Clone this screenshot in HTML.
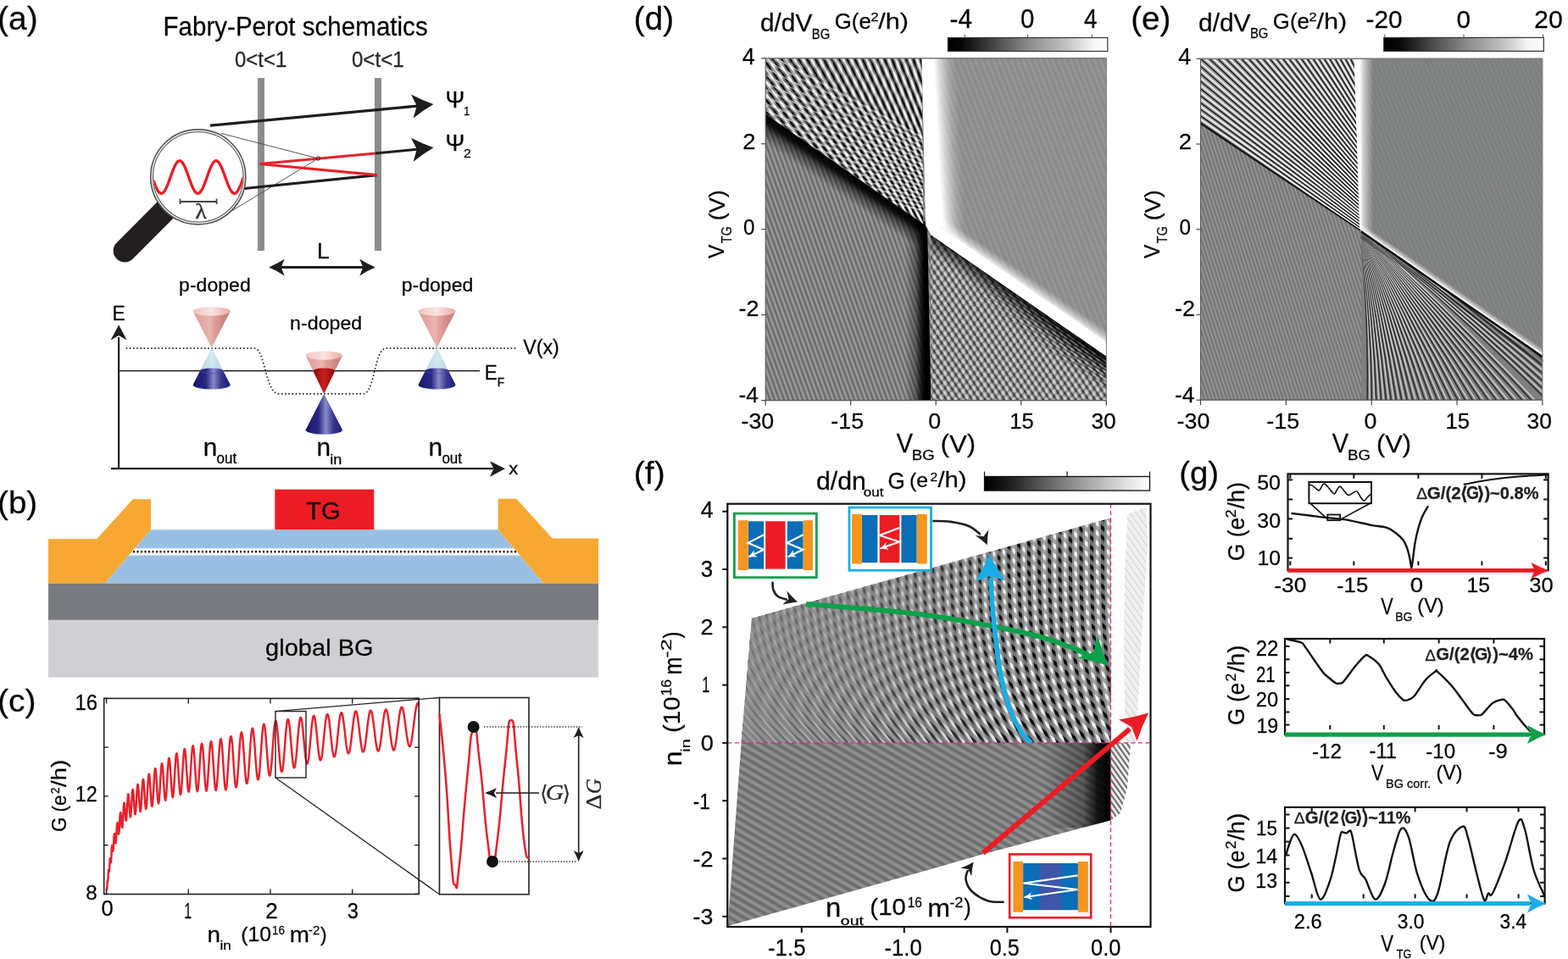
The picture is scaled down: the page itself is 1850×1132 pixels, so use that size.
<!DOCTYPE html>
<html><head><meta charset="utf-8"><title>Fabry-Perot interference in graphene</title>
<style>
html,body{margin:0;padding:0;background:#fff;}
body{width:1850px;height:1132px;overflow:hidden;}
svg{display:block;font-family:'Liberation Sans', 'DejaVu Sans', sans-serif;}
text{stroke:#1d1d1b;stroke-width:0.28px;stroke-linejoin:round;}
</style></head><body>
<svg width="1850" height="1132" viewBox="0 0 1850 1132">
<defs>
<clipPath id="clipLens"><circle cx="233.75" cy="208.85" r="52.6"/></clipPath>
<linearGradient id="gPink" x1="0" x2="1" y1="0" y2="0">
<stop offset="0" stop-color="#dc9a96"/><stop offset="0.45" stop-color="#eab5b0"/>
<stop offset="0.55" stop-color="#e2a29d"/><stop offset="1" stop-color="#c07470"/></linearGradient>
<linearGradient id="gPinkTop" x1="0" x2="1"><stop offset="0" stop-color="#f2c3bf"/><stop offset="0.5" stop-color="#fbe4e1"/><stop offset="1" stop-color="#e6a9a5"/></linearGradient>
<linearGradient id="gLBlue" x1="0" x2="1"><stop offset="0" stop-color="#a6cddb"/><stop offset="0.5" stop-color="#d2e8ef"/><stop offset="1" stop-color="#a3c8d6"/></linearGradient>
<linearGradient id="gDBlue" x1="0" x2="1"><stop offset="0" stop-color="#16166a"/><stop offset="0.35" stop-color="#2a2a86"/>
<stop offset="0.55" stop-color="#8a8ac8"/><stop offset="0.75" stop-color="#3a3a92"/><stop offset="1" stop-color="#1c1c70"/></linearGradient>
<linearGradient id="gRed" x1="0" x2="1"><stop offset="0" stop-color="#8c0c0c"/><stop offset="0.5" stop-color="#c82020"/><stop offset="1" stop-color="#8a0a0a"/></linearGradient>
<clipPath id="clipC"><rect x="122.7" y="822.4" width="371.5" height="233.1"/></clipPath>
<linearGradient id="cbD" x1="0" x2="1"><stop offset="0" stop-color="#000"/><stop offset="0.08" stop-color="#050505"/>
<stop offset="0.3" stop-color="#4a4a4a"/><stop offset="0.5" stop-color="#8a8a8a"/><stop offset="0.75" stop-color="#c4c4c4"/>
<stop offset="0.92" stop-color="#f8f8f8"/><stop offset="1" stop-color="#fff"/></linearGradient>
<pattern id="pdUL" width="9.4" height="40" patternUnits="userSpaceOnUse" patternTransform="rotate(-24)"><rect width="9.4" height="40" fill="#8f8f8f"/><rect x="0" width="2.7" height="40" fill="#0a0a0a"/><rect x="2.7" width="0.9" height="40" fill="#4a4a4a"/><rect x="4.7" width="3" height="40" fill="#fbfbfb"/><rect x="7.7" width="0.9" height="40" fill="#c8c8c8"/></pattern>
<pattern id="pdUL2" width="11" height="40" patternUnits="userSpaceOnUse" patternTransform="rotate(14)"><rect x="0" width="4" height="40" fill="#ffffff" fill-opacity="0.16"/><rect x="5.5" width="4" height="40" fill="#000" fill-opacity="0.14"/></pattern>
<pattern id="pdLL" width="5.2" height="40" patternUnits="userSpaceOnUse" patternTransform="rotate(-20)"><rect width="5.2" height="40" fill="#7f7f7f"/><rect x="0" width="1.2" height="40" fill="#626262"/><rect x="2.5" width="1.4" height="40" fill="#a4a4a4"/></pattern>
<pattern id="pdUR" width="6.5" height="40" patternUnits="userSpaceOnUse" patternTransform="rotate(-22)"><rect width="6.5" height="40" fill="#8f8f8f"/><rect x="0" width="1.2" height="40" fill="#9a9a9a"/><rect x="3" width="1" height="40" fill="#868686"/></pattern>
<pattern id="pdLR" width="6.4" height="40" patternUnits="userSpaceOnUse" patternTransform="rotate(-33)"><rect width="6.4" height="40" fill="#949494"/><rect x="0" width="1.6" height="40" fill="#3e3e3e"/><rect x="3" width="1.8" height="40" fill="#d4d4d4"/></pattern>
<pattern id="pdLR2" width="7.5" height="40" patternUnits="userSpaceOnUse" patternTransform="rotate(40)"><rect x="0" width="2" height="40" fill="#000" fill-opacity="0.25"/><rect x="3.7" width="2" height="40" fill="#fff" fill-opacity="0.25"/></pattern>
<linearGradient id="gdShadow" gradientUnits="userSpaceOnUse" x1="996" y1="199.4" x2="980" y2="222.4">
<stop offset="0" stop-color="#000" stop-opacity="1"/><stop offset="0.28" stop-color="#000" stop-opacity="0.9"/>
<stop offset="0.55" stop-color="#000" stop-opacity="0.45"/><stop offset="1" stop-color="#000" stop-opacity="0"/></linearGradient>
<linearGradient id="gdVband" gradientUnits="userSpaceOnUse" x1="1068" y1="0" x2="1099" y2="0"><stop offset="0" stop-color="#000" stop-opacity="0"/>
<stop offset="0.4" stop-color="#000" stop-opacity="0.35"/><stop offset="0.62" stop-color="#000" stop-opacity="0.85"/><stop offset="0.75" stop-color="#000" stop-opacity="1"/></linearGradient>
<clipPath id="clipDUL"><path d="M903.2 68.8 L1087.6 68.8 L1089.4 264.3 L903.2 134.5 Z"/></clipPath>
<clipPath id="clipDUL2"><path d="M903.2 68.8 L1087.6 68.8 L1089.4 264.3 L903.2 134.5 Z"/></clipPath>
<linearGradient id="gdURl" gradientUnits="userSpaceOnUse" x1="1101" y1="69" x2="1128" y2="67.5"><stop offset="0" stop-color="#fff" stop-opacity="1"/>
<stop offset="0.3" stop-color="#fff" stop-opacity="0.6"/><stop offset="0.65" stop-color="#fff" stop-opacity="0.2"/><stop offset="1" stop-color="#fff" stop-opacity="0"/></linearGradient>
<linearGradient id="gdURd" gradientUnits="userSpaceOnUse" x1="1200" y1="332.5" x2="1207.5" y2="321.7"><stop offset="0" stop-color="#fff" stop-opacity="1"/>
<stop offset="0.4" stop-color="#fff" stop-opacity="0.5"/><stop offset="1" stop-color="#fff" stop-opacity="0"/></linearGradient>
<linearGradient id="gdLRt" gradientUnits="userSpaceOnUse" x1="1200" y1="347.6" x2="1188.5" y2="364"><stop offset="0" stop-color="#000" stop-opacity="0.95"/>
<stop offset="0.15" stop-color="#000" stop-opacity="0.6"/><stop offset="0.5" stop-color="#000" stop-opacity="0.3"/><stop offset="1" stop-color="#000" stop-opacity="0"/></linearGradient>
<linearGradient id="gdLRs" gradientUnits="userSpaceOnUse" x1="1130" y1="0" x2="1265" y2="0"><stop offset="0" stop-color="#000" stop-opacity="0"/><stop offset="1" stop-color="#000" stop-opacity="1"/></linearGradient>
<clipPath id="clipDLR"><path d="M1098.4 277.4 L1305.3 420.7 L1305.3 472.6 L1098.4 472.6 Z"/></clipPath>
<linearGradient id="cbE" x1="0" x2="1"><stop offset="0" stop-color="#000"/><stop offset="0.1" stop-color="#080808"/>
<stop offset="0.3" stop-color="#4a4a4a"/><stop offset="0.5" stop-color="#868686"/><stop offset="0.75" stop-color="#c2c2c2"/>
<stop offset="0.9" stop-color="#f4f4f4"/><stop offset="1" stop-color="#fff"/></linearGradient>
<pattern id="peUL" width="6.4" height="40" patternUnits="userSpaceOnUse" patternTransform="rotate(-50)"><rect width="6.4" height="40" fill="#b0b0b0"/><rect x="0" width="1.5" height="40" fill="#111"/><rect x="1.5" width="0.8" height="40" fill="#5a5a5a"/><rect x="3.4" width="2" height="40" fill="#f8f8f8"/></pattern>
<pattern id="peULb" width="6" height="40" patternUnits="userSpaceOnUse" patternTransform="rotate(-34)"><rect width="6" height="40" fill="#a8a8a8"/><rect x="0" width="1.5" height="40" fill="#111"/><rect x="1.5" width="0.8" height="40" fill="#5a5a5a"/><rect x="3.2" width="1.9" height="40" fill="#f8f8f8"/></pattern>
<pattern id="peUL2" width="9" height="40" patternUnits="userSpaceOnUse" patternTransform="rotate(5)"><rect x="0" width="3" height="40" fill="#fff" fill-opacity="0.12"/><rect x="4.5" width="3" height="40" fill="#000" fill-opacity="0.12"/></pattern>
<pattern id="peLL" width="4.2" height="40" patternUnits="userSpaceOnUse" patternTransform="rotate(-18)"><rect width="4.2" height="40" fill="#838383"/><rect x="0" width="1" height="40" fill="#6c6c6c"/><rect x="2.1" width="1" height="40" fill="#9b9b9b"/></pattern>
<pattern id="peUR" width="5" height="40" patternUnits="userSpaceOnUse" patternTransform="rotate(-22)"><rect width="5" height="40" fill="#808181"/><rect x="0" width="1" height="40" fill="#878888"/><rect x="2.5" width="1" height="40" fill="#7a7b7b"/></pattern>
<pattern id="peLR" width="6.2" height="40" patternUnits="userSpaceOnUse" patternTransform="rotate(-42)"><rect width="6.2" height="40" fill="#7e7e7e"/><rect x="0" width="1.5" height="40" fill="#3a3a3a"/><rect x="3.1" width="1.6" height="40" fill="#c6c6c6"/></pattern>
<pattern id="peLRb" width="5.6" height="40" patternUnits="userSpaceOnUse" patternTransform="rotate(-22)"><rect width="5.6" height="40" fill="#7e7e7e"/><rect x="0" width="1.4" height="40" fill="#333"/><rect x="2.8" width="1.5" height="40" fill="#cfcfcf"/></pattern>
<pattern id="peLRc" width="4.6" height="40" patternUnits="userSpaceOnUse" patternTransform="rotate(-8)"><rect width="4.6" height="40" fill="#7c7c7c"/><rect x="0" width="1.1" height="40" fill="#444"/><rect x="2.3" width="1.2" height="40" fill="#bdbdbd"/></pattern>
<clipPath id="clipEUL"><path d="M1416.5 69.3 L1597.6 69.3 L1605 270.9 L1416.5 144.8 Z"/></clipPath>
<linearGradient id="geURl" gradientUnits="userSpaceOnUse" x1="1604" y1="0" x2="1620" y2="0"><stop offset="0" stop-color="#fff" stop-opacity="1"/>
<stop offset="0.35" stop-color="#fff" stop-opacity="0.55"/><stop offset="1" stop-color="#fff" stop-opacity="0"/></linearGradient>
<linearGradient id="geURd" gradientUnits="userSpaceOnUse" x1="1710" y1="344.5" x2="1714.5" y2="338"><stop offset="0" stop-color="#fff" stop-opacity="1"/>
<stop offset="1" stop-color="#fff" stop-opacity="0"/></linearGradient>
<clipPath id="clipELR"><path d="M1606 272 L1819.9 419.8 L1819.9 472.2 L1606 472.2 Z"/></clipPath>
<clipPath id="clipF"><path d="M887 729.9 L1310.5 611.4 L1310.5 968.3 L1159.8 1008.2 L1100 1025.6 L859 1093 L860 1073 L874.6 876.9 Z"/></clipPath>
<pattern id="pfU" width="13" height="11.5" patternUnits="userSpaceOnUse" patternTransform="translate(3 0)">
<rect width="13" height="11.5" fill="#8e8e8e"/>
<path d="M1 0 L5.5 0 L8.5 5.2 L4 5.2 Z" fill="#0a0a0a"/>
<path d="M6 5.2 L10.5 5.2 L13 10 L8.5 10 Z" fill="#f2f2f2"/>
<path d="M8.5 0 L10.5 0 L12 3 L10 3 Z" fill="#d0d0d0"/>
<path d="M0 6 L2.5 6 L4 9.5 L1.5 9.5 Z" fill="#3a3a3a"/>
</pattern>
<pattern id="pfL" width="8.2" height="40" patternUnits="userSpaceOnUse" patternTransform="rotate(-60)"><rect width="8.2" height="40" fill="#7e7e7e"/><rect x="0" width="2.2" height="40" fill="#686868"/><rect x="4.1" width="2" height="40" fill="#969696"/></pattern>
<pattern id="pfUL" width="7" height="40" patternUnits="userSpaceOnUse" patternTransform="rotate(14)"><rect width="7" height="40" fill="#8c8c8c"/><rect x="0" width="1.6" height="40" fill="#5a5a5a"/><rect x="3.4" width="1.6" height="40" fill="#b8b8b8"/></pattern>
<pattern id="pfBlob" width="8.8" height="40" patternUnits="userSpaceOnUse" patternTransform="rotate(-50)"><rect x="0" width="4.6" height="40" fill="#8d8d8d" fill-opacity="0.78"/></pattern>
<linearGradient id="gfFade" gradientUnits="userSpaceOnUse" x1="860" y1="0" x2="1200" y2="0">
<stop offset="0" stop-color="#8c8c8c" stop-opacity="0.85"/><stop offset="0.45" stop-color="#8c8c8c" stop-opacity="0.6"/>
<stop offset="1" stop-color="#8c8c8c" stop-opacity="0"/></linearGradient>
<linearGradient id="gfDark" gradientUnits="userSpaceOnUse" x1="1230" y1="0" x2="1311" y2="0">
<stop offset="0" stop-color="#000" stop-opacity="0"/><stop offset="0.6" stop-color="#000" stop-opacity="0.35"/>
<stop offset="0.8" stop-color="#000" stop-opacity="0.85"/><stop offset="1" stop-color="#000" stop-opacity="1"/></linearGradient>
<pattern id="pfR" width="6" height="40" patternUnits="userSpaceOnUse" patternTransform="rotate(-35)"><rect width="6" height="40" fill="#f6f6f6"/><rect x="0" width="1.6" height="40" fill="#d6d6d6"/><rect x="3" width="1.2" height="40" fill="#e8e8e8"/></pattern>
<pattern id="pfR2" width="5" height="40" patternUnits="userSpaceOnUse" patternTransform="rotate(-35)"><rect width="5" height="40" fill="#dcdcdc"/><rect x="0" width="1.6" height="40" fill="#555"/><rect x="2.5" width="1.3" height="40" fill="#f8f8f8"/></pattern>
<linearGradient id="cbF" x1="0" x2="1"><stop offset="0" stop-color="#000"/><stop offset="0.12" stop-color="#151515"/>
<stop offset="0.35" stop-color="#5a5a5a"/><stop offset="0.6" stop-color="#a0a0a0"/><stop offset="0.85" stop-color="#dedede"/><stop offset="1" stop-color="#fff"/></linearGradient>
<linearGradient id="gfBar" x1="0" x2="1"><stop offset="0" stop-color="#0a6db6"/><stop offset="0.28" stop-color="#0a6db6"/>
<stop offset="0.34" stop-color="#3f55a8"/><stop offset="0.66" stop-color="#3f55a8"/><stop offset="0.72" stop-color="#0a6db6"/><stop offset="1" stop-color="#0a6db6"/></linearGradient>
</defs>
<rect width="1850" height="1132" fill="#fff"/>
<rect x="304" y="92" width="8" height="204" fill="#8c8c8c" />
<rect x="442" y="92" width="8" height="204" fill="#8c8c8c" />
<line x1="261" y1="157.5" x2="375.4" y2="187" stroke="#555" stroke-width="1" />
<line x1="272.5" y1="249.5" x2="375.4" y2="187" stroke="#555" stroke-width="1" />
<line x1="248" y1="148.2" x2="495" y2="124.8" stroke="#1d1d1b" stroke-width="3.2" />
<path d="M511.7 123.1 Q499.55 130.02 487.64 139.45 L491.79 125 L484.99 111.58 Q498.46 118.59 511.7 123.1 Z" fill="#1d1d1b" />
<line x1="288.5" y1="222.5" x2="445" y2="206.6" stroke="#1d1d1b" stroke-width="3.2" />
<line x1="445" y1="206.6" x2="306.5" y2="193.5" stroke="#e8202a" stroke-width="3.2" />
<line x1="306.5" y1="193.5" x2="443" y2="181" stroke="#e8202a" stroke-width="3.2" />
<line x1="443" y1="181" x2="495" y2="176" stroke="#1d1d1b" stroke-width="3.2" />
<path d="M511.7 174.3 Q499.57 181.25 487.68 190.71 L491.79 176.24 L484.96 162.84 Q498.45 169.82 511.7 174.3 Z" fill="#1d1d1b" />
<circle cx="375.4" cy="187" r="2.2" fill="none" stroke="#333" stroke-width="1"/>
<line x1="147.2" y1="296" x2="205" y2="238" stroke="#231f20" stroke-width="27" stroke-linecap="round"/>
<circle cx="233.75" cy="208.85" r="56" fill="#fff" stroke="#555" stroke-width="1.7"/>
<circle cx="233.75" cy="208.85" r="53.3" fill="#fff" stroke="#666" stroke-width="1.3"/>
<path d="M181 213.03 L182.06 215.9 L183.13 218.6 L184.19 221.07 L185.25 223.26 L186.31 225.11 L187.38 226.57 L188.44 227.61 L189.5 228.2 L190.57 228.34 L191.63 228.01 L192.69 227.24 L193.76 226.02 L194.82 224.4 L195.88 222.41 L196.94 220.1 L198.01 217.52 L199.07 214.74 L200.13 211.83 L201.2 208.85 L202.26 205.87 L203.32 202.97 L204.39 200.22 L205.45 197.67 L206.51 195.4 L207.57 193.46 L208.64 191.89 L209.7 190.73 L210.76 190.01 L211.83 189.75 L212.89 189.95 L213.95 190.61 L215.02 191.71 L216.08 193.22 L217.14 195.12 L218.21 197.34 L219.27 199.85 L220.33 202.58 L221.39 205.47 L222.46 208.44 L223.52 211.42 L224.58 214.35 L225.65 217.15 L226.71 219.76 L227.77 222.11 L228.84 224.14 L229.9 225.82 L230.96 227.09 L232.02 227.93 L233.09 228.32 L234.15 228.25 L235.21 227.72 L236.28 226.74 L237.34 225.33 L238.4 223.54 L239.47 221.39 L240.53 218.96 L241.59 216.28 L242.65 213.43 L243.72 210.48 L244.78 207.49 L245.84 204.54 L246.91 201.7 L247.97 199.03 L249.03 196.61 L250.1 194.48 L251.16 192.7 L252.22 191.31 L253.28 190.35 L254.35 189.84 L255.41 189.78 L256.47 190.19 L257.54 191.05 L258.6 192.35 L259.66 194.04 L260.73 196.09 L261.79 198.45 L262.85 201.07 L263.91 203.88 L264.98 206.81 L266.04 209.8 L267.1 212.76 L268.17 215.64 L269.23 218.36 L270.29 220.86 L271.36 223.07 L272.42 224.95 L273.48 226.45 L274.54 227.53 L275.61 228.17 L276.67 228.35 L277.73 228.06 L278.8 227.32 L279.86 226.15 L280.92 224.56 L281.99 222.6 L283.05 220.32 L284.11 217.77 L285.17 215 L286.24 212.1 L287.3 209.12" fill="none" stroke="#ec1c24" stroke-width="3.3" stroke-linejoin="round" clip-path="url(#clipLens)"/>
<line x1="212.5" y1="238" x2="255.6" y2="238" stroke="#444" stroke-width="1.8" />
<line x1="212.5" y1="234.6" x2="212.5" y2="241" stroke="#444" stroke-width="1.8" />
<line x1="255.6" y1="234.6" x2="255.6" y2="241" stroke="#444" stroke-width="1.8" />
<line x1="330" y1="315.6" x2="432" y2="315.6" stroke="#1d1d1b" stroke-width="3" />
<path d="M317.2 315.6 Q326.45 311.58 335.7 305.8 L331.7 315.6 L335.7 325.4 Q326.45 319.62 317.2 315.6 Z" fill="#1d1d1b" />
<path d="M442.8 315.6 Q433.55 319.62 424.3 325.4 L428.3 315.6 L424.3 305.8 Q433.55 311.58 442.8 315.6 Z" fill="#1d1d1b" />
<line x1="140.1" y1="398" x2="140.1" y2="553.5" stroke="#1d1d1b" stroke-width="2.2" />
<path d="M140.1 383.6 L130.6 401.5 L140.1 396 L149.7 401.5 Z" fill="#1d1d1b" />
<line x1="131" y1="553.2" x2="582" y2="553.2" stroke="#1d1d1b" stroke-width="2.2" />
<path d="M596 553.2 L578 544.3 L582.5 553.2 L578 562.7 Z" fill="#1d1d1b" />
<line x1="140.1" y1="437.7" x2="566" y2="437.7" stroke="#222" stroke-width="1.6" />
<path d="M148.6 411.2 L300 411.2 C313 411.2 313 464.8 328.8 464.8 L428 464.8 C443 464.8 441 411.2 455.8 411.2 L609.7 411.2" fill="none" stroke="#222" stroke-width="1.7" stroke-dasharray="1.6 2.6"/>
<path d="M227.7 367.5 L249.7 410.5 L271.7 367.5 Z" fill="url(#gPink)" />
<ellipse cx="249.7" cy="367.5" rx="22" ry="5.2" fill="url(#gPinkTop)"/>
<path d="M249.7 410.5 L227.7 454.3 L271.7 454.3 Z" fill="url(#gLBlue)" />
<path d="M236.04 437.7 L227.7 454.3 A22 5.2 0 0 0 271.7 454.3 L263.36 437.7 A13.66 3.12 0 0 0 236.04 437.7 Z" fill="url(#gDBlue)" />
<path d="M236.04 437.7 A13.66 3.12 0 0 0 263.36 437.7" fill="none" stroke="#4a4aa0" stroke-width="1" opacity="0.6"/>
<path d="M493.5 367.5 L515.5 410.5 L537.5 367.5 Z" fill="url(#gPink)" />
<ellipse cx="515.5" cy="367.5" rx="22" ry="5.2" fill="url(#gPinkTop)"/>
<path d="M515.5 410.5 L493.5 454.3 L537.5 454.3 Z" fill="url(#gLBlue)" />
<path d="M501.84 437.7 L493.5 454.3 A22 5.2 0 0 0 537.5 454.3 L529.16 437.7 A13.66 3.12 0 0 0 501.84 437.7 Z" fill="url(#gDBlue)" />
<path d="M501.84 437.7 A13.66 3.12 0 0 0 529.16 437.7" fill="none" stroke="#4a4aa0" stroke-width="1" opacity="0.6"/>
<path d="M360.6 419.6 L382.3 464.8 L404 419.6 Z" fill="url(#gPink)" />
<ellipse cx="382.3" cy="419.6" rx="21.7" ry="5.2" fill="url(#gPinkTop)"/>
<path d="M369.29 437.7 L382.3 464.8 L395.31 437.7 A13.01 3.12 0 0 0 369.29 437.7 Z" fill="url(#gRed)" />
<path d="M382.3 464.8 L360.6 507.6 A21.7 5.2 0 0 0 404 507.6 Z" fill="url(#gDBlue)" />
<rect x="57" y="731.6" width="649" height="68" fill="#d0d0d4" />
<rect x="57" y="688.4" width="649" height="43.4" fill="#787b7f" />
<path d="M178 625.2 L587.6 625.2 L641.6 688.4 L123.7 688.4 Z" fill="#99c0e3" />
<path d="M154.6 647.2 L611 647.2 L618 655.4 L147.6 655.4 Z" fill="#fff" />
<line x1="157" y1="651.3" x2="610" y2="651.3" stroke="#111" stroke-width="2.6" stroke-dasharray="2 2.5"/>
<path d="M57 636.2 L114.2 636.2 L156.8 589.2 L178 589.2 L178 625.2 L123.7 688.4 L57 688.4 Z" fill="#f7a833" />
<path d="M587.6 588.8 L609.2 588.8 L651.9 635.4 L706 635.4 L706 688.4 L641.6 688.4 L587.6 625.2 Z" fill="#f7a833" />
<rect x="324.3" y="577.7" width="117" height="47.5" fill="#ec1c24" />
<path d="M125.6 1051.07 L125.79 1050.09 L125.99 1048.04 L126.18 1049.11 L126.37 1046.4 L126.57 1041.91 L126.76 1039.68 L126.95 1040.18 L127.15 1041 L127.34 1039.8 L127.53 1036.2 L127.73 1031.62 L127.92 1027.98 L128.11 1026.46 L128.31 1026.92 L128.5 1028.18 L128.69 1029.26 L128.89 1028.56 L129.08 1025.95 L129.27 1022.08 L129.47 1018.02 L129.66 1014.87 L129.85 1013.3 L130.05 1013.41 L130.24 1014.78 L130.44 1016.6 L130.63 1017.98 L130.82 1018.19 L131.02 1016.89 L131.21 1014.12 L131.4 1010.32 L131.6 1006.16 L131.79 1002.36 L131.98 999.53 L132.18 998.06 L132.37 997.99 L132.56 999.09 L132.76 1000.88 L132.95 1002.76 L133.14 1004.14 L133.34 1004.52 L133.53 1004.1 L133.72 1002.36 L133.92 999.53 L134.11 995.98 L134.3 992.23 L134.5 988.77 L134.69 986.07 L134.88 984.44 L135.08 984.02 L135.27 984.77 L135.46 986.45 L135.66 988.73 L135.85 991.17 L136.04 993.34 L136.24 994.84 L136.43 995.39 L136.62 994.83 L136.82 993.15 L137.01 990.5 L137.2 987.14 L137.4 983.39 L137.59 979.66 L137.78 976.3 L137.98 973.64 L138.17 971.9 L138.36 971.21 L138.56 971.57 L138.75 972.85 L138.94 974.84 L139.14 977.25 L139.33 979.75 L139.52 982 L139.72 983.7 L139.91 984.61 L140.11 984.57 L140.3 983.75 L140.49 981.97 L140.69 979.36 L140.88 976.13 L141.07 972.56 L141.27 968.95 L141.46 965.57 L141.65 962.71 L141.85 960.58 L142.04 959.33 L142.23 959.03 L142.43 959.66 L142.62 961.13 L142.81 963.28 L143.01 965.87 L143.2 968.67 L143.39 971.4 L143.59 973.81 L143.78 975.66 L143.97 976.78 L144.17 977.04 L144.36 976.4 L144.55 974.86 L144.75 972.53 L144.94 969.54 L145.13 966.08 L145.33 962.39 L145.52 958.71 L145.71 955.26 L145.91 952.27 L146.1 949.93 L146.29 948.36 L146.49 947.64 L146.68 947.79 L146.87 948.77 L147.07 950.49 L147.26 952.79 L147.45 955.49 L147.65 958.38 L147.84 961.24 L148.03 963.86 L148.23 966.04 L148.42 967.61 L148.61 968.45 L148.81 968.47 L149 967.65 L149.19 966.01 L149.39 963.64 L149.58 960.64 L149.78 957.17 L149.97 953.7 L150.16 950.16 L150.36 946.75 L150.55 943.66 L150.74 941.06 L150.94 939.09 L151.13 937.84 L151.32 937.39 L151.52 937.73 L151.71 938.85 L151.9 940.66 L152.1 943.05 L152.29 945.89 L152.48 949 L152.68 952.21 L152.87 955.34 L153.06 958.22 L153.26 960.68 L153.45 962.59 L153.64 963.84 L153.84 964.37 L154.03 964.14 L154.22 963.16 L154.42 961.48 L154.61 959.16 L154.8 956.33 L155 953.12 L155.19 949.68 L155.38 946.18 L155.58 942.77 L155.77 939.61 L155.96 936.85 L156.16 934.62 L156.35 933 L156.54 932.07 L156.74 931.86 L156.93 932.36 L157.12 933.56 L157.32 935.37 L157.51 937.72 L157.7 940.48 L157.9 943.52 L158.09 946.7 L158.28 949.87 L158.48 952.88 L158.67 955.59 L158.86 957.87 L159.06 959.63 L159.25 960.77 L159.45 961.25 L159.64 961.04 L159.83 960.14 L160.03 958.59 L160.22 956.45 L160.41 953.8 L160.61 950.75 L160.8 947.42 L160.99 943.94 L161.19 940.45 L161.38 937.09 L161.57 933.98 L161.77 931.24 L161.96 928.98 L162.15 927.28 L162.35 926.2 L162.54 925.78 L162.73 926.02 L162.93 926.9 L163.12 928.39 L163.31 930.42 L163.51 932.91 L163.7 935.75 L163.89 938.82 L164.09 942.01 L164.28 945.19 L164.47 948.26 L164.67 951.06 L164.86 953.5 L165.05 955.48 L165.25 956.92 L165.44 957.77 L165.63 957.99 L165.83 957.58 L166.02 956.53 L166.21 954.89 L166.41 952.72 L166.6 950.08 L166.79 947.07 L166.99 943.78 L167.18 940.34 L167.37 936.85 L167.57 933.44 L167.76 930.21 L167.95 927.28 L168.15 924.74 L168.34 922.66 L168.53 921.13 L168.73 920.17 L168.92 919.83 L169.12 920.1 L169.31 920.96 L169.5 922.4 L169.7 924.35 L169.89 926.74 L170.08 929.5 L170.28 932.51 L170.47 935.7 L170.66 938.93 L170.86 942.11 L171.05 945.13 L171.24 947.89 L171.44 950.3 L171.63 952.28 L171.82 953.75 L172.02 954.68 L172.21 955.03 L172.4 954.79 L172.6 953.95 L172.79 952.55 L172.98 950.63 L173.18 948.23 L173.37 945.43 L173.56 942.31 L173.76 938.97 L173.95 935.49 L174.14 931.99 L174.34 928.55 L174.53 925.29 L174.72 922.29 L174.92 919.64 L175.11 917.41 L175.3 915.66 L175.5 914.44 L175.69 913.78 L175.88 913.7 L176.08 914.19 L176.27 915.23 L176.46 916.8 L176.66 918.83 L176.85 921.27 L177.04 924.05 L177.24 927.08 L177.43 930.27 L177.62 933.53 L177.82 936.76 L178.01 939.88 L178.2 942.79 L178.4 945.4 L178.59 947.65 L178.79 949.46 L178.98 950.79 L179.17 951.59 L179.37 951.84 L179.56 951.54 L179.75 950.68 L179.95 949.29 L180.14 947.39 L180.33 945.05 L180.53 942.32 L180.72 939.26 L180.91 935.96 L181.11 932.49 L181.3 928.96 L181.49 925.43 L181.69 922.02 L181.88 918.79 L182.07 915.83 L182.27 913.21 L182.46 910.99 L182.65 909.24 L182.85 907.98 L183.04 907.25 L183.23 907.06 L183.43 907.41 L183.62 908.3 L183.81 909.71 L184.01 911.59 L184.2 913.88 L184.39 916.52 L184.59 919.44 L184.78 922.57 L184.97 925.83 L185.17 929.13 L185.36 932.4 L185.55 935.54 L185.75 938.48 L185.94 941.15 L186.13 943.47 L186.33 945.4 L186.52 946.88 L186.71 947.88 L186.91 948.37 L187.1 948.34 L187.29 947.79 L187.49 946.72 L187.68 945.17 L187.87 943.16 L188.07 940.74 L188.26 937.97 L188.46 934.91 L188.65 931.62 L188.84 928.19 L189.04 924.68 L189.23 921.18 L189.42 917.76 L189.62 914.5 L189.81 911.47 L190 908.73 L190.2 906.34 L190.39 904.36 L190.58 902.82 L190.78 901.76 L190.97 901.2 L191.16 901.14 L191.36 901.58 L191.55 902.51 L191.74 903.9 L191.94 905.73 L192.13 907.95 L192.32 910.5 L192.52 913.33 L192.71 916.37 L192.9 919.56 L193.1 922.82 L193.29 926.08 L193.48 929.27 L193.68 932.31 L193.87 935.14 L194.06 937.7 L194.26 939.93 L194.45 941.78 L194.64 943.22 L194.84 944.2 L195.03 944.71 L195.22 944.73 L195.42 944.26 L195.61 943.32 L195.8 941.91 L196 940.07 L196.19 937.83 L196.38 935.23 L196.58 932.34 L196.77 929.2 L196.96 925.88 L197.16 922.44 L197.35 918.95 L197.54 915.49 L197.74 912.11 L197.93 908.88 L198.13 905.87 L198.32 903.13 L198.51 900.72 L198.71 898.67 L198.9 897.04 L199.09 895.84 L199.29 895.1 L199.48 894.83 L199.67 895.04 L199.87 895.7 L200.06 896.82 L200.25 898.37 L200.45 900.3 L200.64 902.59 L200.83 905.18 L201.03 908.02 L201.22 911.05 L201.41 914.22 L201.61 917.46 L201.8 920.7 L201.99 923.89 L202.19 926.95 L202.38 929.84 L202.57 932.48 L202.77 934.84 L202.96 936.86 L203.15 938.52 L203.35 939.77 L203.54 940.6 L203.73 940.97 L203.93 940.88 L204.12 940.34 L204.31 939.36 L204.51 937.94 L204.7 936.12 L204.89 933.93 L205.09 931.4 L205.28 928.59 L205.47 925.55 L205.67 922.32 L205.86 918.97 L206.05 915.55 L206.25 912.13 L206.44 908.76 L206.63 905.51 L206.83 902.42 L207.02 899.57 L207.21 896.98 L207.41 894.72 L207.6 892.8 L207.8 891.28 L207.99 890.17 L208.18 889.48 L208.38 889.24 L208.57 889.43 L208.76 890.07 L208.96 891.12 L209.15 892.57 L209.34 894.4 L209.54 896.57 L209.73 899.03 L209.92 901.75 L210.12 904.68 L210.31 907.76 L210.5 910.94 L210.7 914.17 L210.89 917.38 L211.08 920.52 L211.28 923.54 L211.47 926.38 L211.66 928.99 L211.86 931.33 L212.05 933.36 L212.24 935.05 L212.44 936.35 L212.63 937.26 L212.82 937.75 L213.02 937.82 L213.21 937.47 L213.4 936.69 L213.6 935.51 L213.79 933.94 L213.98 932 L214.18 929.73 L214.37 927.16 L214.56 924.34 L214.76 921.31 L214.95 918.11 L215.14 914.8 L215.34 911.44 L215.53 908.07 L215.72 904.75 L215.92 901.53 L216.11 898.45 L216.3 895.58 L216.5 892.95 L216.69 890.6 L216.88 888.57 L217.08 886.89 L217.27 885.58 L217.47 884.66 L217.66 884.15 L217.85 884.05 L218.05 884.36 L218.24 885.08 L218.43 886.18 L218.63 887.66 L218.82 889.48 L219.01 891.62 L219.21 894.04 L219.4 896.7 L219.59 899.55 L219.79 902.56 L219.98 905.68 L220.17 908.85 L220.37 912.02 L220.56 915.15 L220.75 918.19 L220.95 921.08 L221.14 923.78 L221.33 926.26 L221.53 928.47 L221.72 930.37 L221.91 931.94 L222.11 933.16 L222.3 934 L222.49 934.51 L222.69 934.62 L222.88 934.33 L223.07 933.65 L223.27 932.58 L223.46 931.15 L223.65 929.37 L223.85 927.27 L224.04 924.89 L224.23 922.25 L224.43 919.39 L224.62 916.37 L224.81 913.21 L225.01 909.98 L225.2 906.71 L225.39 903.45 L225.59 900.25 L225.78 897.16 L225.97 894.22 L226.17 891.47 L226.36 888.95 L226.55 886.7 L226.75 884.74 L226.94 883.11 L227.14 881.83 L227.33 880.92 L227.52 880.38 L227.72 880.23 L227.91 880.46 L228.1 881.07 L228.3 882.06 L228.49 883.4 L228.68 885.08 L228.88 887.07 L229.07 889.34 L229.26 891.86 L229.46 894.6 L229.65 897.52 L229.84 900.56 L230.04 903.7 L230.23 906.88 L230.42 910.07 L230.62 913.21 L230.81 916.27 L231 919.2 L231.2 921.96 L231.39 924.51 L231.58 926.81 L231.78 928.84 L231.97 930.57 L232.16 931.97 L232.36 933.03 L232.55 933.73 L232.74 934.05 L232.94 934.01 L233.13 933.59 L233.32 932.8 L233.52 931.66 L233.71 930.18 L233.9 928.37 L234.1 926.27 L234.29 923.9 L234.48 921.3 L234.68 918.49 L234.87 915.52 L235.06 912.42 L235.26 909.24 L235.45 906.02 L235.64 902.8 L235.84 899.61 L236.03 896.52 L236.22 893.54 L236.42 890.73 L236.61 888.12 L236.81 885.74 L237 883.63 L237.19 881.8 L237.39 880.29 L237.58 879.11 L237.77 878.27 L237.97 877.8 L238.16 877.68 L238.35 877.93 L238.55 878.53 L238.74 879.49 L238.93 880.78 L239.13 882.39 L239.32 884.3 L239.51 886.48 L239.71 888.91 L239.9 891.55 L240.09 894.36 L240.29 897.32 L240.48 900.39 L240.67 903.52 L240.87 906.67 L241.06 909.81 L241.25 912.89 L241.45 915.88 L241.64 918.73 L241.83 921.42 L242.03 923.91 L242.22 926.16 L242.41 928.15 L242.61 929.85 L242.8 931.25 L242.99 932.32 L243.19 933.06 L243.38 933.44 L243.57 933.48 L243.77 933.16 L243.96 932.5 L244.15 931.49 L244.35 930.16 L244.54 928.51 L244.73 926.58 L244.93 924.37 L245.12 921.93 L245.31 919.27 L245.51 916.44 L245.7 913.46 L245.89 910.37 L246.09 907.22 L246.28 904.02 L246.48 900.83 L246.67 897.69 L246.86 894.62 L247.06 891.67 L247.25 888.87 L247.44 886.26 L247.64 883.86 L247.83 881.7 L248.02 879.81 L248.22 878.21 L248.41 876.92 L248.6 875.95 L248.8 875.32 L248.99 875.02 L249.18 875.07 L249.38 875.46 L249.57 876.18 L249.76 877.23 L249.96 878.6 L250.15 880.27 L250.34 882.21 L250.54 884.4 L250.73 886.83 L250.92 889.45 L251.12 892.24 L251.31 895.17 L251.5 898.2 L251.7 901.29 L251.89 904.41 L252.08 907.53 L252.28 910.6 L252.47 913.59 L252.66 916.48 L252.86 919.21 L253.05 921.77 L253.24 924.12 L253.44 926.23 L253.63 928.09 L253.82 929.66 L254.02 930.94 L254.21 931.91 L254.4 932.56 L254.6 932.87 L254.79 932.85 L254.98 932.5 L255.18 931.82 L255.37 930.82 L255.56 929.5 L255.76 927.89 L255.95 926 L256.15 923.86 L256.34 921.48 L256.53 918.89 L256.73 916.13 L256.92 913.22 L257.11 910.19 L257.31 907.08 L257.5 903.93 L257.69 900.76 L257.89 897.61 L258.08 894.51 L258.27 891.51 L258.47 888.63 L258.66 885.9 L258.85 883.35 L259.05 881.01 L259.24 878.9 L259.43 877.06 L259.63 875.48 L259.82 874.21 L260.01 873.23 L260.21 872.58 L260.4 872.24 L260.59 872.23 L260.79 872.55 L260.98 873.19 L261.17 874.14 L261.37 875.39 L261.56 876.94 L261.75 878.75 L261.95 880.82 L262.14 883.11 L262.33 885.61 L262.53 888.29 L262.72 891.11 L262.91 894.05 L263.11 897.08 L263.3 900.16 L263.49 903.26 L263.69 906.36 L263.88 909.4 L264.07 912.37 L264.27 915.23 L264.46 917.95 L264.65 920.5 L264.85 922.85 L265.04 924.99 L265.23 926.89 L265.43 928.52 L265.62 929.88 L265.82 930.94 L266.01 931.7 L266.2 932.15 L266.4 932.28 L266.59 932.09 L266.78 931.58 L266.98 930.77 L267.17 929.65 L267.36 928.24 L267.56 926.56 L267.75 924.62 L267.94 922.43 L268.14 920.03 L268.33 917.44 L268.52 914.68 L268.72 911.78 L268.91 908.77 L269.1 905.68 L269.3 902.54 L269.49 899.39 L269.68 896.25 L269.88 893.16 L270.07 890.15 L270.26 887.24 L270.46 884.48 L270.65 881.87 L270.84 879.42 L271.04 877.19 L271.23 875.2 L271.42 873.46 L271.62 872 L271.81 870.81 L272 869.93 L272.2 869.35 L272.39 869.07 L272.58 869.1 L272.78 869.45 L272.97 870.09 L273.16 871.03 L273.36 872.25 L273.55 873.75 L273.74 875.5 L273.94 877.49 L274.13 879.7 L274.32 882.1 L274.52 884.67 L274.71 887.38 L274.9 890.21 L275.1 893.13 L275.29 896.1 L275.49 899.11 L275.68 902.11 L275.87 905.08 L276.07 908 L276.26 910.82 L276.45 913.53 L276.65 916.09 L276.84 918.48 L277.03 920.68 L277.23 922.67 L277.42 924.43 L277.61 925.94 L277.81 927.18 L278 928.14 L278.19 928.82 L278.39 929.21 L278.58 929.3 L278.77 929.1 L278.97 928.59 L279.16 927.8 L279.35 926.72 L279.55 925.37 L279.74 923.76 L279.93 921.91 L280.13 919.82 L280.32 917.53 L280.51 915.04 L280.71 912.39 L280.9 909.61 L281.09 906.7 L281.29 903.71 L281.48 900.66 L281.67 897.57 L281.87 894.48 L282.06 891.42 L282.25 888.4 L282.45 885.47 L282.64 882.63 L282.83 879.93 L283.03 877.39 L283.22 875.02 L283.41 872.85 L283.61 870.9 L283.8 869.18 L283.99 867.71 L284.19 866.5 L284.38 865.56 L284.57 864.9 L284.77 864.53 L284.96 864.44 L285.16 864.64 L285.35 865.12 L285.54 865.88 L285.74 866.91 L285.93 868.19 L286.12 869.73 L286.32 871.49 L286.51 873.47 L286.7 875.64 L286.9 877.99 L287.09 880.49 L287.28 883.13 L287.48 885.86 L287.67 888.68 L287.86 891.55 L288.06 894.45 L288.25 897.34 L288.44 900.21 L288.64 903.03 L288.83 905.77 L289.02 908.41 L289.22 910.92 L289.41 913.28 L289.6 915.47 L289.8 917.47 L289.99 919.27 L290.18 920.83 L290.38 922.16 L290.57 923.24 L290.76 924.05 L290.96 924.6 L291.15 924.87 L291.34 924.87 L291.54 924.6 L291.73 924.05 L291.92 923.23 L292.12 922.15 L292.31 920.82 L292.5 919.24 L292.7 917.44 L292.89 915.43 L293.08 913.22 L293.28 910.83 L293.47 908.29 L293.66 905.62 L293.86 902.83 L294.05 899.96 L294.24 897.02 L294.44 894.05 L294.63 891.06 L294.83 888.08 L295.02 885.14 L295.21 882.26 L295.41 879.47 L295.6 876.79 L295.79 874.23 L295.99 871.83 L296.18 869.6 L296.37 867.56 L296.57 865.73 L296.76 864.11 L296.95 862.73 L297.15 861.6 L297.34 860.72 L297.53 860.09 L297.73 859.73 L297.92 859.64 L298.11 859.82 L298.31 860.25 L298.5 860.95 L298.69 861.89 L298.89 863.08 L299.08 864.51 L299.27 866.15 L299.47 867.99 L299.66 870.02 L299.85 872.23 L300.05 874.58 L300.24 877.07 L300.43 879.66 L300.63 882.34 L300.82 885.09 L301.01 887.87 L301.21 890.67 L301.4 893.47 L301.59 896.23 L301.79 898.94 L301.98 901.57 L302.17 904.1 L302.37 906.51 L302.56 908.78 L302.75 910.9 L302.95 912.83 L303.14 914.57 L303.33 916.1 L303.53 917.41 L303.72 918.49 L303.91 919.32 L304.11 919.91 L304.3 920.25 L304.5 920.33 L304.69 920.15 L304.88 919.72 L305.08 919.04 L305.27 918.1 L305.46 916.93 L305.66 915.53 L305.85 913.91 L306.04 912.08 L306.24 910.07 L306.43 907.87 L306.62 905.52 L306.82 903.02 L307.01 900.41 L307.2 897.7 L307.4 894.91 L307.59 892.06 L307.78 889.17 L307.98 886.28 L308.17 883.4 L308.36 880.55 L308.56 877.75 L308.75 875.04 L308.94 872.42 L309.14 869.92 L309.33 867.55 L309.52 865.34 L309.72 863.3 L309.91 861.45 L310.1 859.8 L310.3 858.37 L310.49 857.16 L310.68 856.18 L310.88 855.43 L311.07 854.94 L311.26 854.69 L311.46 854.68 L311.65 854.93 L311.84 855.42 L312.04 856.15 L312.23 857.11 L312.42 858.3 L312.62 859.7 L312.81 861.3 L313 863.1 L313.2 865.07 L313.39 867.19 L313.58 869.46 L313.78 871.86 L313.97 874.35 L314.17 876.93 L314.36 879.58 L314.55 882.26 L314.75 884.97 L314.94 887.68 L315.13 890.37 L315.33 893.01 L315.52 895.59 L315.71 898.09 L315.91 900.48 L316.1 902.76 L316.29 904.89 L316.49 906.87 L316.68 908.67 L316.87 910.29 L317.07 911.71 L317.26 912.92 L317.45 913.92 L317.65 914.68 L317.84 915.22 L318.03 915.52 L318.23 915.58 L318.42 915.4 L318.61 914.98 L318.81 914.32 L319 913.44 L319.19 912.33 L319.39 911.01 L319.58 909.49 L319.77 907.78 L319.97 905.88 L320.16 903.82 L320.35 901.61 L320.55 899.26 L320.74 896.8 L320.93 894.24 L321.13 891.61 L321.32 888.91 L321.51 886.17 L321.71 883.42 L321.9 880.66 L322.09 877.93 L322.29 875.24 L322.48 872.6 L322.67 870.05 L322.87 867.59 L323.06 865.25 L323.25 863.04 L323.45 860.98 L323.64 859.08 L323.83 857.36 L324.03 855.82 L324.22 854.48 L324.42 853.34 L324.61 852.42 L324.8 851.72 L325 851.24 L325.19 850.99 L325.38 850.97 L325.58 851.17 L325.77 851.6 L325.96 852.25 L326.16 853.11 L326.35 854.18 L326.54 855.45 L326.74 856.91 L326.93 858.55 L327.12 860.35 L327.32 862.3 L327.51 864.39 L327.7 866.6 L327.9 868.92 L328.09 871.32 L328.28 873.79 L328.48 876.31 L328.67 878.86 L328.86 881.43 L329.06 883.99 L329.25 886.53 L329.44 889.03 L329.64 891.47 L329.83 893.83 L330.02 896.09 L330.22 898.25 L330.41 900.28 L330.6 902.16 L330.8 903.9 L330.99 905.47 L331.18 906.86 L331.38 908.07 L331.57 909.08 L331.76 909.88 L331.96 910.48 L332.15 910.87 L332.34 911.05 L332.54 911.01 L332.73 910.75 L332.92 910.29 L333.12 909.61 L333.31 908.73 L333.5 907.66 L333.7 906.39 L333.89 904.94 L334.09 903.32 L334.28 901.54 L334.47 899.62 L334.67 897.56 L334.86 895.38 L335.05 893.1 L335.25 890.73 L335.44 888.29 L335.63 885.8 L335.83 883.27 L336.02 880.71 L336.21 878.16 L336.41 875.62 L336.6 873.11 L336.79 870.65 L336.99 868.25 L337.18 865.93 L337.37 863.72 L337.57 861.61 L337.76 859.63 L337.95 857.78 L338.15 856.09 L338.34 854.55 L338.53 853.19 L338.73 852.01 L338.92 851.01 L339.11 850.21 L339.31 849.6 L339.5 849.19 L339.69 848.99 L339.89 848.99 L340.08 849.19 L340.27 849.59 L340.47 850.19 L340.66 850.99 L340.85 851.96 L341.05 853.12 L341.24 854.44 L341.43 855.93 L341.63 857.56 L341.82 859.34 L342.01 861.23 L342.21 863.24 L342.4 865.35 L342.59 867.54 L342.79 869.8 L342.98 872.11 L343.17 874.46 L343.37 876.83 L343.56 879.2 L343.76 881.56 L343.95 883.89 L344.14 886.18 L344.34 888.41 L344.53 890.56 L344.72 892.63 L344.92 894.59 L345.11 896.44 L345.3 898.16 L345.5 899.75 L345.69 901.18 L345.88 902.45 L346.08 903.56 L346.27 904.49 L346.46 905.24 L346.66 905.81 L346.85 906.19 L347.04 906.38 L347.24 906.37 L347.43 906.18 L347.62 905.79 L347.82 905.22 L348.01 904.46 L348.2 903.52 L348.4 902.41 L348.59 901.14 L348.78 899.71 L348.98 898.13 L349.17 896.42 L349.36 894.58 L349.56 892.63 L349.75 890.57 L349.94 888.43 L350.14 886.22 L350.33 883.95 L350.52 881.63 L350.72 879.28 L350.91 876.91 L351.1 874.55 L351.3 872.2 L351.49 869.88 L351.68 867.61 L351.88 865.39 L352.07 863.25 L352.26 861.19 L352.46 859.23 L352.65 857.38 L352.84 855.65 L353.04 854.06 L353.23 852.61 L353.43 851.3 L353.62 850.16 L353.81 849.18 L354.01 848.37 L354.2 847.73 L354.39 847.28 L354.59 847 L354.78 846.91 L354.97 846.99 L355.17 847.26 L355.36 847.7 L355.55 848.32 L355.75 849.11 L355.94 850.06 L356.13 851.17 L356.33 852.42 L356.52 853.82 L356.71 855.35 L356.91 857 L357.1 858.76 L357.29 860.62 L357.49 862.57 L357.68 864.59 L357.87 866.67 L358.07 868.8 L358.26 870.96 L358.45 873.14 L358.65 875.32 L358.84 877.5 L359.03 879.66 L359.23 881.77 L359.42 883.84 L359.61 885.85 L359.81 887.79 L360 889.63 L360.19 891.38 L360.39 893.02 L360.58 894.54 L360.77 895.93 L360.97 897.18 L361.16 898.28 L361.35 899.24 L361.55 900.04 L361.74 900.67 L361.93 901.14 L362.13 901.44 L362.32 901.57 L362.51 901.53 L362.71 901.32 L362.9 900.93 L363.1 900.39 L363.29 899.67 L363.48 898.8 L363.68 897.78 L363.87 896.6 L364.06 895.29 L364.26 893.85 L364.45 892.28 L364.64 890.6 L364.84 888.82 L365.03 886.94 L365.22 884.99 L365.42 882.96 L365.61 880.88 L365.8 878.75 L366 876.59 L366.19 874.41 L366.38 872.23 L366.58 870.05 L366.77 867.9 L366.96 865.77 L367.16 863.7 L367.35 861.67 L367.54 859.73 L367.74 857.86 L367.93 856.09 L368.12 854.41 L368.32 852.85 L368.51 851.41 L368.7 850.09 L368.9 848.91 L369.09 847.87 L369.28 846.97 L369.48 846.23 L369.67 845.65 L369.86 845.22 L370.06 844.95 L370.25 844.85 L370.44 844.91 L370.64 845.13 L370.83 845.51 L371.02 846.04 L371.22 846.73 L371.41 847.57 L371.6 848.54 L371.8 849.66 L371.99 850.9 L372.18 852.27 L372.38 853.75 L372.57 855.33 L372.77 857.01 L372.96 858.77 L373.15 860.6 L373.35 862.5 L373.54 864.44 L373.73 866.43 L373.93 868.44 L374.12 870.46 L374.31 872.49 L374.51 874.51 L374.7 876.51 L374.89 878.47 L375.09 880.39 L375.28 882.26 L375.47 884.05 L375.67 885.77 L375.86 887.4 L376.05 888.94 L376.25 890.37 L376.44 891.68 L376.63 892.87 L376.83 893.93 L377.02 894.86 L377.21 895.65 L377.41 896.29 L377.6 896.79 L377.79 897.13 L377.99 897.32 L378.18 897.36 L378.37 897.25 L378.57 896.98 L378.76 896.56 L378.95 895.99 L379.15 895.27 L379.34 894.41 L379.53 893.42 L379.73 892.3 L379.92 891.05 L380.11 889.69 L380.31 888.21 L380.5 886.64 L380.69 884.97 L380.89 883.23 L381.08 881.41 L381.27 879.53 L381.47 877.59 L381.66 875.62 L381.85 873.62 L382.05 871.6 L382.24 869.57 L382.44 867.55 L382.63 865.54 L382.82 863.57 L383.02 861.63 L383.21 859.73 L383.4 857.9 L383.6 856.14 L383.79 854.45 L383.98 852.85 L384.18 851.35 L384.37 849.96 L384.56 848.67 L384.76 847.51 L384.95 846.47 L385.14 845.56 L385.34 844.78 L385.53 844.14 L385.72 843.65 L385.92 843.3 L386.11 843.09 L386.3 843.03 L386.5 843.12 L386.69 843.35 L386.88 843.73 L387.08 844.24 L387.27 844.9 L387.46 845.68 L387.66 846.6 L387.85 847.64 L388.04 848.79 L388.24 850.06 L388.43 851.42 L388.62 852.88 L388.82 854.43 L389.01 856.06 L389.2 857.75 L389.4 859.5 L389.59 861.3 L389.78 863.13 L389.98 865 L390.17 866.88 L390.36 868.76 L390.56 870.64 L390.75 872.51 L390.94 874.36 L391.14 876.16 L391.33 877.92 L391.52 879.63 L391.72 881.27 L391.91 882.84 L392.11 884.33 L392.3 885.73 L392.49 887.02 L392.69 888.22 L392.88 889.3 L393.07 890.27 L393.27 891.11 L393.46 891.82 L393.65 892.41 L393.85 892.86 L394.04 893.17 L394.23 893.35 L394.43 893.39 L394.62 893.28 L394.81 893.05 L395.01 892.67 L395.2 892.16 L395.39 891.52 L395.59 890.74 L395.78 889.85 L395.97 888.84 L396.17 887.71 L396.36 886.47 L396.55 885.14 L396.75 883.71 L396.94 882.19 L397.13 880.6 L397.33 878.93 L397.52 877.21 L397.71 875.43 L397.91 873.62 L398.1 871.77 L398.29 869.9 L398.49 868.01 L398.68 866.13 L398.87 864.25 L399.07 862.38 L399.26 860.55 L399.45 858.75 L399.65 856.99 L399.84 855.29 L400.03 853.65 L400.23 852.09 L400.42 850.6 L400.61 849.2 L400.81 847.9 L401 846.69 L401.19 845.6 L401.39 844.61 L401.58 843.74 L401.78 842.99 L401.97 842.37 L402.16 841.87 L402.36 841.51 L402.55 841.27 L402.74 841.17 L402.94 841.19 L403.13 841.35 L403.32 841.64 L403.52 842.06 L403.71 842.6 L403.9 843.26 L404.1 844.05 L404.29 844.94 L404.48 845.95 L404.68 847.05 L404.87 848.26 L405.06 849.55 L405.26 850.93 L405.45 852.38 L405.64 853.9 L405.84 855.48 L406.03 857.11 L406.22 858.79 L406.42 860.49 L406.61 862.22 L406.8 863.97 L407 865.72 L407.19 867.46 L407.38 869.2 L407.58 870.91 L407.77 872.59 L407.96 874.23 L408.16 875.83 L408.35 877.36 L408.54 878.84 L408.74 880.24 L408.93 881.56 L409.12 882.79 L409.32 883.94 L409.51 884.98 L409.7 885.92 L409.9 886.75 L410.09 887.47 L410.28 888.08 L410.48 888.56 L410.67 888.92 L410.86 889.16 L411.06 889.28 L411.25 889.27 L411.45 889.13 L411.64 888.87 L411.83 888.49 L412.03 887.98 L412.22 887.36 L412.41 886.63 L412.61 885.78 L412.8 884.82 L412.99 883.77 L413.19 882.62 L413.38 881.37 L413.57 880.04 L413.77 878.64 L413.96 877.16 L414.15 875.62 L414.35 874.03 L414.54 872.39 L414.73 870.7 L414.93 868.99 L415.12 867.26 L415.31 865.51 L415.51 863.75 L415.7 862 L415.89 860.29 L416.09 858.59 L416.28 856.92 L416.47 855.29 L416.67 853.7 L416.86 852.16 L417.05 850.68 L417.25 849.26 L417.44 847.92 L417.63 846.66 L417.83 845.49 L418.02 844.4 L418.21 843.42 L418.41 842.53 L418.6 841.75 L418.79 841.09 L418.99 840.53 L419.18 840.09 L419.37 839.77 L419.57 839.56 L419.76 839.48 L419.95 839.51 L420.15 839.67 L420.34 839.94 L420.53 840.33 L420.73 840.84 L420.92 841.46 L421.12 842.19 L421.31 843.02 L421.5 843.95 L421.7 844.98 L421.89 846.11 L422.08 847.31 L422.28 848.6 L422.47 849.96 L422.66 851.39 L422.86 852.87 L423.05 854.41 L423.24 855.99 L423.44 857.61 L423.63 859.26 L423.82 860.92 L424.02 862.6 L424.21 864.29 L424.4 865.96 L424.6 867.63 L424.79 869.27 L424.98 870.89 L425.18 872.47 L425.37 874 L425.56 875.49 L425.76 876.91 L425.95 878.27 L426.14 879.55 L426.34 880.76 L426.53 881.88 L426.72 882.91 L426.92 883.85 L427.11 884.69 L427.3 885.42 L427.5 886.05 L427.69 886.56 L427.88 886.97 L428.08 887.26 L428.27 887.44 L428.46 887.49 L428.66 887.44 L428.85 887.26 L429.04 886.97 L429.24 886.57 L429.43 886.06 L429.62 885.43 L429.82 884.7 L430.01 883.87 L430.2 882.94 L430.4 881.91 L430.59 880.8 L430.79 879.6 L430.98 878.32 L431.17 876.97 L431.37 875.56 L431.56 874.08 L431.75 872.56 L431.95 870.99 L432.14 869.38 L432.33 867.74 L432.53 866.08 L432.72 864.41 L432.91 862.73 L433.11 861.06 L433.3 859.39 L433.49 857.74 L433.69 856.11 L433.88 854.52 L434.07 852.97 L434.27 851.47 L434.46 850.02 L434.65 848.63 L434.85 847.31 L435.04 846.07 L435.23 844.9 L435.43 843.82 L435.62 842.83 L435.81 841.93 L436.01 841.13 L436.2 840.43 L436.39 839.84 L436.59 839.36 L436.78 838.98 L436.97 838.72 L437.17 838.57 L437.36 838.54 L437.55 838.61 L437.75 838.8 L437.94 839.1 L438.13 839.51 L438.33 840.03 L438.52 840.66 L438.71 841.38 L438.91 842.21 L439.1 843.13 L439.29 844.14 L439.49 845.24 L439.68 846.42 L439.87 847.67 L440.07 848.99 L440.26 850.37 L440.46 851.81 L440.65 853.3 L440.84 854.83 L441.04 856.4 L441.23 858 L441.42 859.61 L441.62 861.24 L441.81 862.88 L442 864.51 L442.2 866.13 L442.39 867.74 L442.58 869.32 L442.78 870.87 L442.97 872.38 L443.16 873.84 L443.36 875.25 L443.55 876.61 L443.74 877.89 L443.94 879.11 L444.13 880.25 L444.32 881.31 L444.52 882.28 L444.71 883.16 L444.9 883.94 L445.1 884.63 L445.29 885.21 L445.48 885.7 L445.68 886.07 L445.87 886.34 L446.06 886.49 L446.26 886.54 L446.45 886.48 L446.64 886.3 L446.84 886.02 L447.03 885.63 L447.22 885.14 L447.42 884.54 L447.61 883.84 L447.8 883.04 L448 882.15 L448.19 881.17 L448.38 880.11 L448.58 878.96 L448.77 877.74 L448.96 876.45 L449.16 875.09 L449.35 873.68 L449.54 872.21 L449.74 870.7 L449.93 869.16 L450.13 867.58 L450.32 865.97 L450.51 864.35 L450.71 862.72 L450.9 861.09 L451.09 859.46 L451.29 857.85 L451.48 856.25 L451.67 854.68 L451.87 853.15 L452.06 851.65 L452.25 850.2 L452.45 848.8 L452.64 847.46 L452.83 846.19 L453.03 844.98 L453.22 843.86 L453.41 842.81 L453.61 841.85 L453.8 840.97 L453.99 840.2 L454.19 839.51 L454.38 838.93 L454.57 838.45 L454.77 838.07 L454.96 837.79 L455.15 837.63 L455.35 837.57 L455.54 837.61 L455.73 837.77 L455.93 838.03 L456.12 838.39 L456.31 838.86 L456.51 839.42 L456.7 840.09 L456.89 840.85 L457.09 841.7 L457.28 842.64 L457.47 843.66 L457.67 844.77 L457.86 845.94 L458.05 847.18 L458.25 848.49 L458.44 849.86 L458.63 851.27 L458.83 852.73 L459.02 854.23 L459.21 855.76 L459.41 857.32 L459.6 858.89 L459.8 860.47 L459.99 862.06 L460.18 863.65 L460.38 865.23 L460.57 866.79 L460.76 868.33 L460.96 869.83 L461.15 871.3 L461.34 872.73 L461.54 874.11 L461.73 875.43 L461.92 876.7 L462.12 877.89 L462.31 879.02 L462.5 880.06 L462.7 881.03 L462.89 881.91 L463.08 882.71 L463.28 883.41 L463.47 884.02 L463.66 884.52 L463.86 884.93 L464.05 885.24 L464.24 885.41 L464.44 885.48 L464.63 885.44 L464.82 885.3 L465.02 885.05 L465.21 884.7 L465.4 884.26 L465.6 883.71 L465.79 883.06 L465.98 882.32 L466.18 881.49 L466.37 880.57 L466.56 879.56 L466.76 878.48 L466.95 877.32 L467.14 876.09 L467.34 874.79 L467.53 873.43 L467.72 872.02 L467.92 870.56 L468.11 869.05 L468.3 867.51 L468.5 865.94 L468.69 864.34 L468.88 862.73 L469.08 861.11 L469.27 859.48 L469.47 857.86 L469.66 856.24 L469.85 854.64 L470.05 853.07 L470.24 851.52 L470.43 850.01 L470.63 848.54 L470.82 847.12 L471.01 845.75 L471.21 844.44 L471.4 843.19 L471.59 842.02 L471.79 840.92 L471.98 839.89 L472.17 838.95 L472.37 838.09 L472.56 837.33 L472.75 836.65 L472.95 836.07 L473.14 835.59 L473.33 835.21 L473.53 834.92 L473.72 834.74 L473.91 834.66 L474.11 834.68 L474.3 834.8 L474.49 835.03 L474.69 835.35 L474.88 835.77 L475.07 836.29 L475.27 836.89 L475.46 837.59 L475.65 838.38 L475.85 839.25 L476.04 840.2 L476.23 841.23 L476.43 842.33 L476.62 843.49 L476.81 844.72 L477.01 846 L477.2 847.33 L477.39 848.71 L477.59 850.12 L477.78 851.57 L477.97 853.05 L478.17 854.54 L478.36 856.05 L478.55 857.57 L478.75 859.09 L478.94 860.6 L479.14 862.1 L479.33 863.59 L479.52 865.04 L479.72 866.47 L479.91 867.86 L480.1 869.21 L480.3 870.51 L480.49 871.76 L480.68 872.95 L480.88 874.07 L481.07 875.12 L481.26 876.11 L481.46 877.01 L481.65 877.83 L481.84 878.57 L482.04 879.22 L482.23 879.78 L482.42 880.25 L482.62 880.62 L482.81 880.89 L483 881.07 L483.2 881.15 L483.39 881.13 L483.58 881.01 L483.78 880.79 L483.97 880.47 L484.16 880.05 L484.36 879.54 L484.55 878.94 L484.74 878.25 L484.94 877.46 L485.13 876.59 L485.32 875.64 L485.52 874.62 L485.71 873.51 L485.9 872.34 L486.1 871.1 L486.29 869.8 L486.48 868.45 L486.68 867.04 L486.87 865.59 L487.06 864.1 L487.26 862.58 L487.45 861.04 L487.64 859.47 L487.84 857.88 L488.03 856.29 L488.22 854.69 L488.42 853.1 L488.61 851.52 L488.81 849.95 L489 848.41 L489.19 846.9 L489.39 845.41 L489.58 843.97 L489.77 842.58 L489.97 841.23 L490.16 839.94 L490.35 838.71 L490.55 837.55 L490.74 836.45 L490.93 835.43 L491.13 834.49 L491.32 833.63 L491.51 832.85 L491.71 832.16 L491.9 831.56 L492.09 831.06 L492.29 830.64 L492.48 830.32 L492.67 830.1 L492.87 829.98 L493.06 829.95 L493.25 830.02 L493.45 830.18 L493.64 830.44 L493.83 830.8 L494.03 831.24 L494.22 831.78 L494.41 832.41 L494.61 833.12 L494.8 833.91 L494.99 834.79" fill="none" stroke="#e8202a" stroke-width="2.45" stroke-linejoin="round" clip-path="url(#clipC)"/>
<rect x="122.7" y="824.4" width="371.5" height="231.1" fill="none" stroke="#222" stroke-width="1.6" />
<line x1="122.7" y1="1055.28" x2="127.7" y2="1055.28" stroke="#222" stroke-width="1.4" />
<line x1="494.2" y1="1055.28" x2="489.2" y2="1055.28" stroke="#222" stroke-width="1.4" />
<line x1="122.7" y1="997.56" x2="127.7" y2="997.56" stroke="#222" stroke-width="1.4" />
<line x1="494.2" y1="997.56" x2="489.2" y2="997.56" stroke="#222" stroke-width="1.4" />
<line x1="122.7" y1="939.84" x2="127.7" y2="939.84" stroke="#222" stroke-width="1.4" />
<line x1="494.2" y1="939.84" x2="489.2" y2="939.84" stroke="#222" stroke-width="1.4" />
<line x1="122.7" y1="882.12" x2="127.7" y2="882.12" stroke="#222" stroke-width="1.4" />
<line x1="494.2" y1="882.12" x2="489.2" y2="882.12" stroke="#222" stroke-width="1.4" />
<line x1="122.7" y1="824.4" x2="127.7" y2="824.4" stroke="#222" stroke-width="1.4" />
<line x1="494.2" y1="824.4" x2="489.2" y2="824.4" stroke="#222" stroke-width="1.4" />
<line x1="125.6" y1="1055.5" x2="125.6" y2="1049.5" stroke="#222" stroke-width="1.4" />
<line x1="125.6" y1="824.4" x2="125.6" y2="830.4" stroke="#222" stroke-width="1.4" />
<line x1="222.3" y1="1055.5" x2="222.3" y2="1049.5" stroke="#222" stroke-width="1.4" />
<line x1="222.3" y1="824.4" x2="222.3" y2="830.4" stroke="#222" stroke-width="1.4" />
<line x1="319" y1="1055.5" x2="319" y2="1049.5" stroke="#222" stroke-width="1.4" />
<line x1="319" y1="824.4" x2="319" y2="830.4" stroke="#222" stroke-width="1.4" />
<line x1="415.7" y1="1055.5" x2="415.7" y2="1049.5" stroke="#222" stroke-width="1.4" />
<line x1="415.7" y1="824.4" x2="415.7" y2="830.4" stroke="#222" stroke-width="1.4" />
<rect x="325" y="839.6" width="36" height="78.4" fill="none" stroke="#222" stroke-width="1.4" />
<line x1="325" y1="839.6" x2="518.5" y2="823.5" stroke="#222" stroke-width="1.3" />
<line x1="325" y1="918" x2="518.5" y2="1055.7" stroke="#222" stroke-width="1.3" />
<rect x="518.5" y="823.5" width="105.5" height="232.2" fill="none" stroke="#222" stroke-width="1.6" />
<path d="M518.5 842.5 C520.75 865.75 521.95 869.75 526 920 C530.05 970.25 528.7 972.53 532 1010 C535.3 1047.47 534 1041.9 537 1044.9 C540 1047.9 537.8 1057.47 542 1020 C546.2 982.53 545.99 967.52 551 920 C556.01 872.48 554.2 867.6 558.7 861.6 C563.2 855.6 561.11 861.48 566 900 C570.89 938.52 570.5 954.9 575 990 C579.5 1025.1 577.4 1017 581 1017 C584.6 1017 582.5 1025.1 587 990 C591.5 954.9 591.2 942 596 900 C600.8 858 598.8 850 603 850 C607.2 850 605.5 858 610 900 C614.5 942 613.8 955.8 618 990 C622.2 1024.2 622.2 1006.8 624 1014" fill="none" stroke="#e8202a" stroke-width="2.5" />
<circle cx="558.7" cy="858" r="7" fill="#111"/>
<circle cx="581" cy="1017" r="7" fill="#111"/>
<line x1="571" y1="858" x2="687" y2="858" stroke="#222" stroke-width="1.3" stroke-dasharray="1.3 2"/>
<line x1="589" y1="1017" x2="681" y2="1017" stroke="#222" stroke-width="1.3" stroke-dasharray="1.3 2"/>
<line x1="682.7" y1="866" x2="682.7" y2="1009" stroke="#1d1d1b" stroke-width="1.6" />
<path d="M682.7 858 Q685.16 864.5 688.7 871 L682.7 868 L676.7 871 Q680.24 864.5 682.7 858 Z" fill="#1d1d1b" />
<path d="M682.7 1017 Q680.24 1010.5 676.7 1004 L682.7 1007 L688.7 1004 Q685.16 1010.5 682.7 1017 Z" fill="#1d1d1b" />
<line x1="585" y1="936" x2="636" y2="936" stroke="#1d1d1b" stroke-width="1.4" />
<path d="M572 936 Q579 933.54 586 930 L583 936 L586 942 Q579 938.46 572 936 Z" fill="#1d1d1b" />
<rect x="903.2" y="68.8" width="402.1" height="403.8" fill="url(#pdLL)" />
<path d="M903.2 134.5 L1089.4 264.3 L1089.4 300 L903.2 170 Z" fill="url(#gdShadow)" />
<path d="M1066 255 L1094 262 L1098.4 472.6 L1066 472.6 Z" fill="url(#gdVband)" />
<g clip-path="url(#clipDUL)"><path d="M903.2 68.8 L1087.6 68.8 L1089.4 264.3 L903.2 134.5 Z" fill="#8e8e8e"/><path d="M1287 638L857.61 85.17" stroke="#0c0c0c" stroke-width="2.3"/><path d="M1287 638L861.16 82.43" stroke="#f8f8f8" stroke-width="2.2"/><path d="M1287 638L864.72 79.72" stroke="#0c0c0c" stroke-width="2.3"/><path d="M1287 638L868.3 77.02" stroke="#f8f8f8" stroke-width="2.2"/><path d="M1287 638L871.9 74.36" stroke="#0c0c0c" stroke-width="2.3"/><path d="M1287 638L875.52 71.71" stroke="#f8f8f8" stroke-width="2.2"/><path d="M1287 638L879.15 69.09" stroke="#0c0c0c" stroke-width="2.3"/><path d="M1287 638L882.8 66.49" stroke="#f8f8f8" stroke-width="2.2"/><path d="M1287 638L886.47 63.92" stroke="#0c0c0c" stroke-width="2.3"/><path d="M1287 638L890.15 61.36" stroke="#f8f8f8" stroke-width="2.2"/><path d="M1287 638L893.85 58.84" stroke="#0c0c0c" stroke-width="2.3"/><path d="M1287 638L897.56 56.33" stroke="#f8f8f8" stroke-width="2.2"/><path d="M1287 638L901.29 53.85" stroke="#0c0c0c" stroke-width="2.3"/><path d="M1287 638L905.04 51.39" stroke="#f8f8f8" stroke-width="2.2"/><path d="M1287 638L908.8 48.96" stroke="#0c0c0c" stroke-width="2.3"/><path d="M1287 638L912.58 46.55" stroke="#f8f8f8" stroke-width="2.2"/><path d="M1287 638L916.37 44.17" stroke="#0c0c0c" stroke-width="2.3"/><path d="M1287 638L920.18 41.81" stroke="#f8f8f8" stroke-width="2.2"/><path d="M1287 638L924 39.47" stroke="#0c0c0c" stroke-width="2.3"/><path d="M1287 638L927.84 37.16" stroke="#f8f8f8" stroke-width="2.2"/><path d="M1287 638L931.69 34.88" stroke="#0c0c0c" stroke-width="2.3"/><path d="M1287 638L935.56 32.62" stroke="#f8f8f8" stroke-width="2.2"/><path d="M1287 638L939.44 30.38" stroke="#0c0c0c" stroke-width="2.3"/><path d="M1287 638L943.34 28.17" stroke="#f8f8f8" stroke-width="2.2"/><path d="M1287 638L947.25 25.98" stroke="#0c0c0c" stroke-width="2.3"/><path d="M1287 638L951.17 23.82" stroke="#f8f8f8" stroke-width="2.2"/><path d="M1287 638L955.11 21.68" stroke="#0c0c0c" stroke-width="2.3"/><path d="M1287 638L959.06 19.57" stroke="#f8f8f8" stroke-width="2.2"/><path d="M1287 638L963.02 17.48" stroke="#0c0c0c" stroke-width="2.3"/><path d="M1287 638L967 15.42" stroke="#f8f8f8" stroke-width="2.2"/><path d="M1287 638L970.99 13.39" stroke="#0c0c0c" stroke-width="2.3"/><path d="M1287 638L975 11.38" stroke="#f8f8f8" stroke-width="2.2"/><path d="M1287 638L979.01 9.39" stroke="#0c0c0c" stroke-width="2.3"/><path d="M1287 638L983.04 7.44" stroke="#f8f8f8" stroke-width="2.2"/><path d="M1287 638L987.09 5.5" stroke="#0c0c0c" stroke-width="2.3"/><path d="M1287 638L991.14 3.6" stroke="#f8f8f8" stroke-width="2.2"/><path d="M1287 638L995.21 1.72" stroke="#0c0c0c" stroke-width="2.3"/><path d="M1287 638L999.28 -0.14" stroke="#f8f8f8" stroke-width="2.2"/><path d="M1287 638L1003.37 -1.97" stroke="#0c0c0c" stroke-width="2.3"/><path d="M1287 638L1007.48 -3.77" stroke="#f8f8f8" stroke-width="2.2"/><path d="M1287 638L1011.59 -5.54" stroke="#0c0c0c" stroke-width="2.3"/><path d="M1287 638L1015.71 -7.29" stroke="#f8f8f8" stroke-width="2.2"/><path d="M1287 638L1019.85 -9.02" stroke="#0c0c0c" stroke-width="2.3"/><path d="M1287 638L1023.99 -10.71" stroke="#f8f8f8" stroke-width="2.2"/><path d="M1287 638L1028.15 -12.38" stroke="#0c0c0c" stroke-width="2.3"/><path d="M1287 638L1032.32 -14.03" stroke="#f8f8f8" stroke-width="2.2"/><path d="M1287 638L1036.5 -15.64" stroke="#0c0c0c" stroke-width="2.3"/><path d="M1287 638L1040.69 -17.23" stroke="#f8f8f8" stroke-width="2.2"/><path d="M1287 638L1044.88 -18.8" stroke="#0c0c0c" stroke-width="2.3"/><path d="M1287 638L1049.09 -20.33" stroke="#f8f8f8" stroke-width="2.2"/><path d="M1287 638L1053.31 -21.84" stroke="#0c0c0c" stroke-width="2.3"/><path d="M1287 638L1057.54 -23.32" stroke="#f8f8f8" stroke-width="2.2"/></g>
<g clip-path="url(#clipDUL2)"><path d="M903.2 68.8 L1087.6 68.8 L1089.4 264.3 L903.2 134.5 Z" fill="none"/><path d="M1400 330L722.8 152.79" stroke="rgba(255,255,255,0.55)" stroke-width="1.6"/><path d="M1400 330L724.06 148.06" stroke="rgba(0,0,0,0.25)" stroke-width="1.4"/><path d="M1400 330L725.35 143.33" stroke="rgba(255,255,255,0.55)" stroke-width="1.6"/><path d="M1400 330L726.67 138.61" stroke="rgba(0,0,0,0.25)" stroke-width="1.4"/><path d="M1400 330L728.03 133.9" stroke="rgba(255,255,255,0.55)" stroke-width="1.6"/><path d="M1400 330L729.42 129.21" stroke="rgba(0,0,0,0.25)" stroke-width="1.4"/><path d="M1400 330L730.84 124.52" stroke="rgba(255,255,255,0.55)" stroke-width="1.6"/><path d="M1400 330L732.29 119.84" stroke="rgba(0,0,0,0.25)" stroke-width="1.4"/><path d="M1400 330L733.78 115.17" stroke="rgba(255,255,255,0.55)" stroke-width="1.6"/><path d="M1400 330L735.3 110.51" stroke="rgba(0,0,0,0.25)" stroke-width="1.4"/><path d="M1400 330L736.85 105.86" stroke="rgba(255,255,255,0.55)" stroke-width="1.6"/><path d="M1400 330L738.44 101.23" stroke="rgba(0,0,0,0.25)" stroke-width="1.4"/><path d="M1400 330L740.06 96.6" stroke="rgba(255,255,255,0.55)" stroke-width="1.6"/><path d="M1400 330L741.71 91.99" stroke="rgba(0,0,0,0.25)" stroke-width="1.4"/><path d="M1400 330L743.39 87.39" stroke="rgba(255,255,255,0.55)" stroke-width="1.6"/><path d="M1400 330L745.1 82.79" stroke="rgba(0,0,0,0.25)" stroke-width="1.4"/><path d="M1400 330L746.85 78.22" stroke="rgba(255,255,255,0.55)" stroke-width="1.6"/><path d="M1400 330L748.63 73.65" stroke="rgba(0,0,0,0.25)" stroke-width="1.4"/><path d="M1400 330L750.44 69.1" stroke="rgba(255,255,255,0.55)" stroke-width="1.6"/><path d="M1400 330L752.28 64.56" stroke="rgba(0,0,0,0.25)" stroke-width="1.4"/><path d="M1400 330L754.15 60.03" stroke="rgba(255,255,255,0.55)" stroke-width="1.6"/><path d="M1400 330L756.06 55.52" stroke="rgba(0,0,0,0.25)" stroke-width="1.4"/><path d="M1400 330L758 51.01" stroke="rgba(255,255,255,0.55)" stroke-width="1.6"/><path d="M1400 330L759.97 46.53" stroke="rgba(0,0,0,0.25)" stroke-width="1.4"/><path d="M1400 330L761.97 42.05" stroke="rgba(255,255,255,0.55)" stroke-width="1.6"/><path d="M1400 330L764 37.59" stroke="rgba(0,0,0,0.25)" stroke-width="1.4"/><path d="M1400 330L766.06 33.15" stroke="rgba(255,255,255,0.55)" stroke-width="1.6"/><path d="M1400 330L768.15 28.72" stroke="rgba(0,0,0,0.25)" stroke-width="1.4"/><path d="M1400 330L770.28 24.3" stroke="rgba(255,255,255,0.55)" stroke-width="1.6"/><path d="M1400 330L772.43 19.9" stroke="rgba(0,0,0,0.25)" stroke-width="1.4"/><path d="M1400 330L774.62 15.52" stroke="rgba(255,255,255,0.55)" stroke-width="1.6"/><path d="M1400 330L776.84 11.15" stroke="rgba(0,0,0,0.25)" stroke-width="1.4"/><path d="M1400 330L779.08 6.79" stroke="rgba(255,255,255,0.55)" stroke-width="1.6"/><path d="M1400 330L781.36 2.46" stroke="rgba(0,0,0,0.25)" stroke-width="1.4"/><path d="M1400 330L783.67 -1.87" stroke="rgba(255,255,255,0.55)" stroke-width="1.6"/><path d="M1400 330L786.01 -6.17" stroke="rgba(0,0,0,0.25)" stroke-width="1.4"/></g>
<path d="M903.2 68.8 L1087.6 68.8 L1089.4 264.3 L903.2 134.5 Z" fill="url(#pdUL2)" />
<path d="M1087.6 68.8 L1305.3 68.8 L1305.3 421 L1098.4 277.4 L1092 266 Z" fill="#fff" />
<path d="M1100 68.8 L1305.3 68.8 L1305.3 403 L1108.5 267 Z" fill="url(#pdUR)" />
<path d="M1089 68.8 L1305.3 68.8 L1305.3 403 L1108.5 267 L1094 267 Z" fill="url(#gdURl)" />
<path d="M1100 68.8 L1305.3 68.8 L1305.3 403 L1108.5 267 Z" fill="url(#gdURd)" />
<path d="M1098.4 277.4 L1305.3 420.7 L1305.3 472.6 L1098.4 472.6 Z" fill="url(#pdLR)" />
<path d="M1098.4 277.4 L1305.3 420.7 L1305.3 472.6 L1098.4 472.6 Z" fill="url(#pdLR2)" />
<path d="M1098.4 277.4 L1305.3 420.7 L1305.3 472.6 L1098.4 472.6 Z" fill="url(#gdLRt)" />
<g clip-path="url(#clipDLR)" stroke="url(#gdLRs)"><path d="M1120 296.36L1310 427.96" stroke-width="1.9" stroke-opacity="0.9" fill="none"/><path d="M1120 300.66L1310 432.26" stroke-width="1.9" stroke-opacity="0.81" fill="none"/><path d="M1120 304.96L1310 436.56" stroke-width="1.9" stroke-opacity="0.72" fill="none"/><path d="M1120 309.26L1310 440.86" stroke-width="1.9" stroke-opacity="0.63" fill="none"/><path d="M1120 313.56L1310 445.16" stroke-width="1.9" stroke-opacity="0.54" fill="none"/><path d="M1120 317.86L1310 449.46" stroke-width="1.9" stroke-opacity="0.45" fill="none"/><path d="M1120 322.16L1310 453.76" stroke-width="1.9" stroke-opacity="0.36" fill="none"/><path d="M1120 326.46L1310 458.06" stroke-width="1.9" stroke-opacity="0.27" fill="none"/><path d="M1120 330.76L1310 462.36" stroke-width="1.9" stroke-opacity="0.18" fill="none"/></g>
<line x1="903.2" y1="68.8" x2="1305.3" y2="68.8" stroke="#777" stroke-width="1.6" />
<line x1="903.2" y1="472.6" x2="1305.3" y2="472.6" stroke="#555" stroke-width="1.3" />
<line x1="903.2" y1="68.8" x2="903.2" y2="472.6" stroke="#555" stroke-width="1" />
<line x1="1305.3" y1="68.8" x2="1305.3" y2="472.6" stroke="#777" stroke-width="1" />
<line x1="898.2" y1="68.8" x2="903.2" y2="68.8" stroke="#444" stroke-width="1.2" />
<line x1="898.2" y1="169.75" x2="903.2" y2="169.75" stroke="#444" stroke-width="1.2" />
<line x1="898.2" y1="270.7" x2="903.2" y2="270.7" stroke="#444" stroke-width="1.2" />
<line x1="898.2" y1="371.65" x2="903.2" y2="371.65" stroke="#444" stroke-width="1.2" />
<line x1="898.2" y1="472.6" x2="903.2" y2="472.6" stroke="#444" stroke-width="1.2" />
<line x1="903.2" y1="472.6" x2="903.2" y2="478.6" stroke="#444" stroke-width="1.2" />
<line x1="1003.73" y1="472.6" x2="1003.73" y2="478.6" stroke="#444" stroke-width="1.2" />
<line x1="1104.25" y1="472.6" x2="1104.25" y2="478.6" stroke="#444" stroke-width="1.2" />
<line x1="1204.78" y1="472.6" x2="1204.78" y2="478.6" stroke="#444" stroke-width="1.2" />
<line x1="1305.3" y1="472.6" x2="1305.3" y2="478.6" stroke="#444" stroke-width="1.2" />
<rect x="1118.4" y="44.5" width="188.4" height="16" fill="url(#cbD)" stroke="#333" stroke-width="1.2" />
<line x1="1138.3" y1="44.5" x2="1138.3" y2="40.5" stroke="#555" stroke-width="1" />
<line x1="1212.7" y1="44.5" x2="1212.7" y2="40.5" stroke="#555" stroke-width="1" />
<line x1="1288.4" y1="44.5" x2="1288.4" y2="40.5" stroke="#555" stroke-width="1" />
<rect x="1416.5" y="69.3" width="403.4" height="402.9" fill="url(#peLL)" />
<path d="M1416.5 145.6 L1605 271.7" fill="none" stroke="#000" stroke-width="2.2" opacity="0.85"/>
<g clip-path="url(#clipEUL)"><path d="M1416.5 69.3 L1597.6 69.3 L1605 270.9 L1416.5 144.8 Z" fill="#a0a0a0"/><path d="M1750 370 L1314.76 85.45" stroke="#151515" stroke-width="1.4"/><path d="M1750 370 L1316.91 82.19" stroke="#f6f6f6" stroke-width="1.6"/><path d="M1750 370 L1319.23 78.74" stroke="#151515" stroke-width="1.4"/><path d="M1750 370 L1321.42 75.51" stroke="#f6f6f6" stroke-width="1.6"/><path d="M1750 370 L1323.79 72.09" stroke="#151515" stroke-width="1.4"/><path d="M1750 370 L1326.04 68.91" stroke="#f6f6f6" stroke-width="1.6"/><path d="M1750 370 L1328.46 65.52" stroke="#151515" stroke-width="1.4"/><path d="M1750 370 L1330.76 62.37" stroke="#f6f6f6" stroke-width="1.6"/><path d="M1750 370 L1333.23 59.03" stroke="#151515" stroke-width="1.4"/><path d="M1750 370 L1335.58 55.91" stroke="#f6f6f6" stroke-width="1.6"/><path d="M1750 370 L1338.1 52.6" stroke="#151515" stroke-width="1.4"/><path d="M1750 370 L1340.49 49.52" stroke="#f6f6f6" stroke-width="1.6"/><path d="M1750 370 L1343.07 46.26" stroke="#151515" stroke-width="1.4"/><path d="M1750 370 L1345.51 43.22" stroke="#f6f6f6" stroke-width="1.6"/><path d="M1750 370 L1348.14 39.99" stroke="#151515" stroke-width="1.4"/><path d="M1750 370 L1350.62 36.99" stroke="#f6f6f6" stroke-width="1.6"/><path d="M1750 370 L1353.3 33.8" stroke="#151515" stroke-width="1.4"/><path d="M1750 370 L1355.83 30.84" stroke="#f6f6f6" stroke-width="1.6"/><path d="M1750 370 L1358.56 27.69" stroke="#151515" stroke-width="1.4"/><path d="M1750 370 L1361.14 24.77" stroke="#f6f6f6" stroke-width="1.6"/><path d="M1750 370 L1363.91 21.67" stroke="#151515" stroke-width="1.4"/><path d="M1750 370 L1366.53 18.78" stroke="#f6f6f6" stroke-width="1.6"/><path d="M1750 370 L1369.36 15.73" stroke="#151515" stroke-width="1.4"/><path d="M1750 370 L1372.02 12.88" stroke="#f6f6f6" stroke-width="1.6"/><path d="M1750 370 L1374.89 9.87" stroke="#151515" stroke-width="1.4"/><path d="M1750 370 L1377.61 7.06" stroke="#f6f6f6" stroke-width="1.6"/><path d="M1750 370 L1380.52 4.1" stroke="#151515" stroke-width="1.4"/><path d="M1750 370 L1383.28 1.34" stroke="#f6f6f6" stroke-width="1.6"/><path d="M1750 370 L1386.24 -1.59" stroke="#151515" stroke-width="1.4"/><path d="M1750 370 L1389.03 -4.3" stroke="#f6f6f6" stroke-width="1.6"/><path d="M1750 370 L1392.04 -7.18" stroke="#151515" stroke-width="1.4"/><path d="M1750 370 L1394.88 -9.85" stroke="#f6f6f6" stroke-width="1.6"/><path d="M1750 370 L1397.93 -12.68" stroke="#151515" stroke-width="1.4"/><path d="M1750 370 L1400.81 -15.31" stroke="#f6f6f6" stroke-width="1.6"/><path d="M1750 370 L1403.9 -18.09" stroke="#151515" stroke-width="1.4"/><path d="M1750 370 L1406.82 -20.68" stroke="#f6f6f6" stroke-width="1.6"/><path d="M1750 370 L1409.96 -23.41" stroke="#151515" stroke-width="1.4"/><path d="M1750 370 L1412.92 -25.95" stroke="#f6f6f6" stroke-width="1.6"/><path d="M1750 370 L1416.1 -28.63" stroke="#151515" stroke-width="1.4"/><path d="M1750 370 L1419.1 -31.13" stroke="#f6f6f6" stroke-width="1.6"/><path d="M1750 370 L1422.32 -33.76" stroke="#151515" stroke-width="1.4"/><path d="M1750 370 L1425.35 -36.21" stroke="#f6f6f6" stroke-width="1.6"/><path d="M1750 370 L1428.61 -38.79" stroke="#151515" stroke-width="1.4"/><path d="M1750 370 L1431.69 -41.19" stroke="#f6f6f6" stroke-width="1.6"/><path d="M1750 370 L1434.99 -43.72" stroke="#151515" stroke-width="1.4"/><path d="M1750 370 L1438.1 -46.07" stroke="#f6f6f6" stroke-width="1.6"/><path d="M1750 370 L1441.44 -48.56" stroke="#151515" stroke-width="1.4"/><path d="M1750 370 L1444.59 -50.86" stroke="#f6f6f6" stroke-width="1.6"/><path d="M1750 370 L1447.96 -53.29" stroke="#151515" stroke-width="1.4"/><path d="M1750 370 L1451.15 -55.54" stroke="#f6f6f6" stroke-width="1.6"/><path d="M1750 370 L1454.56 -57.92" stroke="#151515" stroke-width="1.4"/><path d="M1750 370 L1457.78 -60.12" stroke="#f6f6f6" stroke-width="1.6"/><path d="M1750 370 L1461.23 -62.45" stroke="#151515" stroke-width="1.4"/><path d="M1750 370 L1464.48 -64.6" stroke="#f6f6f6" stroke-width="1.6"/><path d="M1750 370 L1467.96 -66.87" stroke="#151515" stroke-width="1.4"/><path d="M1750 370 L1471.25 -68.97" stroke="#f6f6f6" stroke-width="1.6"/><path d="M1750 370 L1474.77 -71.19" stroke="#151515" stroke-width="1.4"/><path d="M1750 370 L1478.09 -73.24" stroke="#f6f6f6" stroke-width="1.6"/><path d="M1750 370 L1481.64 -75.4" stroke="#151515" stroke-width="1.4"/><path d="M1750 370 L1484.99 -77.4" stroke="#f6f6f6" stroke-width="1.6"/><path d="M1750 370 L1488.58 -79.51" stroke="#151515" stroke-width="1.4"/><path d="M1750 370 L1491.96 -81.46" stroke="#f6f6f6" stroke-width="1.6"/><path d="M1750 370 L1495.58 -83.51" stroke="#151515" stroke-width="1.4"/><path d="M1750 370 L1498.98 -85.4" stroke="#f6f6f6" stroke-width="1.6"/><path d="M1750 370 L1502.63 -87.4" stroke="#151515" stroke-width="1.4"/><path d="M1750 370 L1506.07 -89.24" stroke="#f6f6f6" stroke-width="1.6"/><path d="M1750 370 L1509.75 -91.17" stroke="#151515" stroke-width="1.4"/><path d="M1750 370 L1513.22 -92.96" stroke="#f6f6f6" stroke-width="1.6"/><path d="M1750 370 L1516.93 -94.84" stroke="#151515" stroke-width="1.4"/><path d="M1750 370 L1520.42 -96.58" stroke="#f6f6f6" stroke-width="1.6"/></g>
<path d="M1597.6 69.3 L1819.9 69.3 L1819.9 419.8 L1606 272 L1605 270.9 Z" fill="#fff" />
<path d="M1604.5 69.3 L1819.9 69.3 L1819.9 417 L1606.5 270 Z" fill="url(#peUR)" />
<path d="M1598 69.3 L1819.9 69.3 L1819.9 417 L1606.5 270 L1604 270 Z" fill="url(#geURl)" />
<path d="M1604.5 69.3 L1819.9 69.3 L1819.9 417 L1606.5 270 Z" fill="url(#geURd)" />
<g clip-path="url(#clipELR)"><path d="M1606 272 L1819.9 419.8 L1819.9 472.2 L1606 472.2 Z" fill="#7f7f7f"/><path d="M1605 271 Q1615 373.37 1613 476.2" fill="none" stroke="#2a2a2a" stroke-width="1.5"/><path d="M1605 271 Q1616.59 373.2 1616.2 476.05" fill="none" stroke="#cdcdcd" stroke-width="1.5"/><path d="M1605 271 Q1617.69 373.21 1618.41 476.2" fill="none" stroke="#2a2a2a" stroke-width="1.5"/><path d="M1605 271 Q1619.28 373 1621.6 475.97" fill="none" stroke="#cdcdcd" stroke-width="1.5"/><path d="M1605 271 Q1620.47 373.05 1623.98 476.2" fill="none" stroke="#2a2a2a" stroke-width="1.5"/><path d="M1605 271 Q1622.05 372.79 1627.17 475.88" fill="none" stroke="#cdcdcd" stroke-width="1.5"/><path d="M1605 271 Q1623.32 372.88 1629.72 476.2" fill="none" stroke="#2a2a2a" stroke-width="1.5"/><path d="M1605 271 Q1624.89 372.59 1632.9 475.79" fill="none" stroke="#cdcdcd" stroke-width="1.5"/><path d="M1605 271 Q1626.25 372.71 1635.63 476.2" fill="none" stroke="#2a2a2a" stroke-width="1.5"/><path d="M1605 271 Q1627.82 372.37 1638.79 475.7" fill="none" stroke="#cdcdcd" stroke-width="1.5"/><path d="M1605 271 Q1629.27 372.54 1641.72 476.2" fill="none" stroke="#2a2a2a" stroke-width="1.5"/><path d="M1605 271 Q1630.82 372.16 1644.87 475.61" fill="none" stroke="#cdcdcd" stroke-width="1.5"/><path d="M1605 271 Q1632.37 372.37 1647.99 476.2" fill="none" stroke="#2a2a2a" stroke-width="1.5"/><path d="M1605 271 Q1633.91 371.94 1651.12 475.52" fill="none" stroke="#cdcdcd" stroke-width="1.5"/><path d="M1605 271 Q1635.56 372.19 1654.45 476.2" fill="none" stroke="#2a2a2a" stroke-width="1.5"/><path d="M1605 271 Q1637.09 371.72 1657.56 475.43" fill="none" stroke="#cdcdcd" stroke-width="1.5"/><path d="M1605 271 Q1638.84 372.02 1661.11 476.2" fill="none" stroke="#2a2a2a" stroke-width="1.5"/><path d="M1605 271 Q1640.36 371.5 1664.19 475.33" fill="none" stroke="#cdcdcd" stroke-width="1.5"/><path d="M1605 271 Q1642.22 371.84 1667.96 476.2" fill="none" stroke="#2a2a2a" stroke-width="1.5"/><path d="M1605 271 Q1643.72 371.27 1671.01 475.24" fill="none" stroke="#cdcdcd" stroke-width="1.5"/><path d="M1605 271 Q1645.69 371.66 1675.02 476.2" fill="none" stroke="#2a2a2a" stroke-width="1.5"/><path d="M1605 271 Q1647.17 371.05 1678.04 475.14" fill="none" stroke="#cdcdcd" stroke-width="1.5"/><path d="M1605 271 Q1649.26 371.49 1682.29 476.2" fill="none" stroke="#2a2a2a" stroke-width="1.5"/><path d="M1605 271 Q1650.72 370.83 1685.28 475.05" fill="none" stroke="#cdcdcd" stroke-width="1.5"/><path d="M1605 271 Q1652.93 371.31 1689.78 476.2" fill="none" stroke="#2a2a2a" stroke-width="1.5"/><path d="M1605 271 Q1654.38 370.61 1692.73 474.96" fill="none" stroke="#cdcdcd" stroke-width="1.5"/><path d="M1605 271 Q1656.72 371.13 1697.49 476.2" fill="none" stroke="#2a2a2a" stroke-width="1.5"/><path d="M1605 271 Q1658.13 370.39 1700.4 474.86" fill="none" stroke="#cdcdcd" stroke-width="1.5"/><path d="M1605 271 Q1660.61 370.96 1705.44 476.2" fill="none" stroke="#2a2a2a" stroke-width="1.5"/><path d="M1605 271 Q1662 370.17 1708.3 474.77" fill="none" stroke="#cdcdcd" stroke-width="1.5"/><path d="M1605 271 Q1664.61 370.79 1713.62 476.2" fill="none" stroke="#2a2a2a" stroke-width="1.5"/><path d="M1605 271 Q1665.98 369.96 1716.44 474.68" fill="none" stroke="#cdcdcd" stroke-width="1.5"/><path d="M1605 271 Q1668.74 370.63 1722.05 476.2" fill="none" stroke="#2a2a2a" stroke-width="1.5"/><path d="M1605 271 Q1670.08 369.75 1724.82 474.6" fill="none" stroke="#cdcdcd" stroke-width="1.5"/><path d="M1605 271 Q1672.98 370.47 1730.73 476.2" fill="none" stroke="#2a2a2a" stroke-width="1.5"/><path d="M1605 271 Q1674.3 369.55 1733.45 474.51" fill="none" stroke="#cdcdcd" stroke-width="1.5"/><path d="M1605 271 Q1677.35 370.31 1739.67 476.2" fill="none" stroke="#2a2a2a" stroke-width="1.5"/><path d="M1605 271 Q1678.64 369.36 1742.34 474.43" fill="none" stroke="#cdcdcd" stroke-width="1.5"/><path d="M1605 271 Q1681.85 370.16 1748.88 476.2" fill="none" stroke="#2a2a2a" stroke-width="1.5"/><path d="M1605 271 Q1683.11 369.17 1751.49 474.35" fill="none" stroke="#cdcdcd" stroke-width="1.5"/><path d="M1605 271 Q1686.49 370.01 1758.37 476.2" fill="none" stroke="#2a2a2a" stroke-width="1.5"/><path d="M1605 271 Q1687.72 368.98 1760.92 474.27" fill="none" stroke="#cdcdcd" stroke-width="1.5"/><path d="M1605 271 Q1691.27 369.87 1768.14 476.2" fill="none" stroke="#2a2a2a" stroke-width="1.5"/><path d="M1605 271 Q1692.47 368.81 1770.63 474.19" fill="none" stroke="#cdcdcd" stroke-width="1.5"/><path d="M1605 271 Q1696.19 369.73 1778.2 476.2" fill="none" stroke="#2a2a2a" stroke-width="1.5"/><path d="M1605 271 Q1697.36 368.64 1780.64 474.12" fill="none" stroke="#cdcdcd" stroke-width="1.5"/><path d="M1605 271 Q1701.26 369.6 1788.57 476.2" fill="none" stroke="#2a2a2a" stroke-width="1.5"/><path d="M1605 271 Q1702.4 368.47 1790.94 474.05" fill="none" stroke="#cdcdcd" stroke-width="1.5"/><path d="M1605 271 Q1706.48 369.48 1799.25 476.2" fill="none" stroke="#2a2a2a" stroke-width="1.5"/><path d="M1605 271 Q1707.59 368.32 1801.56 473.99" fill="none" stroke="#cdcdcd" stroke-width="1.5"/><path d="M1605 271 Q1711.86 369.36 1810.24 476.2" fill="none" stroke="#2a2a2a" stroke-width="1.5"/><path d="M1605 271 Q1712.94 368.17 1812.49 473.92" fill="none" stroke="#cdcdcd" stroke-width="1.5"/><path d="M1605 271 Q1718.5 366.67 1823.9 471.2" fill="none" stroke="#2a2a2a" stroke-width="1.5"/><path d="M1605 271 Q1719.52 365.44 1826.05 468.83" fill="none" stroke="#cdcdcd" stroke-width="1.5"/><path d="M1605 271 Q1718.4 362.08 1823.9 462.2" fill="none" stroke="#2a2a2a" stroke-width="1.5"/><path d="M1605 271 Q1719.39 360.83 1825.99 459.78" fill="none" stroke="#cdcdcd" stroke-width="1.5"/><path d="M1605 271 Q1718.29 357.49 1823.9 453.2" fill="none" stroke="#2a2a2a" stroke-width="1.5"/><path d="M1605 271 Q1719.25 356.21 1825.93 450.73" fill="none" stroke="#cdcdcd" stroke-width="1.5"/><path d="M1605 271 Q1718.17 352.89 1823.9 444.2" fill="none" stroke="#2a2a2a" stroke-width="1.5"/><path d="M1605 271 Q1719.1 351.59 1825.87 441.68" fill="none" stroke="#cdcdcd" stroke-width="1.5"/><path d="M1605 271 Q1718.05 348.3 1823.9 435.2" fill="none" stroke="#2a2a2a" stroke-width="1.5"/><path d="M1605 271 Q1718.95 346.97 1825.81 432.63" fill="none" stroke="#cdcdcd" stroke-width="1.5"/><path d="M1605 271 Q1717.92 343.71 1823.9 426.2" fill="none" stroke="#2a2a2a" stroke-width="1.5"/><path d="M1605 271 Q1718.78 342.35 1825.74 423.58" fill="none" stroke="#cdcdcd" stroke-width="1.5"/></g>
<path d="M1606 273.5 L1819.9 421.3" fill="none" stroke="#000" stroke-width="2.5" opacity="0.9"/>
<path d="M1606 279 L1819.9 428" fill="none" stroke="#000" stroke-width="5" opacity="0.3"/>
<line x1="1416.5" y1="69.3" x2="1819.9" y2="69.3" stroke="#777" stroke-width="1.6" />
<line x1="1416.5" y1="472.2" x2="1819.9" y2="472.2" stroke="#555" stroke-width="1.3" />
<line x1="1416.5" y1="69.3" x2="1416.5" y2="472.2" stroke="#555" stroke-width="1" />
<line x1="1819.9" y1="69.3" x2="1819.9" y2="472.2" stroke="#777" stroke-width="1" />
<line x1="1411.5" y1="69.3" x2="1416.5" y2="69.3" stroke="#444" stroke-width="1.2" />
<line x1="1416.5" y1="472.2" x2="1416.5" y2="478.2" stroke="#444" stroke-width="1.2" />
<line x1="1411.5" y1="170.02" x2="1416.5" y2="170.02" stroke="#444" stroke-width="1.2" />
<line x1="1517.35" y1="472.2" x2="1517.35" y2="478.2" stroke="#444" stroke-width="1.2" />
<line x1="1411.5" y1="270.75" x2="1416.5" y2="270.75" stroke="#444" stroke-width="1.2" />
<line x1="1618.2" y1="472.2" x2="1618.2" y2="478.2" stroke="#444" stroke-width="1.2" />
<line x1="1411.5" y1="371.47" x2="1416.5" y2="371.47" stroke="#444" stroke-width="1.2" />
<line x1="1719.05" y1="472.2" x2="1719.05" y2="478.2" stroke="#444" stroke-width="1.2" />
<line x1="1411.5" y1="472.2" x2="1416.5" y2="472.2" stroke="#444" stroke-width="1.2" />
<line x1="1819.9" y1="472.2" x2="1819.9" y2="478.2" stroke="#444" stroke-width="1.2" />
<rect x="1632.7" y="44.4" width="188.6" height="16" fill="url(#cbE)" stroke="#333" stroke-width="1.2" />
<line x1="1633.8" y1="44.4" x2="1633.8" y2="40.4" stroke="#555" stroke-width="1" />
<line x1="1727" y1="44.4" x2="1727" y2="40.4" stroke="#555" stroke-width="1" />
<line x1="1820.5" y1="44.4" x2="1820.5" y2="40.4" stroke="#555" stroke-width="1" />
<g clip-path="url(#clipF)"><rect x="850" y="600" width="470" height="277" fill="#8d8d8d"/><path d="M790 600 C790 603.85 790 615.39 790 623.08 C790 630.78 789.98 638.47 790 646.17 C790.03 653.86 790.01 661.56 790.15 669.25 C790.29 676.94 790.46 684.64 790.86 692.33 C791.27 700.03 791.77 707.72 792.58 715.42 C793.4 723.11 794.38 730.81 795.75 738.5 C797.12 746.19 798.74 753.89 800.81 761.58 C802.89 769.28 805.29 776.97 808.22 784.67 C811.15 792.36 814.47 800.06 818.4 807.75 C822.34 815.44 826.73 823.14 831.82 830.83 C836.9 838.53 842.52 846.22 848.9 853.92 C855.28 861.61 866.57 873.15 870.1 877" fill="none" stroke="#0c0c0c" stroke-width="2.72"/><path d="M794.25 600 C794.25 603.85 794.25 615.39 794.25 623.08 C794.25 630.78 794.23 638.47 794.25 646.17 C794.28 653.86 794.26 661.56 794.4 669.25 C794.54 676.94 794.71 684.64 795.11 692.33 C795.52 700.03 796.02 707.72 796.83 715.42 C797.65 723.11 798.63 730.81 800 738.5 C801.37 746.19 802.99 753.89 805.06 761.58 C807.14 769.28 809.54 776.97 812.47 784.67 C815.4 792.36 818.72 800.06 822.65 807.75 C826.59 815.44 830.98 823.14 836.07 830.83 C841.15 838.53 846.77 846.22 853.15 853.92 C859.53 861.61 870.82 873.15 874.35 877" fill="none" stroke="#f4f4f4" stroke-width="2.38"/><path d="M798.5 600 C798.5 603.85 798.5 615.39 798.5 623.08 C798.5 630.78 798.48 638.47 798.5 646.17 C798.53 653.86 798.51 661.56 798.65 669.25 C798.79 676.94 798.96 684.64 799.36 692.33 C799.77 700.03 800.27 707.72 801.08 715.42 C801.9 723.11 802.88 730.81 804.25 738.5 C805.62 746.19 807.24 753.89 809.31 761.58 C811.39 769.28 813.79 776.97 816.72 784.67 C819.65 792.36 822.97 800.06 826.9 807.75 C830.84 815.44 835.23 823.14 840.32 830.83 C845.4 838.53 851.02 846.22 857.4 853.92 C863.78 861.61 875.07 873.15 878.6 877" fill="none" stroke="#0c0c0c" stroke-width="2.72"/><path d="M802.75 600 C802.75 603.85 802.75 615.39 802.75 623.08 C802.75 630.78 802.73 638.47 802.75 646.17 C802.78 653.86 802.76 661.56 802.9 669.25 C803.04 676.94 803.21 684.64 803.61 692.33 C804.02 700.03 804.52 707.72 805.33 715.42 C806.15 723.11 807.13 730.81 808.5 738.5 C809.87 746.19 811.49 753.89 813.56 761.58 C815.64 769.28 818.04 776.97 820.97 784.67 C823.9 792.36 827.22 800.06 831.15 807.75 C835.09 815.44 839.48 823.14 844.57 830.83 C849.65 838.53 855.27 846.22 861.65 853.92 C868.03 861.61 879.32 873.15 882.85 877" fill="none" stroke="#f4f4f4" stroke-width="2.38"/><path d="M807 600 C807 603.85 807 615.39 807 623.08 C807 630.78 806.98 638.47 807 646.17 C807.03 653.86 807.01 661.56 807.15 669.25 C807.29 676.94 807.46 684.64 807.86 692.33 C808.27 700.03 808.77 707.72 809.58 715.42 C810.4 723.11 811.38 730.81 812.75 738.5 C814.12 746.19 815.74 753.89 817.81 761.58 C819.89 769.28 822.29 776.97 825.22 784.67 C828.15 792.36 831.47 800.06 835.4 807.75 C839.34 815.44 843.73 823.14 848.82 830.83 C853.9 838.53 859.52 846.22 865.9 853.92 C872.28 861.61 883.57 873.15 887.1 877" fill="none" stroke="#0c0c0c" stroke-width="2.72"/><path d="M811.25 600 C811.25 603.85 811.25 615.39 811.25 623.08 C811.25 630.78 811.23 638.47 811.25 646.17 C811.28 653.86 811.26 661.56 811.4 669.25 C811.54 676.94 811.71 684.64 812.11 692.33 C812.52 700.03 813.02 707.72 813.83 715.42 C814.65 723.11 815.63 730.81 817 738.5 C818.37 746.19 819.99 753.89 822.06 761.58 C824.14 769.28 826.54 776.97 829.47 784.67 C832.4 792.36 835.72 800.06 839.65 807.75 C843.59 815.44 847.98 823.14 853.07 830.83 C858.15 838.53 863.77 846.22 870.15 853.92 C876.53 861.61 887.82 873.15 891.35 877" fill="none" stroke="#f4f4f4" stroke-width="2.38"/><path d="M815.5 600 C815.5 603.85 815.5 615.39 815.5 623.08 C815.5 630.78 815.48 638.47 815.5 646.17 C815.53 653.86 815.51 661.56 815.65 669.25 C815.79 676.94 815.96 684.64 816.36 692.33 C816.77 700.03 817.27 707.72 818.08 715.42 C818.9 723.11 819.88 730.81 821.25 738.5 C822.62 746.19 824.24 753.89 826.31 761.58 C828.39 769.28 830.79 776.97 833.72 784.67 C836.65 792.36 839.97 800.06 843.9 807.75 C847.84 815.44 852.23 823.14 857.32 830.83 C862.4 838.53 868.02 846.22 874.4 853.92 C880.78 861.61 892.07 873.15 895.6 877" fill="none" stroke="#0c0c0c" stroke-width="2.72"/><path d="M819.75 600 C819.75 603.85 819.75 615.39 819.75 623.08 C819.75 630.78 819.73 638.47 819.75 646.17 C819.78 653.86 819.76 661.56 819.9 669.25 C820.04 676.94 820.21 684.64 820.61 692.33 C821.02 700.03 821.52 707.72 822.33 715.42 C823.15 723.11 824.13 730.81 825.5 738.5 C826.87 746.19 828.49 753.89 830.56 761.58 C832.64 769.28 835.04 776.97 837.97 784.67 C840.9 792.36 844.22 800.06 848.15 807.75 C852.09 815.44 856.48 823.14 861.57 830.83 C866.65 838.53 872.27 846.22 878.65 853.92 C885.03 861.61 896.32 873.15 899.85 877" fill="none" stroke="#f4f4f4" stroke-width="2.38"/><path d="M824 600 C824 603.85 824 615.39 824 623.08 C824 630.78 823.98 638.47 824 646.17 C824.03 653.86 824.01 661.56 824.15 669.25 C824.29 676.94 824.46 684.64 824.86 692.33 C825.27 700.03 825.77 707.72 826.58 715.42 C827.4 723.11 828.38 730.81 829.75 738.5 C831.12 746.19 832.74 753.89 834.81 761.58 C836.89 769.28 839.29 776.97 842.22 784.67 C845.15 792.36 848.47 800.06 852.4 807.75 C856.34 815.44 860.73 823.14 865.82 830.83 C870.9 838.53 876.52 846.22 882.9 853.92 C889.28 861.61 900.57 873.15 904.1 877" fill="none" stroke="#0c0c0c" stroke-width="2.72"/><path d="M828.25 600 C828.25 603.85 828.25 615.39 828.25 623.08 C828.25 630.78 828.23 638.47 828.25 646.17 C828.28 653.86 828.26 661.56 828.4 669.25 C828.54 676.94 828.71 684.64 829.11 692.33 C829.52 700.03 830.02 707.72 830.83 715.42 C831.65 723.11 832.63 730.81 834 738.5 C835.37 746.19 836.99 753.89 839.06 761.58 C841.14 769.28 843.54 776.97 846.47 784.67 C849.4 792.36 852.72 800.06 856.65 807.75 C860.59 815.44 864.98 823.14 870.07 830.83 C875.15 838.53 880.77 846.22 887.15 853.92 C893.53 861.61 904.82 873.15 908.35 877" fill="none" stroke="#f4f4f4" stroke-width="2.38"/><path d="M832.5 600 C832.5 603.85 832.5 615.39 832.5 623.08 C832.5 630.78 832.48 638.47 832.5 646.17 C832.53 653.86 832.51 661.56 832.65 669.25 C832.79 676.94 832.96 684.64 833.36 692.33 C833.77 700.03 834.27 707.72 835.08 715.42 C835.9 723.11 836.88 730.81 838.25 738.5 C839.62 746.19 841.24 753.89 843.31 761.58 C845.39 769.28 847.79 776.97 850.72 784.67 C853.65 792.36 856.97 800.06 860.9 807.75 C864.84 815.44 869.23 823.14 874.32 830.83 C879.4 838.53 885.02 846.22 891.4 853.92 C897.78 861.61 909.07 873.15 912.6 877" fill="none" stroke="#0c0c0c" stroke-width="2.72"/><path d="M836.75 600 C836.75 603.85 836.75 615.39 836.75 623.08 C836.75 630.78 836.73 638.47 836.75 646.17 C836.78 653.86 836.76 661.56 836.9 669.25 C837.04 676.94 837.21 684.64 837.61 692.33 C838.02 700.03 838.52 707.72 839.33 715.42 C840.15 723.11 841.13 730.81 842.5 738.5 C843.87 746.19 845.49 753.89 847.56 761.58 C849.64 769.28 852.04 776.97 854.97 784.67 C857.9 792.36 861.22 800.06 865.15 807.75 C869.09 815.44 873.48 823.14 878.57 830.83 C883.65 838.53 889.27 846.22 895.65 853.92 C902.03 861.61 913.32 873.15 916.85 877" fill="none" stroke="#f4f4f4" stroke-width="2.38"/><path d="M841 600 C841 603.85 841 615.39 841 623.08 C841 630.78 840.98 638.47 841 646.17 C841.03 653.86 841.01 661.56 841.15 669.25 C841.29 676.94 841.46 684.64 841.86 692.33 C842.27 700.03 842.77 707.72 843.58 715.42 C844.4 723.11 845.38 730.81 846.75 738.5 C848.12 746.19 849.74 753.89 851.81 761.58 C853.89 769.28 856.29 776.97 859.22 784.67 C862.15 792.36 865.47 800.06 869.4 807.75 C873.34 815.44 877.73 823.14 882.82 830.83 C887.9 838.53 893.52 846.22 899.9 853.92 C906.28 861.61 917.57 873.15 921.1 877" fill="none" stroke="#0c0c0c" stroke-width="2.72"/><path d="M845.25 600 C845.25 603.85 845.25 615.39 845.25 623.08 C845.25 630.78 845.23 638.47 845.25 646.17 C845.28 653.86 845.26 661.56 845.4 669.25 C845.54 676.94 845.71 684.64 846.11 692.33 C846.52 700.03 847.02 707.72 847.83 715.42 C848.65 723.11 849.63 730.81 851 738.5 C852.37 746.19 853.99 753.89 856.06 761.58 C858.14 769.28 860.54 776.97 863.47 784.67 C866.4 792.36 869.72 800.06 873.65 807.75 C877.59 815.44 881.98 823.14 887.07 830.83 C892.15 838.53 897.77 846.22 904.15 853.92 C910.53 861.61 921.82 873.15 925.35 877" fill="none" stroke="#f4f4f4" stroke-width="2.38"/><path d="M849.5 600 C849.5 603.85 849.5 615.39 849.5 623.08 C849.5 630.78 849.48 638.47 849.5 646.17 C849.53 653.86 849.51 661.56 849.65 669.25 C849.79 676.94 849.96 684.64 850.36 692.33 C850.77 700.03 851.27 707.72 852.08 715.42 C852.9 723.11 853.88 730.81 855.25 738.5 C856.62 746.19 858.24 753.89 860.31 761.58 C862.39 769.28 864.79 776.97 867.72 784.67 C870.65 792.36 873.97 800.06 877.9 807.75 C881.84 815.44 886.23 823.14 891.32 830.83 C896.4 838.53 902.02 846.22 908.4 853.92 C914.78 861.61 926.07 873.15 929.6 877" fill="none" stroke="#0c0c0c" stroke-width="2.72"/><path d="M853.75 600 C853.75 603.85 853.75 615.39 853.75 623.08 C853.75 630.78 853.73 638.47 853.75 646.17 C853.78 653.86 853.76 661.56 853.9 669.25 C854.04 676.94 854.21 684.64 854.61 692.33 C855.02 700.03 855.52 707.72 856.33 715.42 C857.15 723.11 858.13 730.81 859.5 738.5 C860.87 746.19 862.49 753.89 864.56 761.58 C866.64 769.28 869.04 776.97 871.97 784.67 C874.9 792.36 878.22 800.06 882.15 807.75 C886.09 815.44 890.48 823.14 895.57 830.83 C900.65 838.53 906.27 846.22 912.65 853.92 C919.03 861.61 930.32 873.15 933.85 877" fill="none" stroke="#f4f4f4" stroke-width="2.38"/><path d="M858 600 C858 603.85 858 615.39 858 623.08 C858 630.78 857.98 638.47 858 646.17 C858.03 653.86 858.01 661.56 858.15 669.25 C858.29 676.94 858.46 684.64 858.86 692.33 C859.27 700.03 859.77 707.72 860.58 715.42 C861.4 723.11 862.38 730.81 863.75 738.5 C865.12 746.19 866.74 753.89 868.81 761.58 C870.89 769.28 873.29 776.97 876.22 784.67 C879.15 792.36 882.47 800.06 886.4 807.75 C890.34 815.44 894.73 823.14 899.82 830.83 C904.9 838.53 910.52 846.22 916.9 853.92 C923.28 861.61 934.57 873.15 938.1 877" fill="none" stroke="#0c0c0c" stroke-width="2.72"/><path d="M862.25 600 C862.25 603.85 862.25 615.39 862.25 623.08 C862.25 630.78 862.23 638.47 862.25 646.17 C862.28 653.86 862.26 661.56 862.4 669.25 C862.54 676.94 862.71 684.64 863.11 692.33 C863.52 700.03 864.02 707.72 864.83 715.42 C865.65 723.11 866.63 730.81 868 738.5 C869.37 746.19 870.99 753.89 873.06 761.58 C875.14 769.28 877.54 776.97 880.47 784.67 C883.4 792.36 886.72 800.06 890.65 807.75 C894.59 815.44 898.98 823.14 904.07 830.83 C909.15 838.53 914.77 846.22 921.15 853.92 C927.53 861.61 938.82 873.15 942.35 877" fill="none" stroke="#f4f4f4" stroke-width="2.38"/><path d="M866.5 600 C866.5 603.85 866.5 615.39 866.5 623.08 C866.5 630.78 866.48 638.47 866.5 646.17 C866.53 653.86 866.51 661.56 866.65 669.25 C866.79 676.94 866.96 684.64 867.36 692.33 C867.77 700.03 868.27 707.72 869.08 715.42 C869.9 723.11 870.88 730.81 872.25 738.5 C873.62 746.19 875.24 753.89 877.31 761.58 C879.39 769.28 881.79 776.97 884.72 784.67 C887.65 792.36 890.97 800.06 894.9 807.75 C898.84 815.44 903.23 823.14 908.32 830.83 C913.4 838.53 919.02 846.22 925.4 853.92 C931.78 861.61 943.07 873.15 946.6 877" fill="none" stroke="#0c0c0c" stroke-width="2.72"/><path d="M870.75 600 C870.75 603.85 870.75 615.39 870.75 623.08 C870.75 630.78 870.73 638.47 870.75 646.17 C870.78 653.86 870.76 661.56 870.9 669.25 C871.04 676.94 871.21 684.64 871.61 692.33 C872.02 700.03 872.52 707.72 873.33 715.42 C874.15 723.11 875.13 730.81 876.5 738.5 C877.87 746.19 879.49 753.89 881.56 761.58 C883.64 769.28 886.04 776.97 888.97 784.67 C891.9 792.36 895.22 800.06 899.15 807.75 C903.09 815.44 907.48 823.14 912.57 830.83 C917.65 838.53 923.27 846.22 929.65 853.92 C936.03 861.61 947.32 873.15 950.85 877" fill="none" stroke="#f4f4f4" stroke-width="2.38"/><path d="M875 600 C875 603.85 875 615.39 875 623.08 C875 630.78 874.98 638.47 875 646.17 C875.03 653.86 875.01 661.56 875.15 669.25 C875.29 676.94 875.46 684.64 875.86 692.33 C876.27 700.03 876.77 707.72 877.58 715.42 C878.4 723.11 879.38 730.81 880.75 738.5 C882.12 746.19 883.74 753.89 885.81 761.58 C887.89 769.28 890.29 776.97 893.22 784.67 C896.15 792.36 899.47 800.06 903.4 807.75 C907.34 815.44 911.73 823.14 916.82 830.83 C921.9 838.53 927.52 846.22 933.9 853.92 C940.28 861.61 951.57 873.15 955.1 877" fill="none" stroke="#0c0c0c" stroke-width="2.72"/><path d="M879.25 600 C879.25 603.85 879.25 615.39 879.25 623.08 C879.25 630.78 879.23 638.47 879.25 646.17 C879.28 653.86 879.26 661.56 879.4 669.25 C879.54 676.94 879.71 684.64 880.11 692.33 C880.52 700.03 881.02 707.72 881.83 715.42 C882.65 723.11 883.63 730.81 885 738.5 C886.37 746.19 887.99 753.89 890.06 761.58 C892.14 769.28 894.54 776.97 897.47 784.67 C900.4 792.36 903.72 800.06 907.65 807.75 C911.59 815.44 915.98 823.14 921.07 830.83 C926.15 838.53 931.77 846.22 938.15 853.92 C944.53 861.61 955.82 873.15 959.35 877" fill="none" stroke="#f4f4f4" stroke-width="2.38"/><path d="M883.5 600 C883.5 603.85 883.5 615.39 883.5 623.08 C883.5 630.78 883.48 638.47 883.5 646.17 C883.53 653.86 883.51 661.56 883.65 669.25 C883.79 676.94 883.95 684.64 884.36 692.33 C884.76 700.03 885.26 707.72 886.07 715.42 C886.88 723.11 887.85 730.81 889.22 738.5 C890.58 746.19 892.19 753.89 894.25 761.58 C896.32 769.28 898.7 776.97 901.61 784.67 C904.52 792.36 907.83 800.06 911.74 807.75 C915.65 815.44 920.02 823.14 925.07 830.83 C930.12 838.53 935.71 846.22 942.05 853.92 C948.4 861.61 959.62 873.15 963.13 877" fill="none" stroke="#0c0c0c" stroke-width="2.72"/><path d="M887.75 600 C887.75 603.85 887.75 615.39 887.75 623.08 C887.75 630.78 887.73 638.47 887.75 646.17 C887.78 653.86 887.76 661.56 887.9 669.25 C888.04 676.94 888.2 684.64 888.61 692.33 C889.01 700.03 889.51 707.72 890.32 715.42 C891.13 723.11 892.1 730.81 893.47 738.5 C894.83 746.19 896.44 753.89 898.5 761.58 C900.57 769.28 902.95 776.97 905.86 784.67 C908.77 792.36 912.08 800.06 915.99 807.75 C919.9 815.44 924.27 823.14 929.32 830.83 C934.37 838.53 939.96 846.22 946.3 853.92 C952.65 861.61 963.87 873.15 967.38 877" fill="none" stroke="#f4f4f4" stroke-width="2.38"/><path d="M892 600 C892 603.85 892 615.39 892 623.08 C892 630.78 891.98 638.47 892 646.17 C892.03 653.86 892.01 661.56 892.15 669.25 C892.29 676.94 892.45 684.64 892.84 692.33 C893.24 700.03 893.73 707.72 894.53 715.42 C895.33 723.11 896.29 730.81 897.63 738.5 C898.98 746.19 900.56 753.89 902.6 761.58 C904.63 769.28 906.98 776.97 909.85 784.67 C912.72 792.36 915.98 800.06 919.83 807.75 C923.68 815.44 927.99 823.14 932.97 830.83 C937.95 838.53 943.46 846.22 949.71 853.92 C955.96 861.61 967.02 873.15 970.48 877" fill="none" stroke="#0c0c0c" stroke-width="2.72"/><path d="M896.25 600 C896.25 603.85 896.25 615.39 896.25 623.08 C896.25 630.78 896.23 638.47 896.25 646.17 C896.28 653.86 896.26 661.56 896.4 669.25 C896.54 676.94 896.7 684.64 897.09 692.33 C897.49 700.03 897.98 707.72 898.78 715.42 C899.58 723.11 900.54 730.81 901.88 738.5 C903.23 746.19 904.81 753.89 906.85 761.58 C908.88 769.28 911.23 776.97 914.1 784.67 C916.97 792.36 920.23 800.06 924.08 807.75 C927.93 815.44 932.24 823.14 937.22 830.83 C942.2 838.53 947.71 846.22 953.96 853.92 C960.21 861.61 971.27 873.15 974.73 877" fill="none" stroke="#f4f4f4" stroke-width="2.38"/><path d="M900.5 600 C900.5 603.85 900.5 615.39 900.5 623.08 C900.5 630.78 900.48 638.47 900.5 646.17 C900.53 653.86 900.51 661.56 900.65 669.25 C900.78 676.94 900.94 684.64 901.33 692.33 C901.72 700.03 902.21 707.72 902.99 715.42 C903.78 723.11 904.73 730.81 906.05 738.5 C907.38 746.19 908.93 753.89 910.94 761.58 C912.95 769.28 915.26 776.97 918.09 784.67 C920.92 792.36 924.13 800.06 927.92 807.75 C931.72 815.44 935.96 823.14 940.87 830.83 C945.78 838.53 951.21 846.22 957.37 853.92 C963.53 861.61 974.42 873.15 977.83 877" fill="none" stroke="#0c0c0c" stroke-width="2.72"/><path d="M904.75 600 C904.75 603.85 904.75 615.39 904.75 623.08 C904.75 630.78 904.73 638.47 904.75 646.17 C904.78 653.86 904.76 661.56 904.9 669.25 C905.04 676.94 905.19 684.64 905.59 692.33 C905.98 700.03 906.46 707.72 907.24 715.42 C908.03 723.11 908.98 730.81 910.3 738.5 C911.63 746.19 913.19 753.89 915.19 761.58 C917.2 769.28 919.51 776.97 922.34 784.67 C925.17 792.36 928.38 800.06 932.18 807.75 C935.97 815.44 940.22 823.14 945.12 830.83 C950.03 838.53 955.46 846.22 961.62 853.92 C967.78 861.61 978.67 873.15 982.09 877" fill="none" stroke="#f4f4f4" stroke-width="2.38"/><path d="M909.01 600 C909.01 603.85 909.01 615.39 909.01 623.08 C909.01 630.78 908.98 638.47 909.01 646.17 C909.03 653.86 909.01 661.56 909.15 669.25 C909.29 676.94 909.44 684.64 909.83 692.33 C910.21 700.03 910.69 707.72 911.46 715.42 C912.24 723.11 913.17 730.81 914.47 738.5 C915.78 746.19 917.32 753.89 919.29 761.58 C921.27 769.28 923.54 776.97 926.33 784.67 C929.12 792.36 932.28 800.06 936.02 807.75 C939.76 815.44 943.94 823.14 948.78 830.83 C953.61 838.53 958.96 846.22 965.03 853.92 C971.1 861.61 981.83 873.15 985.19 877" fill="none" stroke="#0c0c0c" stroke-width="2.75"/><path d="M913.31 600 C913.31 603.85 913.31 615.39 913.31 623.08 C913.31 630.78 913.28 638.47 913.31 646.17 C913.33 653.86 913.31 661.56 913.45 669.25 C913.59 676.94 913.74 684.64 914.13 692.33 C914.51 700.03 914.99 707.72 915.76 715.42 C916.54 723.11 917.47 730.81 918.78 738.5 C920.08 746.19 921.62 753.89 923.59 761.58 C925.57 769.28 927.85 776.97 930.63 784.67 C933.42 792.36 936.58 800.06 940.32 807.75 C944.06 815.44 948.24 823.14 953.08 830.83 C957.91 838.53 963.26 846.22 969.33 853.92 C975.4 861.61 986.13 873.15 989.49 877" fill="none" stroke="#f4f4f4" stroke-width="2.41"/><path d="M917.61 600 C917.61 603.85 917.61 615.39 917.61 623.08 C917.61 630.78 917.58 638.47 917.61 646.17 C917.63 653.86 917.61 661.56 917.75 669.25 C917.88 676.94 918.04 684.64 918.41 692.33 C918.79 700.03 919.26 707.72 920.02 715.42 C920.79 723.11 921.71 730.81 922.99 738.5 C924.28 746.19 925.79 753.89 927.74 761.58 C929.68 769.28 931.92 776.97 934.67 784.67 C937.42 792.36 940.53 800.06 944.21 807.75 C947.89 815.44 952.01 823.14 956.77 830.83 C961.53 838.53 966.8 846.22 972.77 853.92 C978.75 861.61 989.32 873.15 992.63 877" fill="none" stroke="#0c0c0c" stroke-width="2.78"/><path d="M921.96 600 C921.96 603.85 921.96 615.39 921.96 623.08 C921.96 630.78 921.93 638.47 921.96 646.17 C921.98 653.86 921.96 661.56 922.1 669.25 C922.23 676.94 922.38 684.64 922.76 692.33 C923.14 700.03 923.61 707.72 924.37 715.42 C925.14 723.11 926.06 730.81 927.34 738.5 C928.63 746.19 930.14 753.89 932.09 761.58 C934.03 769.28 936.27 776.97 939.02 784.67 C941.76 792.36 944.88 800.06 948.56 807.75 C952.24 815.44 956.36 823.14 961.12 830.83 C965.88 838.53 971.15 846.22 977.12 853.92 C983.1 861.61 993.67 873.15 996.98 877" fill="none" stroke="#f4f4f4" stroke-width="2.44"/><path d="M926.31 600 C926.31 603.85 926.3 615.39 926.31 623.08 C926.31 630.78 926.28 638.47 926.31 646.17 C926.33 653.86 926.31 661.56 926.44 669.25 C926.58 676.94 926.73 684.64 927.1 692.33 C927.47 700.03 927.93 707.72 928.68 715.42 C929.44 723.11 930.34 730.81 931.61 738.5 C932.87 746.19 934.36 753.89 936.28 761.58 C938.19 769.28 940.4 776.97 943.1 784.67 C945.8 792.36 948.87 800.06 952.49 807.75 C956.12 815.44 960.17 823.14 964.86 830.83 C969.54 838.53 974.73 846.22 980.61 853.92 C986.49 861.61 996.9 873.15 1000.15 877" fill="none" stroke="#0c0c0c" stroke-width="2.81"/><path d="M930.7 600 C930.7 603.85 930.7 615.39 930.7 623.08 C930.7 630.78 930.68 638.47 930.7 646.17 C930.73 653.86 930.71 661.56 930.84 669.25 C930.97 676.94 931.12 684.64 931.5 692.33 C931.87 700.03 932.33 707.72 933.08 715.42 C933.83 723.11 934.74 730.81 936 738.5 C937.27 746.19 938.76 753.89 940.67 761.58 C942.59 769.28 944.8 776.97 947.5 784.67 C950.2 792.36 953.26 800.06 956.89 807.75 C960.52 815.44 964.57 823.14 969.26 830.83 C973.94 838.53 979.12 846.22 985.01 853.92 C990.89 861.61 1001.29 873.15 1004.55 877" fill="none" stroke="#f4f4f4" stroke-width="2.46"/><path d="M935.1 600 C935.1 603.85 935.1 615.39 935.1 623.08 C935.1 630.78 935.08 638.47 935.1 646.17 C935.12 653.86 935.11 661.56 935.24 669.25 C935.37 676.94 935.52 684.64 935.88 692.33 C936.25 700.03 936.7 707.72 937.44 715.42 C938.18 723.11 939.07 730.81 940.32 738.5 C941.56 746.19 943.03 753.89 944.91 761.58 C946.8 769.28 948.97 776.97 951.63 784.67 C954.29 792.36 957.3 800.06 960.87 807.75 C964.43 815.44 968.42 823.14 973.03 830.83 C977.64 838.53 982.74 846.22 988.53 853.92 C994.32 861.61 1004.56 873.15 1007.76 877" fill="none" stroke="#0c0c0c" stroke-width="2.85"/><path d="M939.55 600 C939.55 603.85 939.55 615.39 939.55 623.08 C939.55 630.78 939.53 638.47 939.55 646.17 C939.57 653.86 939.55 661.56 939.68 669.25 C939.82 676.94 939.96 684.64 940.33 692.33 C940.7 700.03 941.15 707.72 941.89 715.42 C942.63 723.11 943.52 730.81 944.76 738.5 C946.01 746.19 947.47 753.89 949.36 761.58 C951.24 769.28 953.41 776.97 956.07 784.67 C958.73 792.36 961.75 800.06 965.31 807.75 C968.88 815.44 972.87 823.14 977.48 830.83 C982.09 838.53 987.19 846.22 992.98 853.92 C998.77 861.61 1009 873.15 1012.21 877" fill="none" stroke="#f4f4f4" stroke-width="2.49"/><path d="M944 600 C944 603.85 944 615.39 944 623.08 C944 630.78 943.97 638.47 944 646.17 C944.02 653.86 944 661.56 944.13 669.25 C944.26 676.94 944.4 684.64 944.77 692.33 C945.13 700.03 945.57 707.72 946.3 715.42 C947.03 723.11 947.9 730.81 949.13 738.5 C950.35 746.19 951.79 753.89 953.64 761.58 C955.5 769.28 957.63 776.97 960.25 784.67 C962.86 792.36 965.83 800.06 969.34 807.75 C972.84 815.44 976.77 823.14 981.3 830.83 C985.84 838.53 990.85 846.22 996.54 853.92 C1002.23 861.61 1012.3 873.15 1015.45 877" fill="none" stroke="#0c0c0c" stroke-width="2.88"/><path d="M948.49 600 C948.49 603.85 948.49 615.39 948.49 623.08 C948.49 630.78 948.47 638.47 948.49 646.17 C948.52 653.86 948.5 661.56 948.63 669.25 C948.76 676.94 948.9 684.64 949.26 692.33 C949.62 700.03 950.07 707.72 950.8 715.42 C951.52 723.11 952.4 730.81 953.62 738.5 C954.85 746.19 956.29 753.89 958.14 761.58 C959.99 769.28 962.13 776.97 964.75 784.67 C967.36 792.36 970.32 800.06 973.83 807.75 C977.34 815.44 981.26 823.14 985.8 830.83 C990.33 838.53 995.35 846.22 1001.04 853.92 C1006.73 861.61 1016.8 873.15 1019.95 877" fill="none" stroke="#f4f4f4" stroke-width="2.52"/><path d="M952.99 600 C952.99 603.85 952.99 615.39 952.99 623.08 C952.99 630.78 952.97 638.47 952.99 646.17 C953.01 653.86 953 661.56 953.12 669.25 C953.25 676.94 953.39 684.64 953.75 692.33 C954.1 700.03 954.54 707.72 955.25 715.42 C955.97 723.11 956.83 730.81 958.03 738.5 C959.24 746.19 960.65 753.89 962.47 761.58 C964.3 769.28 966.4 776.97 968.97 784.67 C971.54 792.36 974.45 800.06 977.9 807.75 C981.35 815.44 985.2 823.14 989.66 830.83 C994.12 838.53 999.05 846.22 1004.64 853.92 C1010.24 861.61 1020.14 873.15 1023.23 877" fill="none" stroke="#0c0c0c" stroke-width="2.91"/><path d="M957.54 600 C957.54 603.85 957.54 615.39 957.54 623.08 C957.54 630.78 957.52 638.47 957.54 646.17 C957.56 653.86 957.55 661.56 957.67 669.25 C957.8 676.94 957.94 684.64 958.3 692.33 C958.65 700.03 959.09 707.72 959.8 715.42 C960.52 723.11 961.38 730.81 962.58 738.5 C963.79 746.19 965.2 753.89 967.02 761.58 C968.84 769.28 970.94 776.97 973.51 784.67 C976.09 792.36 979 800.06 982.45 807.75 C985.9 815.44 989.75 823.14 994.21 830.83 C998.67 838.53 1003.6 846.22 1009.19 853.92 C1014.79 861.61 1024.68 873.15 1027.78 877" fill="none" stroke="#f4f4f4" stroke-width="2.55"/><path d="M962.09 600 C962.09 603.85 962.09 615.39 962.09 623.08 C962.09 630.78 962.07 638.47 962.09 646.17 C962.11 653.86 962.09 661.56 962.22 669.25 C962.34 676.94 962.48 684.64 962.83 692.33 C963.18 700.03 963.61 707.72 964.31 715.42 C965.01 723.11 965.86 730.81 967.04 738.5 C968.22 746.19 969.61 753.89 971.4 761.58 C973.2 769.28 975.26 776.97 977.78 784.67 C980.31 792.36 983.17 800.06 986.56 807.75 C989.95 815.44 993.74 823.14 998.12 830.83 C1002.5 838.53 1007.34 846.22 1012.84 853.92 C1018.33 861.61 1028.06 873.15 1031.1 877" fill="none" stroke="#0c0c0c" stroke-width="2.94"/><path d="M966.69 600 C966.69 603.85 966.69 615.39 966.69 623.08 C966.69 630.78 966.67 638.47 966.69 646.17 C966.71 653.86 966.69 661.56 966.82 669.25 C966.94 676.94 967.08 684.64 967.43 692.33 C967.78 700.03 968.21 707.72 968.91 715.42 C969.61 723.11 970.46 730.81 971.64 738.5 C972.82 746.19 974.21 753.89 976 761.58 C977.79 769.28 979.86 776.97 982.38 784.67 C984.91 792.36 987.77 800.06 991.16 807.75 C994.55 815.44 998.34 823.14 1002.72 830.83 C1007.1 838.53 1011.94 846.22 1017.44 853.92 C1022.93 861.61 1032.66 873.15 1035.7 877" fill="none" stroke="#f4f4f4" stroke-width="2.58"/><path d="M971.29 600 C971.29 603.85 971.29 615.39 971.29 623.08 C971.29 630.78 971.27 638.47 971.29 646.17 C971.31 653.86 971.29 661.56 971.41 669.25 C971.53 676.94 971.67 684.64 972.02 692.33 C972.36 700.03 972.78 707.72 973.47 715.42 C974.16 723.11 974.99 730.81 976.15 738.5 C977.31 746.19 978.68 753.89 980.44 761.58 C982.19 769.28 984.22 776.97 986.7 784.67 C989.18 792.36 991.99 800.06 995.32 807.75 C998.65 815.44 1002.37 823.14 1006.67 830.83 C1010.97 838.53 1015.72 846.22 1021.12 853.92 C1026.52 861.61 1036.07 873.15 1039.06 877" fill="none" stroke="#0c0c0c" stroke-width="2.98"/><path d="M975.94 600 C975.94 603.85 975.94 615.39 975.94 623.08 C975.94 630.78 975.92 638.47 975.94 646.17 C975.96 653.86 975.94 661.56 976.06 669.25 C976.19 676.94 976.32 684.64 976.67 692.33 C977.01 700.03 977.43 707.72 978.12 715.42 C978.81 723.11 979.64 730.81 980.8 738.5 C981.96 746.19 983.33 753.89 985.09 761.58 C986.84 769.28 988.87 776.97 991.35 784.67 C993.83 792.36 996.64 800.06 999.97 807.75 C1003.3 815.44 1007.02 823.14 1011.32 830.83 C1015.62 838.53 1020.37 846.22 1025.77 853.92 C1031.17 861.61 1040.72 873.15 1043.71 877" fill="none" stroke="#f4f4f4" stroke-width="2.6"/><path d="M980.59 600 C980.59 603.85 980.59 615.39 980.59 623.08 C980.59 630.78 980.57 638.47 980.59 646.17 C980.61 653.86 980.59 661.56 980.71 669.25 C980.83 676.94 980.97 684.64 981.3 692.33 C981.64 700.03 982.05 707.72 982.73 715.42 C983.41 723.11 984.22 730.81 985.36 738.5 C986.5 746.19 987.84 753.89 989.57 761.58 C991.29 769.28 993.28 776.97 995.72 784.67 C998.15 792.36 1000.91 800.06 1004.17 807.75 C1007.44 815.44 1011.09 823.14 1015.31 830.83 C1019.53 838.53 1024.2 846.22 1029.5 853.92 C1034.8 861.61 1044.17 873.15 1047.1 877" fill="none" stroke="#0c0c0c" stroke-width="3.01"/><path d="M985.29 600 C985.29 603.85 985.29 615.39 985.29 623.08 C985.29 630.78 985.27 638.47 985.29 646.17 C985.31 653.86 985.3 661.56 985.42 669.25 C985.53 676.94 985.67 684.64 986.01 692.33 C986.34 700.03 986.76 707.72 987.43 715.42 C988.11 723.11 988.93 730.81 990.07 738.5 C991.21 746.19 992.55 753.89 994.27 761.58 C996 769.28 997.98 776.97 1000.42 784.67 C1002.85 792.36 1005.61 800.06 1008.88 807.75 C1012.14 815.44 1015.8 823.14 1020.02 830.83 C1024.24 838.53 1028.9 846.22 1034.2 853.92 C1039.5 861.61 1048.87 873.15 1051.81 877" fill="none" stroke="#f4f4f4" stroke-width="2.63"/><path d="M989.99 600 C989.99 603.85 989.99 615.39 989.99 623.08 C989.99 630.78 989.97 638.47 990 646.17 C990.02 653.86 990 661.56 990.12 669.25 C990.23 676.94 990.37 684.64 990.7 692.33 C991.03 700.03 991.43 707.72 992.1 715.42 C992.76 723.11 993.56 730.81 994.68 738.5 C995.8 746.19 997.11 753.89 998.8 761.58 C1000.5 769.28 1002.45 776.97 1004.83 784.67 C1007.22 792.36 1009.93 800.06 1013.13 807.75 C1016.33 815.44 1019.92 823.14 1024.06 830.83 C1028.2 838.53 1032.77 846.22 1037.97 853.92 C1043.17 861.61 1052.36 873.15 1055.24 877" fill="none" stroke="#0c0c0c" stroke-width="3.04"/><path d="M994.75 600 C994.75 603.85 994.75 615.39 994.75 623.08 C994.75 630.78 994.73 638.47 994.75 646.17 C994.77 653.86 994.76 661.56 994.87 669.25 C994.99 676.94 995.12 684.64 995.45 692.33 C995.78 700.03 996.19 707.72 996.85 715.42 C997.52 723.11 998.32 730.81 999.43 738.5 C1000.55 746.19 1001.87 753.89 1003.56 761.58 C1005.25 769.28 1007.2 776.97 1009.59 784.67 C1011.98 792.36 1014.68 800.06 1017.89 807.75 C1021.09 815.44 1024.67 823.14 1028.81 830.83 C1032.95 838.53 1037.53 846.22 1042.73 853.92 C1047.93 861.61 1057.12 873.15 1060 877" fill="none" stroke="#f4f4f4" stroke-width="2.66"/><path d="M999.51 600 C999.51 603.85 999.51 615.39 999.51 623.08 C999.51 630.78 999.49 638.47 999.51 646.17 C999.53 653.86 999.51 661.56 999.63 669.25 C999.74 676.94 999.87 684.64 1000.2 692.33 C1000.52 700.03 1000.92 707.72 1001.57 715.42 C1002.22 723.11 1003 730.81 1004.1 738.5 C1005.19 746.19 1006.48 753.89 1008.14 761.58 C1009.8 769.28 1011.71 776.97 1014.05 784.67 C1016.39 792.36 1019.05 800.06 1022.19 807.75 C1025.33 815.44 1028.84 823.14 1032.9 830.83 C1036.96 838.53 1041.44 846.22 1046.54 853.92 C1051.63 861.61 1060.65 873.15 1063.47 877" fill="none" stroke="#0c0c0c" stroke-width="3.08"/><path d="M1004.32 600 C1004.32 603.85 1004.32 615.39 1004.32 623.08 C1004.32 630.78 1004.3 638.47 1004.32 646.17 C1004.34 653.86 1004.32 661.56 1004.44 669.25 C1004.55 676.94 1004.68 684.64 1005 692.33 C1005.33 700.03 1005.73 707.72 1006.38 715.42 C1007.03 723.11 1007.81 730.81 1008.91 738.5 C1010 746.19 1011.29 753.89 1012.95 761.58 C1014.61 769.28 1016.52 776.97 1018.86 784.67 C1021.2 792.36 1023.86 800.06 1027 807.75 C1030.14 815.44 1033.65 823.14 1037.71 830.83 C1041.77 838.53 1046.25 846.22 1051.35 853.92 C1056.44 861.61 1065.46 873.15 1068.28 877" fill="none" stroke="#f4f4f4" stroke-width="2.69"/><path d="M1009.13 600 C1009.13 603.85 1009.13 615.39 1009.13 623.08 C1009.13 630.78 1009.11 638.47 1009.13 646.17 C1009.15 653.86 1009.13 661.56 1009.24 669.25 C1009.36 676.94 1009.48 684.64 1009.8 692.33 C1010.12 700.03 1010.51 707.72 1011.14 715.42 C1011.78 723.11 1012.55 730.81 1013.62 738.5 C1014.7 746.19 1015.96 753.89 1017.59 761.58 C1019.21 769.28 1021.08 776.97 1023.38 784.67 C1025.67 792.36 1028.27 800.06 1031.35 807.75 C1034.42 815.44 1037.86 823.14 1041.84 830.83 C1045.82 838.53 1050.21 846.22 1055.2 853.92 C1060.2 861.61 1069.02 873.15 1071.79 877" fill="none" stroke="#0c0c0c" stroke-width="3.11"/><path d="M1013.99 600 C1013.99 603.85 1013.99 615.39 1013.99 623.08 C1013.99 630.78 1013.97 638.47 1013.99 646.17 C1014.01 653.86 1014 661.56 1014.11 669.25 C1014.22 676.94 1014.35 684.64 1014.66 692.33 C1014.98 700.03 1015.37 707.72 1016.01 715.42 C1016.65 723.11 1017.41 730.81 1018.49 738.5 C1019.56 746.19 1020.82 753.89 1022.45 761.58 C1024.08 769.28 1025.95 776.97 1028.24 784.67 C1030.53 792.36 1033.13 800.06 1036.21 807.75 C1039.29 815.44 1042.73 823.14 1046.7 830.83 C1050.68 838.53 1055.08 846.22 1060.07 853.92 C1065.06 861.61 1073.89 873.15 1076.65 877" fill="none" stroke="#f4f4f4" stroke-width="2.72"/><path d="M1018.85 600 C1018.85 603.85 1018.85 615.39 1018.85 623.08 C1018.85 630.78 1018.84 638.47 1018.85 646.17 C1018.87 653.86 1018.86 661.56 1018.97 669.25 C1019.08 676.94 1019.2 684.64 1019.51 692.33 C1019.82 700.03 1020.21 707.72 1020.83 715.42 C1021.45 723.11 1022.21 730.81 1023.26 738.5 C1024.31 746.19 1025.54 753.89 1027.14 761.58 C1028.73 769.28 1030.56 776.97 1032.81 784.67 C1035.05 792.36 1037.6 800.06 1040.61 807.75 C1043.62 815.44 1046.99 823.14 1050.88 830.83 C1054.77 838.53 1059.08 846.22 1063.97 853.92 C1068.85 861.61 1077.5 873.15 1080.2 877" fill="none" stroke="#0c0c0c" stroke-width="3.15"/><path d="M1023.77 600 C1023.77 603.85 1023.77 615.39 1023.77 623.08 C1023.77 630.78 1023.75 638.47 1023.77 646.17 C1023.79 653.86 1023.78 661.56 1023.89 669.25 C1024 676.94 1024.12 684.64 1024.43 692.33 C1024.74 700.03 1025.12 707.72 1025.75 715.42 C1026.37 723.11 1027.13 730.81 1028.18 738.5 C1029.23 746.19 1030.46 753.89 1032.05 761.58 C1033.65 769.28 1035.48 776.97 1037.72 784.67 C1039.97 792.36 1042.51 800.06 1045.53 807.75 C1048.54 815.44 1051.91 823.14 1055.8 830.83 C1059.69 838.53 1064 846.22 1068.88 853.92 C1073.77 861.61 1082.41 873.15 1085.12 877" fill="none" stroke="#f4f4f4" stroke-width="2.75"/><path d="M1028.69 600 C1028.69 603.85 1028.69 615.39 1028.69 623.08 C1028.69 630.78 1028.67 638.47 1028.69 646.17 C1028.71 653.86 1028.7 661.56 1028.8 669.25 C1028.91 676.94 1029.03 684.64 1029.34 692.33 C1029.64 700.03 1030.01 707.72 1030.62 715.42 C1031.24 723.11 1031.97 730.81 1033 738.5 C1034.03 746.19 1035.24 753.89 1036.79 761.58 C1038.35 769.28 1040.14 776.97 1042.34 784.67 C1044.54 792.36 1047.03 800.06 1049.97 807.75 C1052.92 815.44 1056.22 823.14 1060.02 830.83 C1063.83 838.53 1068.04 846.22 1072.83 853.92 C1077.61 861.61 1086.06 873.15 1088.71 877" fill="none" stroke="#0c0c0c" stroke-width="3.18"/><path d="M1033.66 600 C1033.66 603.85 1033.66 615.39 1033.66 623.08 C1033.66 630.78 1033.65 638.47 1033.67 646.17 C1033.68 653.86 1033.67 661.56 1033.78 669.25 C1033.88 676.94 1034.01 684.64 1034.31 692.33 C1034.61 700.03 1034.99 707.72 1035.6 715.42 C1036.21 723.11 1036.95 730.81 1037.97 738.5 C1039 746.19 1040.21 753.89 1041.77 761.58 C1043.33 769.28 1045.12 776.97 1047.32 784.67 C1049.51 792.36 1052 800.06 1054.95 807.75 C1057.89 815.44 1061.19 823.14 1065 830.83 C1068.81 838.53 1073.02 846.22 1077.8 853.92 C1082.58 861.61 1091.04 873.15 1093.68 877" fill="none" stroke="#f4f4f4" stroke-width="2.79"/><path d="M1038.64 600 C1038.64 603.85 1038.64 615.39 1038.64 623.08 C1038.64 630.78 1038.62 638.47 1038.64 646.17 C1038.66 653.86 1038.64 661.56 1038.75 669.25 C1038.85 676.94 1038.97 684.64 1039.27 692.33 C1039.57 700.03 1039.93 707.72 1040.53 715.42 C1041.13 723.11 1041.85 730.81 1042.85 738.5 C1043.86 746.19 1045.04 753.89 1046.56 761.58 C1048.08 769.28 1049.84 776.97 1051.98 784.67 C1054.13 792.36 1056.56 800.06 1059.45 807.75 C1062.33 815.44 1065.55 823.14 1069.27 830.83 C1072.99 838.53 1077.11 846.22 1081.79 853.92 C1086.46 861.61 1094.73 873.15 1097.31 877" fill="none" stroke="#0c0c0c" stroke-width="3.22"/><path d="M1043.67 600 C1043.67 603.85 1043.67 615.39 1043.67 623.08 C1043.67 630.78 1043.65 638.47 1043.67 646.17 C1043.69 653.86 1043.67 661.56 1043.78 669.25 C1043.88 676.94 1044 684.64 1044.3 692.33 C1044.6 700.03 1044.96 707.72 1045.56 715.42 C1046.16 723.11 1046.88 730.81 1047.88 738.5 C1048.89 746.19 1050.07 753.89 1051.59 761.58 C1053.11 769.28 1054.87 776.97 1057.01 784.67 C1059.16 792.36 1061.59 800.06 1064.48 807.75 C1067.36 815.44 1070.58 823.14 1074.3 830.83 C1078.02 838.53 1082.14 846.22 1086.82 853.92 C1091.49 861.61 1099.76 873.15 1102.34 877" fill="none" stroke="#f4f4f4" stroke-width="2.82"/><path d="M1048.7 600 C1048.7 603.85 1048.7 615.39 1048.7 623.08 C1048.7 630.78 1048.68 638.47 1048.7 646.17 C1048.72 653.86 1048.7 661.56 1048.81 669.25 C1048.91 676.94 1049.03 684.64 1049.32 692.33 C1049.61 700.03 1049.96 707.72 1050.54 715.42 C1051.13 723.11 1051.83 730.81 1052.81 738.5 C1053.79 746.19 1054.95 753.89 1056.44 761.58 C1057.92 769.28 1059.64 776.97 1061.73 784.67 C1063.83 792.36 1066.21 800.06 1069.02 807.75 C1071.84 815.44 1074.98 823.14 1078.62 830.83 C1082.26 838.53 1086.28 846.22 1090.85 853.92 C1095.41 861.61 1103.49 873.15 1106.02 877" fill="none" stroke="#0c0c0c" stroke-width="3.26"/><path d="M1053.78 600 C1053.78 603.85 1053.78 615.39 1053.78 623.08 C1053.78 630.78 1053.77 638.47 1053.79 646.17 C1053.8 653.86 1053.79 661.56 1053.89 669.25 C1053.99 676.94 1054.11 684.64 1054.4 692.33 C1054.69 700.03 1055.05 707.72 1055.63 715.42 C1056.21 723.11 1056.92 730.81 1057.9 738.5 C1058.88 746.19 1060.04 753.89 1061.52 761.58 C1063.01 769.28 1064.72 776.97 1066.82 784.67 C1068.92 792.36 1071.3 800.06 1074.11 807.75 C1076.92 815.44 1080.07 823.14 1083.71 830.83 C1087.34 838.53 1091.37 846.22 1095.93 853.92 C1100.5 861.61 1108.57 873.15 1111.1 877" fill="none" stroke="#f4f4f4" stroke-width="2.85"/><path d="M1058.87 600 C1058.87 603.85 1058.87 615.39 1058.87 623.08 C1058.87 630.78 1058.85 638.47 1058.87 646.17 C1058.89 653.86 1058.88 661.56 1058.98 669.25 C1059.08 676.94 1059.19 684.64 1059.47 692.33 C1059.76 700.03 1060.1 707.72 1060.67 715.42 C1061.24 723.11 1061.93 730.81 1062.89 738.5 C1063.85 746.19 1064.97 753.89 1066.42 761.58 C1067.88 769.28 1069.55 776.97 1071.59 784.67 C1073.64 792.36 1075.96 800.06 1078.71 807.75 C1081.46 815.44 1084.53 823.14 1088.08 830.83 C1091.63 838.53 1095.55 846.22 1100.01 853.92 C1104.47 861.61 1112.35 873.15 1114.81 877" fill="none" stroke="#0c0c0c" stroke-width="3.29"/><path d="M1064.01 600 C1064.01 603.85 1064.01 615.39 1064.01 623.08 C1064.01 630.78 1064 638.47 1064.02 646.17 C1064.03 653.86 1064.02 661.56 1064.12 669.25 C1064.22 676.94 1064.33 684.64 1064.62 692.33 C1064.9 700.03 1065.25 707.72 1065.82 715.42 C1066.39 723.11 1067.07 730.81 1068.03 738.5 C1068.99 746.19 1070.12 753.89 1071.57 761.58 C1073.02 769.28 1074.69 776.97 1076.74 784.67 C1078.79 792.36 1081.11 800.06 1083.85 807.75 C1086.6 815.44 1089.67 823.14 1093.22 830.83 C1096.77 838.53 1100.7 846.22 1105.15 853.92 C1109.61 861.61 1117.49 873.15 1119.96 877" fill="none" stroke="#f4f4f4" stroke-width="2.88"/><path d="M1069.16 600 C1069.16 603.85 1069.16 615.39 1069.16 623.08 C1069.16 630.78 1069.14 638.47 1069.16 646.17 C1069.18 653.86 1069.16 661.56 1069.26 669.25 C1069.36 676.94 1069.47 684.64 1069.75 692.33 C1070.02 700.03 1070.36 707.72 1070.92 715.42 C1071.47 723.11 1072.14 730.81 1073.07 738.5 C1074.01 746.19 1075.11 753.89 1076.52 761.58 C1077.94 769.28 1079.57 776.97 1081.57 784.67 C1083.56 792.36 1085.82 800.06 1088.5 807.75 C1091.18 815.44 1094.18 823.14 1097.64 830.83 C1101.1 838.53 1104.93 846.22 1109.27 853.92 C1113.62 861.61 1121.31 873.15 1123.71 877" fill="none" stroke="#0c0c0c" stroke-width="3.33"/><path d="M1074.36 600 C1074.36 603.85 1074.36 615.39 1074.36 623.08 C1074.36 630.78 1074.34 638.47 1074.36 646.17 C1074.38 653.86 1074.36 661.56 1074.46 669.25 C1074.56 676.94 1074.67 684.64 1074.95 692.33 C1075.22 700.03 1075.56 707.72 1076.12 715.42 C1076.67 723.11 1077.34 730.81 1078.28 738.5 C1079.21 746.19 1080.31 753.89 1081.73 761.58 C1083.14 769.28 1084.77 776.97 1086.77 784.67 C1088.76 792.36 1091.03 800.06 1093.7 807.75 C1096.38 815.44 1099.38 823.14 1102.84 830.83 C1106.3 838.53 1110.13 846.22 1114.48 853.92 C1118.82 861.61 1126.51 873.15 1128.91 877" fill="none" stroke="#f4f4f4" stroke-width="2.91"/><path d="M1079.56 600 C1079.56 603.85 1079.56 615.39 1079.56 623.08 C1079.56 630.78 1079.55 638.47 1079.56 646.17 C1079.58 653.86 1079.57 661.56 1079.66 669.25 C1079.76 676.94 1079.86 684.64 1080.13 692.33 C1080.4 700.03 1080.73 707.72 1081.27 715.42 C1081.81 723.11 1082.47 730.81 1083.38 738.5 C1084.29 746.19 1085.36 753.89 1086.74 761.58 C1088.12 769.28 1089.7 776.97 1091.65 784.67 C1093.59 792.36 1095.8 800.06 1098.41 807.75 C1101.02 815.44 1103.94 823.14 1107.31 830.83 C1110.68 838.53 1114.41 846.22 1118.64 853.92 C1122.88 861.61 1130.37 873.15 1132.71 877" fill="none" stroke="#0c0c0c" stroke-width="3.37"/><path d="M1084.82 600 C1084.82 603.85 1084.82 615.39 1084.82 623.08 C1084.82 630.78 1084.81 638.47 1084.82 646.17 C1084.84 653.86 1084.83 661.56 1084.92 669.25 C1085.02 676.94 1085.12 684.64 1085.39 692.33 C1085.66 700.03 1085.99 707.72 1086.53 715.42 C1087.07 723.11 1087.73 730.81 1088.64 738.5 C1089.55 746.19 1090.62 753.89 1092 761.58 C1093.38 769.28 1094.96 776.97 1096.91 784.67 C1098.85 792.36 1101.06 800.06 1103.67 807.75 C1106.28 815.44 1109.2 823.14 1112.57 830.83 C1115.94 838.53 1119.67 846.22 1123.9 853.92 C1128.14 861.61 1135.63 873.15 1137.97 877" fill="none" stroke="#f4f4f4" stroke-width="2.95"/><path d="M1090.08 600 C1090.08 603.85 1090.08 615.39 1090.08 623.08 C1090.08 630.78 1090.07 638.47 1090.08 646.17 C1090.1 653.86 1090.09 661.56 1090.18 669.25 C1090.27 676.94 1090.38 684.64 1090.64 692.33 C1090.9 700.03 1091.22 707.72 1091.75 715.42 C1092.27 723.11 1092.91 730.81 1093.79 738.5 C1094.68 746.19 1095.72 753.89 1097.07 761.58 C1098.41 769.28 1099.95 776.97 1101.85 784.67 C1103.74 792.36 1105.88 800.06 1108.42 807.75 C1110.96 815.44 1113.8 823.14 1117.09 830.83 C1120.37 838.53 1124 846.22 1128.12 853.92 C1132.24 861.61 1139.53 873.15 1141.81 877" fill="none" stroke="#0c0c0c" stroke-width="3.4"/><path d="M1095.4 600 C1095.4 603.85 1095.4 615.39 1095.4 623.08 C1095.4 630.78 1095.39 638.47 1095.4 646.17 C1095.42 653.86 1095.41 661.56 1095.5 669.25 C1095.59 676.94 1095.7 684.64 1095.96 692.33 C1096.22 700.03 1096.54 707.72 1097.07 715.42 C1097.59 723.11 1098.23 730.81 1099.11 738.5 C1100 746.19 1101.04 753.89 1102.38 761.58 C1103.73 769.28 1105.27 776.97 1107.17 784.67 C1109.06 792.36 1111.2 800.06 1113.74 807.75 C1116.28 815.44 1119.12 823.14 1122.41 830.83 C1125.69 838.53 1129.32 846.22 1133.44 853.92 C1137.56 861.61 1144.85 873.15 1147.13 877" fill="none" stroke="#f4f4f4" stroke-width="2.98"/><path d="M1100.72 600 C1100.72 603.85 1100.72 615.39 1100.72 623.08 C1100.72 630.78 1100.7 638.47 1100.72 646.17 C1100.74 653.86 1100.72 661.56 1100.81 669.25 C1100.9 676.94 1101.01 684.64 1101.26 692.33 C1101.52 700.03 1101.83 707.72 1102.34 715.42 C1102.85 723.11 1103.47 730.81 1104.33 738.5 C1105.19 746.19 1106.21 753.89 1107.51 761.58 C1108.81 769.28 1110.32 776.97 1112.16 784.67 C1114 792.36 1116.08 800.06 1118.55 807.75 C1121.02 815.44 1123.78 823.14 1126.98 830.83 C1130.17 838.53 1133.7 846.22 1137.7 853.92 C1141.71 861.61 1148.79 873.15 1151.01 877" fill="none" stroke="#0c0c0c" stroke-width="3.44"/><path d="M1106.1 600 C1106.1 603.85 1106.1 615.39 1106.1 623.08 C1106.1 630.78 1106.08 638.47 1106.1 646.17 C1106.12 653.86 1106.1 661.56 1106.19 669.25 C1106.28 676.94 1106.39 684.64 1106.64 692.33 C1106.89 700.03 1107.21 707.72 1107.72 715.42 C1108.23 723.11 1108.85 730.81 1109.71 738.5 C1110.57 746.19 1111.58 753.89 1112.89 761.58 C1114.19 769.28 1115.7 776.97 1117.54 784.67 C1119.38 792.36 1121.46 800.06 1123.93 807.75 C1126.4 815.44 1129.16 823.14 1132.35 830.83 C1135.55 838.53 1139.07 846.22 1143.08 853.92 C1147.09 861.61 1154.17 873.15 1156.39 877" fill="none" stroke="#f4f4f4" stroke-width="3.01"/><path d="M1111.48 600 C1111.48 603.85 1111.48 615.39 1111.48 623.08 C1111.48 630.78 1111.46 638.47 1111.48 646.17 C1111.49 653.86 1111.48 661.56 1111.57 669.25 C1111.66 676.94 1111.76 684.64 1112 692.33 C1112.25 700.03 1112.55 707.72 1113.05 715.42 C1113.55 723.11 1114.15 730.81 1114.98 738.5 C1115.82 746.19 1116.8 753.89 1118.07 761.58 C1119.34 769.28 1120.8 776.97 1122.59 784.67 C1124.37 792.36 1126.4 800.06 1128.8 807.75 C1131.19 815.44 1133.88 823.14 1136.97 830.83 C1140.07 838.53 1143.5 846.22 1147.39 853.92 C1151.28 861.61 1158.16 873.15 1160.32 877" fill="none" stroke="#0c0c0c" stroke-width="3.48"/><path d="M1116.92 600 C1116.92 603.85 1116.92 615.39 1116.92 623.08 C1116.92 630.78 1116.9 638.47 1116.92 646.17 C1116.93 653.86 1116.92 661.56 1117.01 669.25 C1117.1 676.94 1117.2 684.64 1117.44 692.33 C1117.69 700.03 1117.99 707.72 1118.49 715.42 C1118.99 723.11 1119.59 730.81 1120.42 738.5 C1121.26 746.19 1122.24 753.89 1123.51 761.58 C1124.78 769.28 1126.24 776.97 1128.03 784.67 C1129.81 792.36 1131.84 800.06 1134.24 807.75 C1136.63 815.44 1139.32 823.14 1142.41 830.83 C1145.51 838.53 1148.94 846.22 1152.83 853.92 C1156.72 861.61 1163.6 873.15 1165.76 877" fill="none" stroke="#f4f4f4" stroke-width="3.05"/><path d="M1122.36 600 C1122.36 603.85 1122.36 615.39 1122.36 623.08 C1122.36 630.78 1122.34 638.47 1122.36 646.17 C1122.37 653.86 1122.36 661.56 1122.45 669.25 C1122.53 676.94 1122.63 684.64 1122.87 692.33 C1123.11 700.03 1123.4 707.72 1123.88 715.42 C1124.37 723.11 1124.95 730.81 1125.76 738.5 C1126.57 746.19 1127.52 753.89 1128.75 761.58 C1129.98 769.28 1131.4 776.97 1133.13 784.67 C1134.86 792.36 1136.83 800.06 1139.15 807.75 C1141.48 815.44 1144.08 823.14 1147.09 830.83 C1150.09 838.53 1153.42 846.22 1157.19 853.92 C1160.96 861.61 1167.64 873.15 1169.73 877" fill="none" stroke="#0c0c0c" stroke-width="3.52"/><path d="M1127.86 600 C1127.86 603.85 1127.86 615.39 1127.86 623.08 C1127.86 630.78 1127.84 638.47 1127.86 646.17 C1127.87 653.86 1127.86 661.56 1127.95 669.25 C1128.03 676.94 1128.13 684.64 1128.37 692.33 C1128.61 700.03 1128.9 707.72 1129.38 715.42 C1129.87 723.11 1130.45 730.81 1131.26 738.5 C1132.07 746.19 1133.02 753.89 1134.25 761.58 C1135.48 769.28 1136.9 776.97 1138.63 784.67 C1140.37 792.36 1142.33 800.06 1144.66 807.75 C1146.98 815.44 1149.58 823.14 1152.59 830.83 C1155.59 838.53 1158.92 846.22 1162.69 853.92 C1166.46 861.61 1173.14 873.15 1175.23 877" fill="none" stroke="#f4f4f4" stroke-width="3.08"/><path d="M1133.36 600 C1133.36 603.85 1133.36 615.39 1133.36 623.08 C1133.36 630.78 1133.34 638.47 1133.36 646.17 C1133.37 653.86 1133.36 661.56 1133.44 669.25 C1133.53 676.94 1133.62 684.64 1133.85 692.33 C1134.08 700.03 1134.37 707.72 1134.84 715.42 C1135.3 723.11 1135.87 730.81 1136.65 738.5 C1137.44 746.19 1138.36 753.89 1139.55 761.58 C1140.74 769.28 1142.11 776.97 1143.79 784.67 C1145.47 792.36 1147.38 800.06 1149.63 807.75 C1151.88 815.44 1154.4 823.14 1157.31 830.83 C1160.22 838.53 1163.44 846.22 1167.1 853.92 C1170.75 861.61 1177.22 873.15 1179.24 877" fill="none" stroke="#0c0c0c" stroke-width="3.56"/><path d="M1138.92 600 C1138.92 603.85 1138.92 615.39 1138.92 623.08 C1138.92 630.78 1138.91 638.47 1138.92 646.17 C1138.94 653.86 1138.93 661.56 1139.01 669.25 C1139.09 676.94 1139.18 684.64 1139.42 692.33 C1139.65 700.03 1139.93 707.72 1140.4 715.42 C1140.87 723.11 1141.43 730.81 1142.22 738.5 C1143 746.19 1143.93 753.89 1145.12 761.58 C1146.31 769.28 1147.68 776.97 1149.36 784.67 C1151.04 792.36 1152.94 800.06 1155.19 807.75 C1157.44 815.44 1159.96 823.14 1162.88 830.83 C1165.79 838.53 1169.01 846.22 1172.66 853.92 C1176.32 861.61 1182.78 873.15 1184.81 877" fill="none" stroke="#f4f4f4" stroke-width="3.12"/><path d="M1144.48 600 C1144.48 603.85 1144.48 615.39 1144.48 623.08 C1144.48 630.78 1144.47 638.47 1144.48 646.17 C1144.5 653.86 1144.49 661.56 1144.57 669.25 C1144.65 676.94 1144.74 684.64 1144.96 692.33 C1145.19 700.03 1145.46 707.72 1145.91 715.42 C1146.37 723.11 1146.91 730.81 1147.67 738.5 C1148.43 746.19 1149.32 753.89 1150.48 761.58 C1151.63 769.28 1152.95 776.97 1154.58 784.67 C1156.2 792.36 1158.04 800.06 1160.22 807.75 C1162.4 815.44 1164.84 823.14 1167.65 830.83 C1170.47 838.53 1173.58 846.22 1177.12 853.92 C1180.65 861.61 1186.91 873.15 1188.87 877" fill="none" stroke="#0c0c0c" stroke-width="3.6"/><path d="M1150.11 600 C1150.11 603.85 1150.11 615.39 1150.11 623.08 C1150.11 630.78 1150.1 638.47 1150.11 646.17 C1150.12 653.86 1150.11 661.56 1150.19 669.25 C1150.27 676.94 1150.36 684.64 1150.59 692.33 C1150.81 700.03 1151.09 707.72 1151.54 715.42 C1151.99 723.11 1152.53 730.81 1153.3 738.5 C1154.06 746.19 1154.95 753.89 1156.1 761.58 C1157.25 769.28 1158.58 776.97 1160.2 784.67 C1161.83 792.36 1163.67 800.06 1165.85 807.75 C1168.03 815.44 1170.46 823.14 1173.28 830.83 C1176.09 838.53 1179.21 846.22 1182.74 853.92 C1186.28 861.61 1192.53 873.15 1194.49 877" fill="none" stroke="#f4f4f4" stroke-width="3.15"/><path d="M1155.73 600 C1155.73 603.85 1155.73 615.39 1155.73 623.08 C1155.73 630.78 1155.72 638.47 1155.73 646.17 C1155.75 653.86 1155.74 661.56 1155.81 669.25 C1155.89 676.94 1155.98 684.64 1156.2 692.33 C1156.41 700.03 1156.68 707.72 1157.12 715.42 C1157.55 723.11 1158.08 730.81 1158.81 738.5 C1159.55 746.19 1160.41 753.89 1161.52 761.58 C1162.63 769.28 1163.91 776.97 1165.48 784.67 C1167.05 792.36 1168.83 800.06 1170.93 807.75 C1173.04 815.44 1175.39 823.14 1178.11 830.83 C1180.83 838.53 1183.84 846.22 1187.25 853.92 C1190.67 861.61 1196.71 873.15 1198.6 877" fill="none" stroke="#0c0c0c" stroke-width="3.64"/><path d="M1161.42 600 C1161.42 603.85 1161.42 615.39 1161.42 623.08 C1161.42 630.78 1161.41 638.47 1161.42 646.17 C1161.44 653.86 1161.43 661.56 1161.5 669.25 C1161.58 676.94 1161.67 684.64 1161.88 692.33 C1162.1 700.03 1162.37 707.72 1162.8 715.42 C1163.24 723.11 1163.77 730.81 1164.5 738.5 C1165.23 746.19 1166.1 753.89 1167.21 761.58 C1168.32 769.28 1169.6 776.97 1171.17 784.67 C1172.74 792.36 1174.52 800.06 1176.62 807.75 C1178.73 815.44 1181.08 823.14 1183.8 830.83 C1186.52 838.53 1189.53 846.22 1192.94 853.92 C1196.36 861.61 1202.39 873.15 1204.28 877" fill="none" stroke="#f4f4f4" stroke-width="3.19"/><path d="M1167.11 600 C1167.11 603.85 1167.11 615.39 1167.11 623.08 C1167.11 630.78 1167.1 638.47 1167.11 646.17 C1167.12 653.86 1167.11 661.56 1167.19 669.25 C1167.26 676.94 1167.35 684.64 1167.56 692.33 C1167.77 700.03 1168.02 707.72 1168.44 715.42 C1168.86 723.11 1169.37 730.81 1170.08 738.5 C1170.79 746.19 1171.62 753.89 1172.69 761.58 C1173.76 769.28 1175 776.97 1176.51 784.67 C1178.02 792.36 1179.74 800.06 1181.77 807.75 C1183.79 815.44 1186.06 823.14 1188.69 830.83 C1191.31 838.53 1194.21 846.22 1197.5 853.92 C1200.79 861.61 1206.61 873.15 1208.44 877" fill="none" stroke="#0c0c0c" stroke-width="3.68"/><path d="M1172.86 600 C1172.86 603.85 1172.86 615.39 1172.86 623.08 C1172.86 630.78 1172.85 638.47 1172.86 646.17 C1172.88 653.86 1172.87 661.56 1172.94 669.25 C1173.02 676.94 1173.1 684.64 1173.31 692.33 C1173.52 700.03 1173.78 707.72 1174.2 715.42 C1174.62 723.11 1175.12 730.81 1175.83 738.5 C1176.54 746.19 1177.37 753.89 1178.44 761.58 C1179.52 769.28 1180.75 776.97 1182.26 784.67 C1183.78 792.36 1185.49 800.06 1187.52 807.75 C1189.55 815.44 1191.82 823.14 1194.44 830.83 C1197.06 838.53 1199.96 846.22 1203.25 853.92 C1206.54 861.61 1212.37 873.15 1214.19 877" fill="none" stroke="#f4f4f4" stroke-width="3.22"/><path d="M1178.62 600 C1178.62 603.85 1178.62 615.39 1178.62 623.08 C1178.62 630.78 1178.6 638.47 1178.62 646.17 C1178.63 653.86 1178.62 661.56 1178.69 669.25 C1178.76 676.94 1178.84 684.64 1179.04 692.33 C1179.25 700.03 1179.49 707.72 1179.9 715.42 C1180.3 723.11 1180.79 730.81 1181.47 738.5 C1182.15 746.19 1182.95 753.89 1183.99 761.58 C1185.02 769.28 1186.21 776.97 1187.66 784.67 C1189.12 792.36 1190.77 800.06 1192.72 807.75 C1194.67 815.44 1196.86 823.14 1199.38 830.83 C1201.9 838.53 1204.69 846.22 1207.86 853.92 C1211.03 861.61 1216.63 873.15 1218.39 877" fill="none" stroke="#0c0c0c" stroke-width="3.72"/><path d="M1184.43 600 C1184.43 603.85 1184.43 615.39 1184.43 623.08 C1184.43 630.78 1184.42 638.47 1184.43 646.17 C1184.45 653.86 1184.44 661.56 1184.51 669.25 C1184.58 676.94 1184.66 684.64 1184.86 692.33 C1185.06 700.03 1185.31 707.72 1185.71 715.42 C1186.12 723.11 1186.61 730.81 1187.29 738.5 C1187.97 746.19 1188.77 753.89 1189.8 761.58 C1190.83 769.28 1192.02 776.97 1193.48 784.67 C1194.93 792.36 1196.58 800.06 1198.54 807.75 C1200.49 815.44 1202.67 823.14 1205.2 830.83 C1207.72 838.53 1210.51 846.22 1213.68 853.92 C1216.85 861.61 1222.45 873.15 1224.21 877" fill="none" stroke="#f4f4f4" stroke-width="3.26"/><path d="M1190.25 600 C1190.25 603.85 1190.25 615.39 1190.25 623.08 C1190.25 630.78 1190.24 638.47 1190.25 646.17 C1190.26 653.86 1190.25 661.56 1190.32 669.25 C1190.39 676.94 1190.47 684.64 1190.66 692.33 C1190.86 700.03 1191.09 707.72 1191.48 715.42 C1191.87 723.11 1192.34 730.81 1192.99 738.5 C1193.65 746.19 1194.42 753.89 1195.41 761.58 C1196.4 769.28 1197.54 776.97 1198.94 784.67 C1200.34 792.36 1201.92 800.06 1203.8 807.75 C1205.67 815.44 1207.77 823.14 1210.19 830.83 C1212.62 838.53 1215.3 846.22 1218.34 853.92 C1221.38 861.61 1226.77 873.15 1228.45 877" fill="none" stroke="#0c0c0c" stroke-width="3.76"/><path d="M1196.13 600 C1196.13 603.85 1196.13 615.39 1196.13 623.08 C1196.13 630.78 1196.12 638.47 1196.13 646.17 C1196.15 653.86 1196.14 661.56 1196.21 669.25 C1196.27 676.94 1196.35 684.64 1196.54 692.33 C1196.74 700.03 1196.98 707.72 1197.36 715.42 C1197.75 723.11 1198.22 730.81 1198.88 738.5 C1199.53 746.19 1200.3 753.89 1201.29 761.58 C1202.28 769.28 1203.42 776.97 1204.82 784.67 C1206.22 792.36 1207.8 800.06 1209.68 807.75 C1211.56 815.44 1213.65 823.14 1216.08 830.83 C1218.5 838.53 1221.18 846.22 1224.22 853.92 C1227.27 861.61 1232.65 873.15 1234.33 877" fill="none" stroke="#f4f4f4" stroke-width="3.29"/><path d="M1202.02 600 C1202.02 603.85 1202.02 615.39 1202.02 623.08 C1202.02 630.78 1202.01 638.47 1202.02 646.17 C1202.03 653.86 1202.02 661.56 1202.08 669.25 C1202.15 676.94 1202.23 684.64 1202.41 692.33 C1202.6 700.03 1202.82 707.72 1203.2 715.42 C1203.57 723.11 1204.02 730.81 1204.64 738.5 C1205.27 746.19 1206.01 753.89 1206.96 761.58 C1207.91 769.28 1209 776.97 1210.34 784.67 C1211.68 792.36 1213.2 800.06 1215 807.75 C1216.8 815.44 1218.81 823.14 1221.13 830.83 C1223.45 838.53 1226.02 846.22 1228.94 853.92 C1231.85 861.61 1237.01 873.15 1238.63 877" fill="none" stroke="#0c0c0c" stroke-width="3.81"/><path d="M1207.96 600 C1207.96 603.85 1207.96 615.39 1207.96 623.08 C1207.96 630.78 1207.95 638.47 1207.97 646.17 C1207.98 653.86 1207.97 661.56 1208.03 669.25 C1208.1 676.94 1208.17 684.64 1208.36 692.33 C1208.54 700.03 1208.77 707.72 1209.14 715.42 C1209.52 723.11 1209.97 730.81 1210.59 738.5 C1211.22 746.19 1211.96 753.89 1212.91 761.58 C1213.86 769.28 1214.95 776.97 1216.29 784.67 C1217.63 792.36 1219.15 800.06 1220.95 807.75 C1222.75 815.44 1224.75 823.14 1227.08 830.83 C1229.4 838.53 1231.97 846.22 1234.89 853.92 C1237.8 861.61 1242.96 873.15 1244.58 877" fill="none" stroke="#f4f4f4" stroke-width="3.33"/><path d="M1213.91 600 C1213.91 603.85 1213.91 615.39 1213.91 623.08 C1213.91 630.78 1213.9 638.47 1213.91 646.17 C1213.93 653.86 1213.92 661.56 1213.98 669.25 C1214.04 676.94 1214.11 684.64 1214.29 692.33 C1214.47 700.03 1214.69 707.72 1215.04 715.42 C1215.4 723.11 1215.83 730.81 1216.43 738.5 C1217.03 746.19 1217.73 753.89 1218.64 761.58 C1219.55 769.28 1220.59 776.97 1221.88 784.67 C1223.16 792.36 1224.61 800.06 1226.33 807.75 C1228.05 815.44 1229.97 823.14 1232.19 830.83 C1234.41 838.53 1236.87 846.22 1239.65 853.92 C1242.44 861.61 1247.37 873.15 1248.92 877" fill="none" stroke="#0c0c0c" stroke-width="3.85"/><path d="M1219.93 600 C1219.93 603.85 1219.93 615.39 1219.93 623.08 C1219.93 630.78 1219.92 638.47 1219.93 646.17 C1219.94 653.86 1219.93 661.56 1220 669.25 C1220.06 676.94 1220.13 684.64 1220.31 692.33 C1220.48 700.03 1220.7 707.72 1221.06 715.42 C1221.41 723.11 1221.84 730.81 1222.44 738.5 C1223.04 746.19 1223.75 753.89 1224.66 761.58 C1225.56 769.28 1226.61 776.97 1227.89 784.67 C1229.17 792.36 1230.62 800.06 1232.34 807.75 C1234.06 815.44 1235.98 823.14 1238.2 830.83 C1240.43 838.53 1242.88 846.22 1245.67 853.92 C1248.46 861.61 1253.39 873.15 1254.93 877" fill="none" stroke="#f4f4f4" stroke-width="3.37"/><path d="M1225.95 600 C1225.95 603.85 1225.95 615.39 1225.95 623.08 C1225.95 630.78 1225.94 638.47 1225.95 646.17 C1225.96 653.86 1225.95 661.56 1226.01 669.25 C1226.07 676.94 1226.14 684.64 1226.3 692.33 C1226.47 700.03 1226.68 707.72 1227.02 715.42 C1227.36 723.11 1227.77 730.81 1228.34 738.5 C1228.91 746.19 1229.59 753.89 1230.45 761.58 C1231.32 769.28 1232.32 776.97 1233.54 784.67 C1234.76 792.36 1236.14 800.06 1237.78 807.75 C1239.42 815.44 1241.25 823.14 1243.37 830.83 C1245.49 838.53 1247.83 846.22 1250.49 853.92 C1253.15 861.61 1257.85 873.15 1259.33 877" fill="none" stroke="#0c0c0c" stroke-width="3.89"/><path d="M1232.03 600 C1232.03 603.85 1232.03 615.39 1232.03 623.08 C1232.03 630.78 1232.02 638.47 1232.03 646.17 C1232.04 653.86 1232.03 661.56 1232.09 669.25 C1232.15 676.94 1232.22 684.64 1232.39 692.33 C1232.56 700.03 1232.76 707.72 1233.1 715.42 C1233.44 723.11 1233.85 730.81 1234.42 738.5 C1235 746.19 1235.67 753.89 1236.54 761.58 C1237.4 769.28 1238.4 776.97 1239.62 784.67 C1240.84 792.36 1242.23 800.06 1243.87 807.75 C1245.5 815.44 1247.34 823.14 1249.45 830.83 C1251.57 838.53 1253.92 846.22 1256.57 853.92 C1259.23 861.61 1263.94 873.15 1265.41 877" fill="none" stroke="#f4f4f4" stroke-width="3.41"/><path d="M1238.11 600 C1238.11 603.85 1238.11 615.39 1238.11 623.08 C1238.11 630.78 1238.1 638.47 1238.11 646.17 C1238.12 653.86 1238.11 661.56 1238.17 669.25 C1238.23 676.94 1238.29 684.64 1238.45 692.33 C1238.61 700.03 1238.81 707.72 1239.13 715.42 C1239.46 723.11 1239.85 730.81 1240.39 738.5 C1240.93 746.19 1241.57 753.89 1242.4 761.58 C1243.22 769.28 1244.17 776.97 1245.33 784.67 C1246.49 792.36 1247.81 800.06 1249.37 807.75 C1250.92 815.44 1252.67 823.14 1254.68 830.83 C1256.69 838.53 1258.92 846.22 1261.45 853.92 C1263.98 861.61 1268.45 873.15 1269.85 877" fill="none" stroke="#0c0c0c" stroke-width="3.94"/><path d="M1244.26 600 C1244.26 603.85 1244.26 615.39 1244.26 623.08 C1244.26 630.78 1244.25 638.47 1244.26 646.17 C1244.27 653.86 1244.27 661.56 1244.32 669.25 C1244.38 676.94 1244.45 684.64 1244.61 692.33 C1244.77 700.03 1244.96 707.72 1245.29 715.42 C1245.61 723.11 1246 730.81 1246.54 738.5 C1247.09 746.19 1247.73 753.89 1248.55 761.58 C1249.37 769.28 1250.32 776.97 1251.48 784.67 C1252.64 792.36 1253.96 800.06 1255.52 807.75 C1257.08 815.44 1258.82 823.14 1260.83 830.83 C1262.85 838.53 1265.07 846.22 1267.6 853.92 C1270.13 861.61 1274.6 873.15 1276 877" fill="none" stroke="#f4f4f4" stroke-width="3.45"/><path d="M1250.42 600 C1250.42 603.85 1250.42 615.39 1250.42 623.08 C1250.42 630.78 1250.41 638.47 1250.42 646.17 C1250.43 653.86 1250.42 661.56 1250.47 669.25 C1250.53 676.94 1250.59 684.64 1250.74 692.33 C1250.89 700.03 1251.08 707.72 1251.38 715.42 C1251.69 723.11 1252.06 730.81 1252.57 738.5 C1253.09 746.19 1253.7 753.89 1254.48 761.58 C1255.26 769.28 1256.16 776.97 1257.26 784.67 C1258.36 792.36 1259.6 800.06 1261.08 807.75 C1262.56 815.44 1264.21 823.14 1266.12 830.83 C1268.03 838.53 1270.14 846.22 1272.53 853.92 C1274.93 861.61 1279.16 873.15 1280.49 877" fill="none" stroke="#0c0c0c" stroke-width="3.98"/><path d="M1256.64 600 C1256.64 603.85 1256.64 615.39 1256.64 623.08 C1256.64 630.78 1256.63 638.47 1256.64 646.17 C1256.65 653.86 1256.64 661.56 1256.69 669.25 C1256.75 676.94 1256.81 684.64 1256.96 692.33 C1257.11 700.03 1257.3 707.72 1257.61 715.42 C1257.91 723.11 1258.28 730.81 1258.8 738.5 C1259.31 746.19 1259.92 753.89 1260.7 761.58 C1261.48 769.28 1262.38 776.97 1263.48 784.67 C1264.58 792.36 1265.82 800.06 1267.3 807.75 C1268.78 815.44 1270.43 823.14 1272.34 830.83 C1274.25 838.53 1276.36 846.22 1278.75 853.92 C1281.15 861.61 1285.39 873.15 1286.71 877" fill="none" stroke="#f4f4f4" stroke-width="3.48"/><path d="M1262.86 600 C1262.86 603.85 1262.86 615.39 1262.86 623.08 C1262.86 630.78 1262.85 638.47 1262.86 646.17 C1262.87 653.86 1262.86 661.56 1262.91 669.25 C1262.96 676.94 1263.02 684.64 1263.16 692.33 C1263.31 700.03 1263.48 707.72 1263.77 715.42 C1264.06 723.11 1264.41 730.81 1264.9 738.5 C1265.38 746.19 1265.96 753.89 1266.69 761.58 C1267.43 769.28 1268.28 776.97 1269.32 784.67 C1270.36 792.36 1271.53 800.06 1272.93 807.75 C1274.32 815.44 1275.88 823.14 1277.68 830.83 C1279.48 838.53 1281.48 846.22 1283.74 853.92 C1286 861.61 1290 873.15 1291.25 877" fill="none" stroke="#0c0c0c" stroke-width="4.03"/><path d="M1269.15 600 C1269.15 603.85 1269.15 615.39 1269.15 623.08 C1269.15 630.78 1269.14 638.47 1269.15 646.17 C1269.16 653.86 1269.15 661.56 1269.2 669.25 C1269.25 676.94 1269.31 684.64 1269.45 692.33 C1269.6 700.03 1269.78 707.72 1270.06 715.42 C1270.35 723.11 1270.7 730.81 1271.19 738.5 C1271.67 746.19 1272.25 753.89 1272.98 761.58 C1273.72 769.28 1274.57 776.97 1275.61 784.67 C1276.65 792.36 1277.82 800.06 1279.22 807.75 C1280.61 815.44 1282.17 823.14 1283.97 830.83 C1285.77 838.53 1287.77 846.22 1290.03 853.92 C1292.29 861.61 1296.29 873.15 1297.54 877" fill="none" stroke="#f4f4f4" stroke-width="3.52"/><path d="M1275.44 600 C1275.44 603.85 1275.44 615.39 1275.44 623.08 C1275.44 630.78 1275.43 638.47 1275.44 646.17 C1275.45 653.86 1275.44 661.56 1275.49 669.25 C1275.54 676.94 1275.59 684.64 1275.73 692.33 C1275.86 700.03 1276.03 707.72 1276.3 715.42 C1276.57 723.11 1276.9 730.81 1277.36 738.5 C1277.81 746.19 1278.35 753.89 1279.04 761.58 C1279.74 769.28 1280.53 776.97 1281.51 784.67 C1282.49 792.36 1283.6 800.06 1284.91 807.75 C1286.22 815.44 1287.68 823.14 1289.38 830.83 C1291.07 838.53 1292.94 846.22 1295.07 853.92 C1297.2 861.61 1300.96 873.15 1302.14 877" fill="none" stroke="#0c0c0c" stroke-width="4.07"/><path d="M1281.8 600 C1281.8 603.85 1281.8 615.39 1281.8 623.08 C1281.8 630.78 1281.79 638.47 1281.8 646.17 C1281.81 653.86 1281.8 661.56 1281.85 669.25 C1281.9 676.94 1281.95 684.64 1282.09 692.33 C1282.22 700.03 1282.39 707.72 1282.66 715.42 C1282.93 723.11 1283.26 730.81 1283.72 738.5 C1284.18 746.19 1284.71 753.89 1285.41 761.58 C1286.1 769.28 1286.9 776.97 1287.87 784.67 C1288.85 792.36 1289.96 800.06 1291.27 807.75 C1292.58 815.44 1294.04 823.14 1295.74 830.83 C1297.43 838.53 1299.31 846.22 1301.43 853.92 C1303.56 861.61 1307.32 873.15 1308.5 877" fill="none" stroke="#f4f4f4" stroke-width="3.56"/><path d="M1288.16 600 C1288.16 603.85 1288.16 615.39 1288.16 623.08 C1288.16 630.78 1288.16 638.47 1288.16 646.17 C1288.17 653.86 1288.17 661.56 1288.21 669.25 C1288.26 676.94 1288.31 684.64 1288.43 692.33 C1288.56 700.03 1288.71 707.72 1288.97 715.42 C1289.22 723.11 1289.53 730.81 1289.96 738.5 C1290.38 746.19 1290.89 753.89 1291.54 761.58 C1292.18 769.28 1292.93 776.97 1293.84 784.67 C1294.76 792.36 1295.79 800.06 1297.02 807.75 C1298.25 815.44 1299.62 823.14 1301.2 830.83 C1302.79 838.53 1304.54 846.22 1306.53 853.92 C1308.52 861.61 1312.04 873.15 1313.14 877" fill="none" stroke="#0c0c0c" stroke-width="4.12"/><path d="M1294.6 600 C1294.6 603.85 1294.6 615.39 1294.6 623.08 C1294.6 630.78 1294.59 638.47 1294.6 646.17 C1294.61 653.86 1294.6 661.56 1294.64 669.25 C1294.69 676.94 1294.74 684.64 1294.87 692.33 C1294.99 700.03 1295.15 707.72 1295.4 715.42 C1295.66 723.11 1295.96 730.81 1296.39 738.5 C1296.82 746.19 1297.32 753.89 1297.97 761.58 C1298.62 769.28 1299.36 776.97 1300.28 784.67 C1301.19 792.36 1302.23 800.06 1303.45 807.75 C1304.68 815.44 1306.05 823.14 1307.64 830.83 C1309.22 838.53 1310.97 846.22 1312.96 853.92 C1314.95 861.61 1318.47 873.15 1319.57 877" fill="none" stroke="#f4f4f4" stroke-width="3.6"/><path d="M1301.03 600 C1301.03 603.85 1301.03 615.39 1301.03 623.08 C1301.03 630.78 1301.02 638.47 1301.03 646.17 C1301.04 653.86 1301.03 661.56 1301.07 669.25 C1301.12 676.94 1301.16 684.64 1301.28 692.33 C1301.4 700.03 1301.54 707.72 1301.78 715.42 C1302.02 723.11 1302.3 730.81 1302.7 738.5 C1303.1 746.19 1303.57 753.89 1304.17 761.58 C1304.77 769.28 1305.47 776.97 1306.32 784.67 C1307.17 792.36 1308.13 800.06 1309.27 807.75 C1310.41 815.44 1311.69 823.14 1313.16 830.83 C1314.64 838.53 1316.27 846.22 1318.12 853.92 C1319.97 861.61 1323.24 873.15 1324.27 877" fill="none" stroke="#0c0c0c" stroke-width="4.16"/><path d="M1307.53 600 C1307.53 603.85 1307.53 615.39 1307.53 623.08 C1307.53 630.78 1307.52 638.47 1307.53 646.17 C1307.54 653.86 1307.53 661.56 1307.57 669.25 C1307.62 676.94 1307.66 684.64 1307.78 692.33 C1307.9 700.03 1308.04 707.72 1308.28 715.42 C1308.52 723.11 1308.8 730.81 1309.2 738.5 C1309.6 746.19 1310.07 753.89 1310.67 761.58 C1311.27 769.28 1311.97 776.97 1312.82 784.67 C1313.67 792.36 1314.63 800.06 1315.77 807.75 C1316.91 815.44 1318.19 823.14 1319.66 830.83 C1321.14 838.53 1322.77 846.22 1324.62 853.92 C1326.47 861.61 1329.74 873.15 1330.77 877" fill="none" stroke="#f4f4f4" stroke-width="3.64"/><path d="M1314.03 600 C1314.03 603.85 1314.03 615.39 1314.03 623.08 C1314.03 630.78 1314.02 638.47 1314.03 646.17 C1314.04 653.86 1314.03 661.56 1314.07 669.25 C1314.11 676.94 1314.16 684.64 1314.27 692.33 C1314.38 700.03 1314.52 707.72 1314.74 715.42 C1314.96 723.11 1315.23 730.81 1315.61 738.5 C1315.99 746.19 1316.43 753.89 1317 761.58 C1317.58 769.28 1318.23 776.97 1319.04 784.67 C1319.85 792.36 1320.76 800.06 1321.84 807.75 C1322.92 815.44 1324.13 823.14 1325.53 830.83 C1326.93 838.53 1328.47 846.22 1330.23 853.92 C1331.98 861.61 1335.09 873.15 1336.06 877" fill="none" stroke="#0c0c0c" stroke-width="4.16"/><path d="M1320.53 600 C1320.53 603.85 1320.53 615.39 1320.53 623.08 C1320.53 630.78 1320.52 638.47 1320.53 646.17 C1320.54 653.86 1320.53 661.56 1320.57 669.25 C1320.61 676.94 1320.66 684.64 1320.77 692.33 C1320.88 700.03 1321.02 707.72 1321.24 715.42 C1321.46 723.11 1321.73 730.81 1322.11 738.5 C1322.49 746.19 1322.93 753.89 1323.5 761.58 C1324.08 769.28 1324.73 776.97 1325.54 784.67 C1326.35 792.36 1327.26 800.06 1328.34 807.75 C1329.42 815.44 1330.63 823.14 1332.03 830.83 C1333.43 838.53 1334.97 846.22 1336.73 853.92 C1338.48 861.61 1341.59 873.15 1342.56 877" fill="none" stroke="#f4f4f4" stroke-width="3.64"/><rect x="850" y="600" width="470" height="277" fill="url(#pfBlob)"/><rect x="850" y="600" width="470" height="277" fill="url(#gfFade)"/><rect x="850" y="876.9" width="470" height="230" fill="url(#pfL)"/><rect x="1230" y="876.9" width="81" height="100" fill="url(#gfDark)"/></g>
<path d="M1330 607 L1352 599 L1354 640 L1346 770 L1340 876.9 L1328 876.9 L1326 780 L1327 680 Z" fill="url(#pfR)" />
<path d="M1311 876.9 L1334 876.9 L1330 930 L1322 960 L1311 968 Z" fill="url(#pfR2)" />
<line x1="858.3" y1="876.9" x2="1357.5" y2="876.9" stroke="#e0218a" stroke-width="1.3" stroke-dasharray="5 3.5"/>
<line x1="1310.5" y1="594.7" x2="1310.5" y2="1094" stroke="#e0218a" stroke-width="1.3" stroke-dasharray="5 3.5"/>
<rect x="858.3" y="594.7" width="499.2" height="499.3" fill="none" stroke="#111" stroke-width="2.2" />
<line x1="852.3" y1="603.7" x2="858.3" y2="603.7" stroke="#111" stroke-width="2" />
<line x1="852.3" y1="672" x2="858.3" y2="672" stroke="#111" stroke-width="2" />
<line x1="852.3" y1="740.3" x2="858.3" y2="740.3" stroke="#111" stroke-width="2" />
<line x1="852.3" y1="808.6" x2="858.3" y2="808.6" stroke="#111" stroke-width="2" />
<line x1="852.3" y1="876.9" x2="858.3" y2="876.9" stroke="#111" stroke-width="2" />
<line x1="852.3" y1="945.2" x2="858.3" y2="945.2" stroke="#111" stroke-width="2" />
<line x1="852.3" y1="1013.5" x2="858.3" y2="1013.5" stroke="#111" stroke-width="2" />
<line x1="852.3" y1="1081.8" x2="858.3" y2="1081.8" stroke="#111" stroke-width="2" />
<line x1="945.8" y1="1094" x2="945.8" y2="1101" stroke="#111" stroke-width="2" />
<line x1="1066.8" y1="1094" x2="1066.8" y2="1101" stroke="#111" stroke-width="2" />
<line x1="1188.4" y1="1094" x2="1188.4" y2="1101" stroke="#111" stroke-width="2" />
<line x1="1310.5" y1="1094" x2="1310.5" y2="1101" stroke="#111" stroke-width="2" />
<rect x="1161.5" y="562.5" width="195" height="16.6" fill="url(#cbF)" stroke="#111" stroke-width="1.3" />
<line x1="1161.5" y1="562.5" x2="1161.5" y2="556.6" stroke="#111" stroke-width="1.2" />
<line x1="1259" y1="562.5" x2="1259" y2="556.6" stroke="#111" stroke-width="1.2" />
<line x1="1356.5" y1="562.5" x2="1356.5" y2="556.6" stroke="#111" stroke-width="1.2" />
<rect x="866.4" y="606.1" width="96.9" height="75.5" fill="#fff" stroke="#0da14b" stroke-width="2.8" />
<rect x="870.8" y="614.2" width="11.9" height="58.8" fill="#f5951d" />
<rect x="883" y="615.3" width="18.2" height="56.3" fill="#0a6db6" />
<rect x="903.2" y="615.3" width="23.4" height="56.3" fill="#ec1c24" />
<rect x="928.9" y="615.3" width="18.7" height="56.3" fill="#0a6db6" />
<rect x="947.8" y="614.2" width="11.2" height="58.8" fill="#f5951d" />
<path d="M901.2 631.3 L882.5 640.8 L901 648.8 L883.5 657.3" fill="none" stroke="#fff" stroke-width="2.2" stroke-linejoin="miter"/>
<path d="M883.5 657.3 Q886.72 653.64 889.59 649.23 L889.35 654.46 L893.61 657.51 Q888.37 657.03 883.5 657.3 Z" fill="#fff" />
<path d="M947.6 631.3 L928.5 640.8 L947.4 648.8 L929.8 657.3" fill="none" stroke="#fff" stroke-width="2.2" stroke-linejoin="miter"/>
<path d="M929.8 657.3 Q933.03 653.64 935.9 649.24 L935.65 654.47 L939.9 657.53 Q934.67 657.04 929.8 657.3 Z" fill="#fff" />
<rect x="1002" y="599" width="96.5" height="74.2" fill="#fff" stroke="#19ade6" stroke-width="2.8" />
<rect x="1005" y="606.9" width="11.8" height="58.6" fill="#f5951d" />
<rect x="1017" y="608" width="18.4" height="56.2" fill="#0a6db6" />
<rect x="1037.7" y="608" width="23.7" height="56.2" fill="#ec1c24" />
<rect x="1063.4" y="608" width="18.2" height="56.2" fill="#0a6db6" />
<rect x="1081.9" y="606.9" width="11.9" height="58.6" fill="#f5951d" />
<path d="M1061 623 L1037.8 632 L1061 639.5 L1038.5 647.5" fill="none" stroke="#fff" stroke-width="2.2" stroke-linejoin="miter"/>
<path d="M1038.5 647.5 Q1042.11 644.22 1045.44 640.15 L1044.62 645.32 L1048.52 648.82 Q1043.37 647.77 1038.5 647.5 Z" fill="#fff" />
<rect x="1191.2" y="1008.4" width="96" height="74.8" fill="#fff" stroke="#ec1c24" stroke-width="2.6" />
<rect x="1207.1" y="1018.9" width="64.8" height="55.3" fill="url(#gfBar)" />
<rect x="1195.4" y="1016.9" width="11.7" height="59.8" fill="#f5951d" />
<rect x="1271.9" y="1016.9" width="11.9" height="59.8" fill="#f5951d" />
<path d="M1271.5 1033.4 L1207.5 1042.5 L1271.5 1050 L1208.5 1059" fill="none" stroke="#fff" stroke-width="2.2" stroke-linejoin="miter"/>
<path d="M1208.5 1059 Q1212.69 1056.5 1216.76 1053.17 L1214.93 1058.08 L1218.06 1062.28 Q1213.22 1060.23 1208.5 1059 Z" fill="#fff" />
<path d="M911.6 686.7 C911.72 688.25 911.27 693.12 912.3 696 C913.33 698.88 915.02 702 917.8 704 C920.58 706 927.13 707.33 929 708" fill="none" stroke="#231f20" stroke-width="2.6" />
<path d="M941 710.5 Q932.32 711.37 923.17 713.7 L930.53 707.13 L928.37 697.51 Q934.45 704.73 941 710.5 Z" fill="#231f20" />
<path d="M1100.3 615 C1103.83 615.15 1114.28 614.87 1121.5 615.9 C1128.72 616.93 1137.72 618.68 1143.6 621.2 C1149.48 623.72 1154.6 629.37 1156.8 631" fill="none" stroke="#231f20" stroke-width="2.6" />
<path d="M1164.8 643.3 Q1158.45 637.32 1150.68 631.94 L1160.47 633.19 L1166.31 625.25 Q1164.85 634.57 1164.8 643.3 Z" fill="#231f20" />
<path d="M1184.7 1064.7 C1181.58 1064.5 1172.37 1065.62 1166 1063.5 C1159.63 1061.38 1150.92 1056.25 1146.5 1052 C1142.08 1047.75 1140.25 1042.17 1139.5 1038 C1138.75 1033.83 1141.58 1028.83 1142 1027" fill="none" stroke="#231f20" stroke-width="2.6" />
<path d="M1148.6 1017.4 Q1146.84 1025.39 1146.25 1034.24 L1142.42 1025.89 L1133.31 1024.83 Q1141.54 1021.54 1148.6 1017.4 Z" fill="#231f20" />
<path d="M951.2 713 C962.67 713.92 996.87 716.4 1020 718.5 C1043.13 720.6 1064.67 722.13 1090 725.6 C1115.33 729.07 1149.17 734.97 1172 739.3 C1194.83 743.63 1212 747.57 1227 751.6 C1242 755.63 1252.5 759.93 1262 763.5 C1271.5 767.07 1280.33 771.42 1284 773" fill="none" stroke="#0da14b" stroke-width="5.8" />
<path d="M1307.8 785.9 Q1290.79 780.04 1271.65 776.51 L1290.11 769.69 L1295.29 750.7 Q1300.48 769.46 1307.8 785.9 Z" fill="#0da14b" />
<path d="M1216.8 876.8 C1214.83 874.67 1209.23 870.7 1205 864 C1200.77 857.3 1195.5 848.02 1191.4 836.6 C1187.3 825.18 1183.13 809.2 1180.4 795.5 C1177.67 781.8 1176.6 768.1 1175 754.4 C1173.4 740.7 1171.8 725.37 1170.8 713.3 C1169.8 701.23 1169.3 687.22 1169 682" fill="none" stroke="#19ade6" stroke-width="5.5" />
<path d="M1167.4 653.9 Q1175.05 669.68 1185.85 685.36 L1168.18 679.89 L1150.87 686.41 Q1160.71 670.11 1167.4 653.9 Z" fill="#19ade6" />
<line x1="1159.8" y1="1006.9" x2="1333" y2="860.5" stroke="#ec1c24" stroke-width="6" />
<path d="M1355.2 841.5 Q1347.36 857 1341.44 874.77 L1335.36 858.3 L1320.12 849.58 Q1338.62 846.67 1355.2 841.5 Z" fill="#ec1c24" />
<rect x="1519.5" y="559.4" width="307.1" height="114" fill="none" stroke="#111" stroke-width="2.2" />
<line x1="1519.5" y1="566.4" x2="1525" y2="566.4" stroke="#111" stroke-width="2" />
<line x1="1826.6" y1="566.4" x2="1821.1" y2="566.4" stroke="#111" stroke-width="2" />
<line x1="1519.5" y1="589.5" x2="1525" y2="589.5" stroke="#111" stroke-width="2" />
<line x1="1826.6" y1="589.5" x2="1821.1" y2="589.5" stroke="#111" stroke-width="2" />
<line x1="1519.5" y1="612.4" x2="1525" y2="612.4" stroke="#111" stroke-width="2" />
<line x1="1826.6" y1="612.4" x2="1821.1" y2="612.4" stroke="#111" stroke-width="2" />
<line x1="1519.5" y1="635.8" x2="1525" y2="635.8" stroke="#111" stroke-width="2" />
<line x1="1826.6" y1="635.8" x2="1821.1" y2="635.8" stroke="#111" stroke-width="2" />
<line x1="1519.5" y1="658.6" x2="1525" y2="658.6" stroke="#111" stroke-width="2" />
<line x1="1826.6" y1="658.6" x2="1821.1" y2="658.6" stroke="#111" stroke-width="2" />
<line x1="1522.3" y1="559.4" x2="1522.3" y2="564.9" stroke="#111" stroke-width="2" />
<line x1="1522.3" y1="667.4" x2="1522.3" y2="662.4" stroke="#111" stroke-width="2" />
<line x1="1597.3" y1="559.4" x2="1597.3" y2="564.9" stroke="#111" stroke-width="2" />
<line x1="1597.3" y1="667.4" x2="1597.3" y2="662.4" stroke="#111" stroke-width="2" />
<line x1="1673.4" y1="559.4" x2="1673.4" y2="564.9" stroke="#111" stroke-width="2" />
<line x1="1673.4" y1="667.4" x2="1673.4" y2="662.4" stroke="#111" stroke-width="2" />
<line x1="1748.4" y1="559.4" x2="1748.4" y2="564.9" stroke="#111" stroke-width="2" />
<line x1="1748.4" y1="667.4" x2="1748.4" y2="662.4" stroke="#111" stroke-width="2" />
<line x1="1823.8" y1="559.4" x2="1823.8" y2="564.9" stroke="#111" stroke-width="2" />
<line x1="1823.8" y1="667.4" x2="1823.8" y2="662.4" stroke="#111" stroke-width="2" />
<path d="M1523.5 606 C1527.08 606.42 1538.68 607.73 1545 608.5 C1551.32 609.27 1554.57 609.82 1561.4 610.6 C1568.23 611.38 1576.6 611.67 1586 613.2 C1595.4 614.73 1609.42 618.18 1617.8 619.8 C1626.18 621.42 1631.5 621.37 1636.3 622.9 C1641.1 624.43 1643.37 626.52 1646.6 629 C1649.83 631.48 1653.38 634.63 1655.7 637.8 C1658.02 640.97 1659.2 644.3 1660.5 648 C1661.8 651.7 1662.7 656.25 1663.5 660 C1664.3 663.75 1664.72 670.5 1665.3 670.5 C1665.88 670.5 1666.3 664.92 1667 660 C1667.7 655.08 1668.5 646.83 1669.5 641 C1670.5 635.17 1671.58 630.17 1673 625 C1674.42 619.83 1676 614.63 1678 610 C1680 605.37 1683.83 599.33 1685 597.2" fill="none" stroke="#111" stroke-width="2.35" />
<path d="M1726.8 571.8 C1732.33 570.83 1748.63 567.6 1760 566 C1771.37 564.4 1783.9 563.15 1795 562.2 C1806.1 561.25 1821.33 560.62 1826.6 560.3" fill="none" stroke="#111" stroke-width="2" />
<rect x="1544.4" y="569" width="73.6" height="25.2" fill="#fff" stroke="#111" stroke-width="2" />
<path d="M1544.92 572.08 C1545.6 572.34 1547.66 572.77 1549.03 573.62 C1550.4 574.48 1551.85 576.36 1553.13 577.22 C1554.42 578.07 1555.53 579.53 1556.73 578.76 C1557.93 577.99 1559.3 573.88 1560.32 572.59 C1561.35 571.31 1561.69 570.54 1562.89 571.05 C1564.09 571.57 1566.06 574.05 1567.51 575.68 C1568.97 577.3 1570.42 579.61 1571.62 580.81 C1572.82 582.01 1573.67 583.38 1574.7 582.86 C1575.73 582.35 1576.76 579.18 1577.78 577.73 C1578.81 576.27 1579.67 574.05 1580.86 574.13 C1582.06 574.22 1583.6 576.7 1584.97 578.24 C1586.34 579.78 1587.88 582.35 1589.08 583.38 C1590.28 584.4 1590.96 584.66 1592.16 584.4 C1593.36 584.15 1594.9 582.61 1596.27 581.84 C1597.64 581.07 1599.35 579.78 1600.38 579.78 C1601.4 579.78 1601.58 580.64 1602.43 581.84 C1603.29 583.04 1604.31 585.43 1605.51 586.97 C1606.71 588.51 1608.25 591.17 1609.62 591.08 C1610.99 590.99 1612.44 587.74 1613.73 586.46 C1615.01 585.18 1616.72 583.89 1617.32 583.38" fill="none" stroke="#111" stroke-width="1.6" />
<rect x="1566.3" y="607.5" width="14.8" height="6.7" fill="none" stroke="#111" stroke-width="1.8" />
<line x1="1546" y1="594.2" x2="1566" y2="612.6" stroke="#111" stroke-width="1.6" />
<line x1="1616.3" y1="594.2" x2="1582.5" y2="612.6" stroke="#111" stroke-width="1.6" />
<line x1="1519.5" y1="673.4" x2="1810" y2="673.4" stroke="#ec1c24" stroke-width="4.8" />
<path d="M1827.5 673.4 Q1817 677.29 1806.5 682.9 L1810.5 673.4 L1806.5 663.9 Q1817 669.5 1827.5 673.4 Z" fill="#ec1c24" />
<rect x="1516" y="754" width="306" height="113" fill="none" stroke="#111" stroke-width="2.2" />
<line x1="1516" y1="762.9" x2="1521.5" y2="762.9" stroke="#111" stroke-width="2" />
<line x1="1822" y1="762.9" x2="1816.5" y2="762.9" stroke="#111" stroke-width="2" />
<line x1="1516" y1="778.3" x2="1521.5" y2="778.3" stroke="#111" stroke-width="2" />
<line x1="1822" y1="778.3" x2="1816.5" y2="778.3" stroke="#111" stroke-width="2" />
<line x1="1516" y1="793.9" x2="1521.5" y2="793.9" stroke="#111" stroke-width="2" />
<line x1="1822" y1="793.9" x2="1816.5" y2="793.9" stroke="#111" stroke-width="2" />
<line x1="1516" y1="809.3" x2="1521.5" y2="809.3" stroke="#111" stroke-width="2" />
<line x1="1822" y1="809.3" x2="1816.5" y2="809.3" stroke="#111" stroke-width="2" />
<line x1="1516" y1="825.1" x2="1521.5" y2="825.1" stroke="#111" stroke-width="2" />
<line x1="1822" y1="825.1" x2="1816.5" y2="825.1" stroke="#111" stroke-width="2" />
<line x1="1516" y1="840.5" x2="1521.5" y2="840.5" stroke="#111" stroke-width="2" />
<line x1="1822" y1="840.5" x2="1816.5" y2="840.5" stroke="#111" stroke-width="2" />
<line x1="1516" y1="855.6" x2="1521.5" y2="855.6" stroke="#111" stroke-width="2" />
<line x1="1822" y1="855.6" x2="1816.5" y2="855.6" stroke="#111" stroke-width="2" />
<line x1="1569.3" y1="754" x2="1569.3" y2="759.5" stroke="#111" stroke-width="2" />
<line x1="1569.3" y1="861" x2="1569.3" y2="856" stroke="#111" stroke-width="2" />
<line x1="1632.8" y1="754" x2="1632.8" y2="759.5" stroke="#111" stroke-width="2" />
<line x1="1632.8" y1="861" x2="1632.8" y2="856" stroke="#111" stroke-width="2" />
<line x1="1697.6" y1="754" x2="1697.6" y2="759.5" stroke="#111" stroke-width="2" />
<line x1="1697.6" y1="861" x2="1697.6" y2="856" stroke="#111" stroke-width="2" />
<line x1="1762.4" y1="754" x2="1762.4" y2="759.5" stroke="#111" stroke-width="2" />
<line x1="1762.4" y1="861" x2="1762.4" y2="856" stroke="#111" stroke-width="2" />
<path d="M1518.4 754.7 C1521.15 755.32 1531.38 757.02 1534.9 758.4 C1538.42 759.78 1537.05 759.78 1539.5 763 C1541.95 766.22 1546.07 772.65 1549.6 777.7 C1553.13 782.75 1558.25 790.08 1560.7 793.3 C1563.15 796.52 1561.85 794.88 1564.3 797 C1566.75 799.12 1572.87 804.4 1575.4 806 C1577.93 807.6 1578.13 806.6 1579.5 806.6 C1580.87 806.6 1582.15 806.98 1583.6 806 C1585.05 805.02 1585.58 804.03 1588.2 800.7 C1590.82 797.37 1595.62 790.42 1599.3 786 C1602.98 781.58 1607.7 776.12 1610.3 774.2 C1612.9 772.28 1612.15 772.85 1614.9 774.5 C1617.65 776.15 1623.43 780.05 1626.8 784.1 C1630.17 788.15 1631.73 793.28 1635.1 798.8 C1638.47 804.32 1643.63 812.67 1647 817.2 C1650.37 821.73 1653.38 824.43 1655.3 826 C1657.22 827.57 1657.42 826.6 1658.5 826.6 C1659.58 826.6 1660.03 826.95 1661.8 826 C1663.57 825.05 1665.73 824.82 1669.1 820.9 C1672.47 816.98 1677.87 807.25 1682 802.5 C1686.13 797.75 1691.6 794.05 1693.9 792.4 C1696.2 790.75 1692.88 790 1695.8 792.6 C1698.72 795.2 1706.65 802.67 1711.4 808 C1716.15 813.33 1720.62 819.7 1724.3 824.6 C1727.98 829.5 1731.05 834.23 1733.5 837.4 C1735.95 840.57 1737.33 842.47 1739 843.6 C1740.67 844.73 1742 844.2 1743.5 844.2 C1745 844.2 1746 845.03 1748 843.6 C1750 842.17 1753.33 837.87 1755.5 835.6 C1757.67 833.33 1758.55 831.57 1761 830 C1763.45 828.43 1767.75 826.77 1770.2 826.2 C1772.65 825.63 1773.25 824.73 1775.7 826.6 C1778.15 828.47 1782.45 834.22 1784.9 837.4 C1787.35 840.58 1787.33 841.72 1790.4 845.7 C1793.47 849.68 1800.53 858.25 1803.3 861.3 C1806.07 864.35 1806.38 863.55 1807 864" fill="none" stroke="#111" stroke-width="2.35" />
<line x1="1516" y1="867.2" x2="1805" y2="867.2" stroke="#0da14b" stroke-width="5.2" />
<path d="M1824 867 Q1813 871.51 1802 878 L1806.5 867 L1802 856 Q1813 862.49 1824 867 Z" fill="#0da14b" />
<rect x="1516" y="952.9" width="306.6" height="113.5" fill="none" stroke="#111" stroke-width="2.2" />
<line x1="1516" y1="977.5" x2="1521.5" y2="977.5" stroke="#111" stroke-width="2" />
<line x1="1822.6" y1="977.5" x2="1817.1" y2="977.5" stroke="#111" stroke-width="2" />
<line x1="1516" y1="1009.5" x2="1521.5" y2="1009.5" stroke="#111" stroke-width="2" />
<line x1="1822.6" y1="1009.5" x2="1817.1" y2="1009.5" stroke="#111" stroke-width="2" />
<line x1="1516" y1="1041.8" x2="1521.5" y2="1041.8" stroke="#111" stroke-width="2" />
<line x1="1822.6" y1="1041.8" x2="1817.1" y2="1041.8" stroke="#111" stroke-width="2" />
<line x1="1516" y1="961.5" x2="1521.5" y2="961.5" stroke="#111" stroke-width="2" />
<line x1="1822.6" y1="961.5" x2="1817.1" y2="961.5" stroke="#111" stroke-width="2" />
<line x1="1516" y1="993.5" x2="1521.5" y2="993.5" stroke="#111" stroke-width="2" />
<line x1="1822.6" y1="993.5" x2="1817.1" y2="993.5" stroke="#111" stroke-width="2" />
<line x1="1516" y1="1025.6" x2="1521.5" y2="1025.6" stroke="#111" stroke-width="2" />
<line x1="1822.6" y1="1025.6" x2="1817.1" y2="1025.6" stroke="#111" stroke-width="2" />
<line x1="1516" y1="1057.9" x2="1521.5" y2="1057.9" stroke="#111" stroke-width="2" />
<line x1="1822.6" y1="1057.9" x2="1817.1" y2="1057.9" stroke="#111" stroke-width="2" />
<line x1="1547.7" y1="952.9" x2="1547.7" y2="958.4" stroke="#111" stroke-width="2" />
<line x1="1547.7" y1="1060.4" x2="1547.7" y2="1055.4" stroke="#111" stroke-width="2" />
<line x1="1608.7" y1="952.9" x2="1608.7" y2="958.4" stroke="#111" stroke-width="2" />
<line x1="1608.7" y1="1060.4" x2="1608.7" y2="1055.4" stroke="#111" stroke-width="2" />
<line x1="1669.6" y1="952.9" x2="1669.6" y2="958.4" stroke="#111" stroke-width="2" />
<line x1="1669.6" y1="1060.4" x2="1669.6" y2="1055.4" stroke="#111" stroke-width="2" />
<line x1="1730.6" y1="952.9" x2="1730.6" y2="958.4" stroke="#111" stroke-width="2" />
<line x1="1730.6" y1="1060.4" x2="1730.6" y2="1055.4" stroke="#111" stroke-width="2" />
<line x1="1791.6" y1="952.9" x2="1791.6" y2="958.4" stroke="#111" stroke-width="2" />
<line x1="1791.6" y1="1060.4" x2="1791.6" y2="1055.4" stroke="#111" stroke-width="2" />
<path d="M1517.2 1010 C1517.83 1007.83 1519.3 1001.23 1521 997 C1522.7 992.77 1524.87 984.33 1527.4 984.6 C1529.93 984.87 1532.93 991.03 1536.2 998.6 C1539.47 1006.17 1543.4 1019.5 1547 1030 C1550.6 1040.5 1554.08 1060.07 1557.8 1061.6 C1561.52 1063.13 1566.27 1047.47 1569.3 1039.2 C1572.33 1030.93 1573.92 1021.12 1576 1012 C1578.08 1002.88 1580.22 989.37 1581.8 984.5 C1583.38 979.63 1584.28 983 1585.5 982.8 C1586.72 982.6 1588.03 983.6 1589.1 983.3 C1590.17 983 1590.92 980.72 1591.9 981 C1592.88 981.28 1593.05 977.42 1595 985 C1596.95 992.58 1600.9 1017.67 1603.6 1026.5 C1606.3 1035.33 1608.03 1032.15 1611.2 1038 C1614.37 1043.85 1618.8 1060.77 1622.6 1061.6 C1626.4 1062.43 1630.43 1052.43 1634 1043 C1637.57 1033.57 1640.82 1015.78 1644 1005 C1647.18 994.22 1650.1 981.07 1653.1 978.3 C1656.1 975.53 1658.82 979.52 1662 988.4 C1665.18 997.28 1668.18 1019.4 1672.2 1031.6 C1676.22 1043.8 1682.08 1057.78 1686.1 1061.6 C1690.12 1065.42 1692.27 1065.63 1696.3 1054.5 C1700.33 1043.37 1705.43 1007.93 1710.3 994.8 C1715.17 981.67 1721.9 976.77 1725.5 975.7 C1729.1 974.63 1729.15 979.35 1731.9 988.4 C1734.65 997.45 1738.82 1017.72 1742 1030 C1745.18 1042.28 1748.67 1058.02 1751 1062.1 C1753.33 1066.18 1754.33 1055.77 1756 1054.5 C1757.67 1053.23 1757.62 1060.85 1761 1054.5 C1764.38 1048.15 1771.2 1030.58 1776.3 1016.4 C1781.4 1002.22 1787.78 975.55 1791.6 969.4 C1795.42 963.25 1796.23 969.98 1799.2 979.5 C1802.17 989.02 1805.6 1013.58 1809.4 1026.5 C1813.2 1039.42 1819.9 1051.92 1822 1057" fill="none" stroke="#111" stroke-width="2.35" />
<line x1="1516" y1="1066.4" x2="1805" y2="1066.4" stroke="#19ade6" stroke-width="5" />
<path d="M1824 1066.4 Q1813 1070.91 1802 1077.4 L1806.5 1066.4 L1802 1055.4 Q1813 1061.89 1824 1066.4 Z" fill="#19ade6" />
<text x="-2.93" y="34.99" font-size="38.61" textLength="47.55" lengthAdjust="spacingAndGlyphs">(a)</text>
<text x="-2.91" y="606.23" font-size="37.43" textLength="47.11" lengthAdjust="spacingAndGlyphs">(b)</text>
<text x="-2.93" y="840.13" font-size="37.43" textLength="45.41" lengthAdjust="spacingAndGlyphs">(c)</text>
<text x="747.79" y="34.93" font-size="38.39" textLength="47.22" lengthAdjust="spacingAndGlyphs">(d)</text>
<text x="1334.19" y="34.93" font-size="38.39" textLength="47.22" lengthAdjust="spacingAndGlyphs">(e)</text>
<text x="747.75" y="571.29" font-size="37.64" textLength="36.95" lengthAdjust="spacingAndGlyphs">(f)</text>
<text x="1391.2" y="571.29" font-size="37.64" textLength="46.99" lengthAdjust="spacingAndGlyphs">(g)</text>
<text x="192.46" y="42.11" font-size="31.74" textLength="312.24" lengthAdjust="spacingAndGlyphs">Fabry-Perot schematics</text>
<text x="277.04" y="78.54" font-size="26.29" fill="#2b2b2b" textLength="61.31" lengthAdjust="spacingAndGlyphs">0&lt;t&lt;1</text>
<text x="414.93" y="78.54" font-size="26.29" fill="#2b2b2b" textLength="61.83" lengthAdjust="spacingAndGlyphs">0&lt;t&lt;1</text>
<text x="525.49" y="127" font-size="27.05" textLength="22.84" lengthAdjust="spacingAndGlyphs">Ψ</text>
<text x="547.09" y="135.8" font-size="15.42" textLength="7.46" lengthAdjust="spacingAndGlyphs">1</text>
<text x="525.49" y="177.8" font-size="27.05" textLength="22.84" lengthAdjust="spacingAndGlyphs">Ψ</text>
<text x="546.91" y="185.7" font-size="14.62" textLength="8.8" lengthAdjust="spacingAndGlyphs">2</text>
<text x="230.22" y="258.1" font-size="24.54" font-family="'Liberation Serif', 'DejaVu Serif', serif" fill="#333" textLength="13.72" lengthAdjust="spacingAndGlyphs">λ</text>
<text x="374.01" y="304.8" font-size="26.18" textLength="14.79" lengthAdjust="spacingAndGlyphs">L</text>
<text x="211.1" y="344.27" font-size="21.34" textLength="84.64" lengthAdjust="spacingAndGlyphs">p-doped</text>
<text x="473.7" y="344.17" font-size="21.34" textLength="84.64" lengthAdjust="spacingAndGlyphs">p-doped</text>
<text x="342.13" y="388.82" font-size="22.09" textLength="85.12" lengthAdjust="spacingAndGlyphs">n-doped</text>
<text x="132.5" y="377.6" font-size="23.56" textLength="15.37" lengthAdjust="spacingAndGlyphs">E</text>
<text x="617.18" y="417.95" font-size="23.38" textLength="42.68" lengthAdjust="spacingAndGlyphs">V(x)</text>
<text x="571.74" y="448" font-size="24.15" textLength="15" lengthAdjust="spacingAndGlyphs">E</text>
<text x="586.67" y="455.6" font-size="13.96" textLength="8.4" lengthAdjust="spacingAndGlyphs">F</text>
<text x="600.22" y="560" font-size="20.85" textLength="11.05" lengthAdjust="spacingAndGlyphs">x</text>
<text x="239.69" y="537.7" font-size="28.84" textLength="16.59" lengthAdjust="spacingAndGlyphs">n</text>
<text x="255.58" y="547.32" font-size="17.86" textLength="23.65" lengthAdjust="spacingAndGlyphs">out</text>
<text x="373.49" y="537.7" font-size="28.84" textLength="16.59" lengthAdjust="spacingAndGlyphs">n</text>
<text x="389.28" y="547.5" font-size="16.55" textLength="14.12" lengthAdjust="spacingAndGlyphs">in</text>
<text x="505.49" y="537.7" font-size="28.84" textLength="16.59" lengthAdjust="spacingAndGlyphs">n</text>
<text x="521.38" y="547.32" font-size="17.86" textLength="23.65" lengthAdjust="spacingAndGlyphs">out</text>
<text x="360.94" y="612.7" font-size="29.54" textLength="40.91" lengthAdjust="spacingAndGlyphs">TG</text>
<text x="313.07" y="773.54" font-size="27.77" textLength="127.59" lengthAdjust="spacingAndGlyphs">global BG</text>
<text x="88.42" y="838.15" font-size="25.44" textLength="26.45" lengthAdjust="spacingAndGlyphs">16</text>
<text x="88.74" y="945.5" font-size="25.09" textLength="26.09" lengthAdjust="spacingAndGlyphs">12</text>
<text x="101.27" y="1061.66" font-size="24.03" textLength="13.49" lengthAdjust="spacingAndGlyphs">8</text>
<text x="119.58" y="1080.74" font-size="25.72" textLength="14.21" lengthAdjust="spacingAndGlyphs">0</text>
<text x="217.3" y="1083.5" font-size="26.62" textLength="8.87" lengthAdjust="spacingAndGlyphs">1</text>
<text x="313.19" y="1084.2" font-size="25.52" textLength="14.55" lengthAdjust="spacingAndGlyphs">2</text>
<text x="409.81" y="1084.15" font-size="25.44" textLength="13.23" lengthAdjust="spacingAndGlyphs">3</text>
<text x="77.69" y="982.12" font-size="24.13" textLength="43.63" lengthAdjust="spacingAndGlyphs" transform="rotate(-90 77.69 982.12)">G (e</text>
<text x="69.9" y="937.08" font-size="15.2" textLength="7.58" lengthAdjust="spacingAndGlyphs" transform="rotate(-90 69.9 937.08)">2</text>
<text x="77.58" y="928.9" font-size="24.66" textLength="32.21" lengthAdjust="spacingAndGlyphs" transform="rotate(-90 77.58 928.9)">/h)</text>
<text x="244.51" y="1112.3" font-size="26.23" textLength="15.53" lengthAdjust="spacingAndGlyphs">n</text>
<text x="259.54" y="1121.2" font-size="14.48" textLength="13.4" lengthAdjust="spacingAndGlyphs">in</text>
<text x="284.24" y="1110.58" font-size="23.7" textLength="36" lengthAdjust="spacingAndGlyphs">(10</text>
<text x="320.98" y="1103.45" font-size="15.27" textLength="15.13" lengthAdjust="spacingAndGlyphs">16</text>
<text x="341.72" y="1112.3" font-size="25.12" textLength="23.21" lengthAdjust="spacingAndGlyphs">m</text>
<text x="364.02" y="1102.6" font-size="14.05" textLength="13.35" lengthAdjust="spacingAndGlyphs">-2</text>
<text x="378.03" y="1110.58" font-size="23.7" textLength="7.61" lengthAdjust="spacingAndGlyphs">)</text>
<text x="637.27" y="945.43" font-size="25.43" font-family="'DejaVu Serif', serif" fill="#2b2b2b" textLength="9.22" lengthAdjust="spacingAndGlyphs">⟨</text>
<text x="643.87" y="944.24" font-size="26.02" font-family="'Liberation Serif', 'DejaVu Serif', serif" font-style="italic" fill="#2b2b2b" textLength="21.39" lengthAdjust="spacingAndGlyphs">G</text>
<text x="663.81" y="945.43" font-size="25.43" font-family="'DejaVu Serif', serif" fill="#2b2b2b" textLength="9.22" lengthAdjust="spacingAndGlyphs">⟩</text>
<text x="709" y="955.45" font-size="25.61" font-family="'Liberation Serif', 'DejaVu Serif', serif" fill="#2b2b2b" textLength="18.02" lengthAdjust="spacingAndGlyphs" transform="rotate(-90 709 955.45)">Δ</text>
<text x="708.75" y="937.06" font-size="25.13" font-family="'Liberation Serif', 'DejaVu Serif', serif" font-style="italic" fill="#2b2b2b" textLength="17.8" lengthAdjust="spacingAndGlyphs" transform="rotate(-90 708.75 937.06)">G</text>
<text x="896.93" y="36.9" font-size="30.07" textLength="61.51" lengthAdjust="spacingAndGlyphs">d/dV</text>
<text x="957.78" y="45.73" font-size="16.68" textLength="21.43" lengthAdjust="spacingAndGlyphs">BG</text>
<text x="984.71" y="34.3" font-size="26.49" textLength="43.04" lengthAdjust="spacingAndGlyphs">G(e</text>
<text x="1027.25" y="25.4" font-size="15.48" textLength="9.41" lengthAdjust="spacingAndGlyphs">2</text>
<text x="1036.3" y="34.3" font-size="26.49" textLength="35.8" lengthAdjust="spacingAndGlyphs">/h)</text>
<text x="1414.03" y="36.9" font-size="30.07" textLength="61.51" lengthAdjust="spacingAndGlyphs">d/dV</text>
<text x="1474.88" y="45.24" font-size="15.97" textLength="21.43" lengthAdjust="spacingAndGlyphs">BG</text>
<text x="1501.81" y="34.3" font-size="26.49" textLength="43.04" lengthAdjust="spacingAndGlyphs">G(e</text>
<text x="1544.35" y="25.4" font-size="15.48" textLength="9.41" lengthAdjust="spacingAndGlyphs">2</text>
<text x="1553.4" y="34.3" font-size="26.49" textLength="35.8" lengthAdjust="spacingAndGlyphs">/h)</text>
<text x="1120.56" y="33.1" font-size="30.69" textLength="26.51" lengthAdjust="spacingAndGlyphs">-4</text>
<text x="1203.92" y="33.29" font-size="30.53" textLength="16.42" lengthAdjust="spacingAndGlyphs">0</text>
<text x="1279.07" y="33.1" font-size="30.69" textLength="15.53" lengthAdjust="spacingAndGlyphs">4</text>
<text x="1611.46" y="33.1" font-size="29.68" textLength="43.07" lengthAdjust="spacingAndGlyphs">-20</text>
<text x="1718.41" y="33.1" font-size="29.68" textLength="16.54" lengthAdjust="spacingAndGlyphs">0</text>
<text x="1809.98" y="33.1" font-size="29.68" textLength="33.83" lengthAdjust="spacingAndGlyphs">20</text>
<text x="875.89" y="76.3" font-size="26.76" textLength="14.98" lengthAdjust="spacingAndGlyphs">4</text>
<text x="876.23" y="176.3" font-size="26.38" textLength="15.28" lengthAdjust="spacingAndGlyphs">2</text>
<text x="877.03" y="276.75" font-size="25.44" textLength="13.51" lengthAdjust="spacingAndGlyphs">0</text>
<text x="871.58" y="373.3" font-size="25.81" textLength="24.01" lengthAdjust="spacingAndGlyphs">-2</text>
<text x="871.62" y="474.6" font-size="26.18" textLength="23.35" lengthAdjust="spacingAndGlyphs">-4</text>
<text x="1390.39" y="76.3" font-size="26.76" textLength="14.98" lengthAdjust="spacingAndGlyphs">4</text>
<text x="1390.73" y="176.3" font-size="26.38" textLength="15.28" lengthAdjust="spacingAndGlyphs">2</text>
<text x="1391.53" y="276.75" font-size="25.44" textLength="13.51" lengthAdjust="spacingAndGlyphs">0</text>
<text x="1386.08" y="373.3" font-size="25.81" textLength="24.01" lengthAdjust="spacingAndGlyphs">-2</text>
<text x="1386.12" y="474.6" font-size="26.18" textLength="23.35" lengthAdjust="spacingAndGlyphs">-4</text>
<text x="874.49" y="506.14" font-size="25.87" textLength="38.72" lengthAdjust="spacingAndGlyphs">-30</text>
<text x="980.29" y="506.14" font-size="26.24" textLength="38.79" lengthAdjust="spacingAndGlyphs">-15</text>
<text x="1095.33" y="506.14" font-size="25.87" textLength="14.91" lengthAdjust="spacingAndGlyphs">0</text>
<text x="1191.28" y="505.83" font-size="26.67" textLength="28.51" lengthAdjust="spacingAndGlyphs">15</text>
<text x="1287.41" y="505.84" font-size="26.29" textLength="29.34" lengthAdjust="spacingAndGlyphs">30</text>
<text x="1057.66" y="534.1" font-size="30.55" textLength="19.27" lengthAdjust="spacingAndGlyphs">V</text>
<text x="1075.86" y="543.33" font-size="17.1" textLength="26.93" lengthAdjust="spacingAndGlyphs">BG</text>
<text x="1109.87" y="534.07" font-size="30.03" textLength="41.18" lengthAdjust="spacingAndGlyphs">(V)</text>
<text x="1388.59" y="506.14" font-size="25.87" textLength="38.72" lengthAdjust="spacingAndGlyphs">-30</text>
<text x="1494.39" y="506.14" font-size="26.24" textLength="38.79" lengthAdjust="spacingAndGlyphs">-15</text>
<text x="1609.43" y="506.14" font-size="25.87" textLength="14.91" lengthAdjust="spacingAndGlyphs">0</text>
<text x="1705.38" y="505.83" font-size="26.67" textLength="28.51" lengthAdjust="spacingAndGlyphs">15</text>
<text x="1801.51" y="505.84" font-size="26.29" textLength="29.34" lengthAdjust="spacingAndGlyphs">30</text>
<text x="1571.76" y="534.1" font-size="30.55" textLength="19.27" lengthAdjust="spacingAndGlyphs">V</text>
<text x="1589.96" y="543.33" font-size="17.1" textLength="26.93" lengthAdjust="spacingAndGlyphs">BG</text>
<text x="1623.97" y="534.07" font-size="30.03" textLength="41.18" lengthAdjust="spacingAndGlyphs">(V)</text>
<text x="854.2" y="304.92" font-size="26.18" textLength="16.33" lengthAdjust="spacingAndGlyphs" transform="rotate(-90 854.2 304.92)">V</text>
<text x="863.24" y="287.12" font-size="15.83" textLength="19.92" lengthAdjust="spacingAndGlyphs" transform="rotate(-90 863.24 287.12)">TG</text>
<text x="854.59" y="260.29" font-size="26.06" textLength="35.99" lengthAdjust="spacingAndGlyphs" transform="rotate(-90 854.59 260.29)">(V)</text>
<text x="1368.2" y="304.92" font-size="26.18" textLength="16.33" lengthAdjust="spacingAndGlyphs" transform="rotate(-90 1368.2 304.92)">V</text>
<text x="1377.24" y="287.12" font-size="15.83" textLength="19.92" lengthAdjust="spacingAndGlyphs" transform="rotate(-90 1377.24 287.12)">TG</text>
<text x="1368.59" y="260.29" font-size="26.06" textLength="35.99" lengthAdjust="spacingAndGlyphs" transform="rotate(-90 1368.59 260.29)">(V)</text>
<text x="962.91" y="578.01" font-size="28.71" textLength="59" lengthAdjust="spacingAndGlyphs">d/dn</text>
<text x="1018.88" y="586.26" font-size="14.35" textLength="23.65" lengthAdjust="spacingAndGlyphs">out</text>
<text x="1047.5" y="576.93" font-size="26.71" textLength="20.27" lengthAdjust="spacingAndGlyphs">G</text>
<text x="1072.95" y="575.35" font-size="24.34" textLength="22.04" lengthAdjust="spacingAndGlyphs">(e</text>
<text x="1097.42" y="568" font-size="13.91" textLength="8.68" lengthAdjust="spacingAndGlyphs">2</text>
<text x="1106.4" y="575.24" font-size="24.88" textLength="34.22" lengthAdjust="spacingAndGlyphs">/h)</text>
<text x="826.7" y="610.7" font-size="26.76" textLength="14.87" lengthAdjust="spacingAndGlyphs">4</text>
<text x="826.83" y="680.63" font-size="27" textLength="14.4" lengthAdjust="spacingAndGlyphs">3</text>
<text x="826.45" y="749" font-size="26.52" textLength="15.03" lengthAdjust="spacingAndGlyphs">2</text>
<text x="828.35" y="817.3" font-size="26.18" textLength="9.26" lengthAdjust="spacingAndGlyphs">1</text>
<text x="826.71" y="885.64" font-size="25.58" textLength="15.14" lengthAdjust="spacingAndGlyphs">0</text>
<text x="817.78" y="954.5" font-size="26.18" textLength="20.13" lengthAdjust="spacingAndGlyphs">-1</text>
<text x="817.58" y="1022.9" font-size="26.52" textLength="24.01" lengthAdjust="spacingAndGlyphs">-2</text>
<text x="817.6" y="1090.75" font-size="24.88" textLength="23.79" lengthAdjust="spacingAndGlyphs">-3</text>
<text x="905.93" y="1128.02" font-size="27.96" textLength="44.62" lengthAdjust="spacingAndGlyphs">-1.5</text>
<text x="1043.44" y="1128.02" font-size="27.56" textLength="44.24" lengthAdjust="spacingAndGlyphs">-1.0</text>
<text x="1167.7" y="1128.02" font-size="27.56" textLength="34.91" lengthAdjust="spacingAndGlyphs">0.5</text>
<text x="1287.09" y="1128.02" font-size="27.56" textLength="35.27" lengthAdjust="spacingAndGlyphs">0.0</text>
<text x="803.7" y="904.36" font-size="29.77" textLength="17.77" lengthAdjust="spacingAndGlyphs" transform="rotate(-90 803.7 904.36)">n</text>
<text x="814" y="887.64" font-size="14.21" textLength="15.45" lengthAdjust="spacingAndGlyphs" transform="rotate(-90 814 887.64)">in</text>
<text x="801.77" y="865.05" font-size="28.1" textLength="42.77" lengthAdjust="spacingAndGlyphs" transform="rotate(-90 801.77 865.05)">(10</text>
<text x="792.34" y="821.52" font-size="15.69" textLength="19.61" lengthAdjust="spacingAndGlyphs" transform="rotate(-90 792.34 821.52)">16</text>
<text x="803.7" y="796.39" font-size="29.77" textLength="20.83" lengthAdjust="spacingAndGlyphs" transform="rotate(-90 803.7 796.39)">m</text>
<text x="792.5" y="776.73" font-size="15.91" textLength="22.33" lengthAdjust="spacingAndGlyphs" transform="rotate(-90 792.5 776.73)">-2</text>
<text x="801.77" y="753.48" font-size="28.1" textLength="7.99" lengthAdjust="spacingAndGlyphs" transform="rotate(-90 801.77 753.48)">)</text>
<text x="974.08" y="1081.8" font-size="30.51" textLength="18.3" lengthAdjust="spacingAndGlyphs">n</text>
<text x="991.87" y="1092.16" font-size="14.35" textLength="27.18" lengthAdjust="spacingAndGlyphs">out</text>
<text x="1026.36" y="1079.7" font-size="27.45" textLength="42.45" lengthAdjust="spacingAndGlyphs">(10</text>
<text x="1070.64" y="1070.93" font-size="16.82" textLength="17.26" lengthAdjust="spacingAndGlyphs">16</text>
<text x="1094.33" y="1081.8" font-size="29.58" textLength="26.78" lengthAdjust="spacingAndGlyphs">m</text>
<text x="1120.28" y="1071.1" font-size="16.2" textLength="16.16" lengthAdjust="spacingAndGlyphs">-2</text>
<text x="1137.31" y="1079.7" font-size="27.45" textLength="8.5" lengthAdjust="spacingAndGlyphs">)</text>
<text x="1483.2" y="577.55" font-size="24.73" textLength="27.8" lengthAdjust="spacingAndGlyphs">50</text>
<text x="1483.27" y="622.66" font-size="24.31" textLength="27.73" lengthAdjust="spacingAndGlyphs">30</text>
<text x="1483.44" y="666.86" font-size="24.31" textLength="27.54" lengthAdjust="spacingAndGlyphs">10</text>
<text x="1503.31" y="698.97" font-size="23.46" textLength="38.08" lengthAdjust="spacingAndGlyphs">-30</text>
<text x="1577.04" y="698.96" font-size="23.8" textLength="37.2" lengthAdjust="spacingAndGlyphs">-15</text>
<text x="1663.79" y="698.97" font-size="23.46" textLength="15.37" lengthAdjust="spacingAndGlyphs">0</text>
<text x="1730.55" y="698.96" font-size="23.8" textLength="27.5" lengthAdjust="spacingAndGlyphs">15</text>
<text x="1804.34" y="698.97" font-size="23.46" textLength="28.37" lengthAdjust="spacingAndGlyphs">30</text>
<text x="1629.19" y="724.6" font-size="28.07" textLength="14.41" lengthAdjust="spacingAndGlyphs">V</text>
<text x="1646.15" y="732.55" font-size="14.7" textLength="20.2" lengthAdjust="spacingAndGlyphs">BG</text>
<text x="1672.33" y="722.95" font-size="24.34" textLength="31.35" lengthAdjust="spacingAndGlyphs">(V)</text>
<text x="1481.8" y="774.3" font-size="25.52" textLength="26.65" lengthAdjust="spacingAndGlyphs">22</text>
<text x="1481.98" y="804.7" font-size="25.52" textLength="22.74" lengthAdjust="spacingAndGlyphs">21</text>
<text x="1481.82" y="834.26" font-size="24.31" textLength="26.33" lengthAdjust="spacingAndGlyphs">20</text>
<text x="1482.46" y="864.76" font-size="24.45" textLength="25.84" lengthAdjust="spacingAndGlyphs">19</text>
<text x="1548.01" y="895" font-size="24.8" textLength="35.12" lengthAdjust="spacingAndGlyphs">-12</text>
<text x="1615.54" y="895" font-size="25.16" textLength="32.41" lengthAdjust="spacingAndGlyphs">-11</text>
<text x="1682.31" y="894.76" font-size="24.45" textLength="35.01" lengthAdjust="spacingAndGlyphs">-10</text>
<text x="1755.95" y="894.76" font-size="24.45" textLength="22.75" lengthAdjust="spacingAndGlyphs">-9</text>
<text x="1617.89" y="921.3" font-size="26.62" textLength="14.3" lengthAdjust="spacingAndGlyphs">V</text>
<text x="1635.11" y="930.25" font-size="14.84" textLength="53.1" lengthAdjust="spacingAndGlyphs">BG corr.</text>
<text x="1694.55" y="919.79" font-size="24.13" textLength="31.02" lengthAdjust="spacingAndGlyphs">(V)</text>
<text x="1481.91" y="985.55" font-size="24.8" textLength="25.04" lengthAdjust="spacingAndGlyphs">15</text>
<text x="1481.24" y="1019" font-size="24.15" textLength="26.06" lengthAdjust="spacingAndGlyphs">14</text>
<text x="1481.26" y="1048.06" font-size="24.31" textLength="25.78" lengthAdjust="spacingAndGlyphs">13</text>
<text x="1526.81" y="1095.65" font-size="24.59" textLength="33" lengthAdjust="spacingAndGlyphs">2.6</text>
<text x="1648.74" y="1095.65" font-size="24.59" textLength="31.72" lengthAdjust="spacingAndGlyphs">3.0</text>
<text x="1769.55" y="1095.65" font-size="24.59" textLength="31.48" lengthAdjust="spacingAndGlyphs">3.4</text>
<text x="1629.19" y="1123.1" font-size="27.05" textLength="14.81" lengthAdjust="spacingAndGlyphs">V</text>
<text x="1647.72" y="1131.06" font-size="13.71" textLength="17.44" lengthAdjust="spacingAndGlyphs">TG</text>
<text x="1674.87" y="1121.35" font-size="24.34" textLength="30.47" lengthAdjust="spacingAndGlyphs">(V)</text>
<text x="1467.67" y="662.12" font-size="27.13" textLength="51.3" lengthAdjust="spacingAndGlyphs" transform="rotate(-90 1467.67 662.12)">G (e</text>
<text x="1458.4" y="611.19" font-size="16.06" textLength="9.9" lengthAdjust="spacingAndGlyphs" transform="rotate(-90 1458.4 611.19)">2</text>
<text x="1467.67" y="855.89" font-size="27.13" textLength="50.04" lengthAdjust="spacingAndGlyphs" transform="rotate(-90 1467.67 855.89)">G (e</text>
<text x="1458.4" y="804.38" font-size="16.06" textLength="9.78" lengthAdjust="spacingAndGlyphs" transform="rotate(-90 1458.4 804.38)">2</text>
<text x="1467.67" y="1053.59" font-size="27.13" textLength="50.04" lengthAdjust="spacingAndGlyphs" transform="rotate(-90 1467.67 1053.59)">G (e</text>
<text x="1458.4" y="1002.19" font-size="16.06" textLength="9.9" lengthAdjust="spacingAndGlyphs" transform="rotate(-90 1458.4 1002.19)">2</text>
<text x="1467.56" y="600.5" font-size="27.67" textLength="31.47" lengthAdjust="spacingAndGlyphs" transform="rotate(-90 1467.56 600.5)">/h)</text>
<text x="1467.56" y="793.8" font-size="27.67" textLength="32.11" lengthAdjust="spacingAndGlyphs" transform="rotate(-90 1467.56 793.8)">/h)</text>
<text x="1467.56" y="992.1" font-size="27.67" textLength="32.21" lengthAdjust="spacingAndGlyphs" transform="rotate(-90 1467.56 992.1)">/h)</text>
<text x="1671.11" y="588.5" font-size="19.05" fill="#231f20" textLength="13.08" lengthAdjust="spacingAndGlyphs">Δ</text>
<text x="1683.68" y="588.76" font-size="20.91" font-family="'Liberation Sans', 'DejaVu Sans', sans-serif" font-weight="bold" fill="#231f20" textLength="40.1" lengthAdjust="spacingAndGlyphs">G/(2</text>
<text x="1722.52" y="589.81" font-size="21.85" font-family="'DejaVu Sans', sans-serif" font-weight="bold" fill="#231f20" textLength="9.48" lengthAdjust="spacingAndGlyphs">⟨</text>
<text x="1729.93" y="588.99" font-size="21.34" font-family="'Liberation Sans', 'DejaVu Sans', sans-serif" font-weight="bold" fill="#231f20" textLength="14.98" lengthAdjust="spacingAndGlyphs">G</text>
<text x="1741.91" y="589.81" font-size="21.85" font-family="'DejaVu Sans', sans-serif" font-weight="bold" fill="#231f20" textLength="10.23" lengthAdjust="spacingAndGlyphs">⟩</text>
<text x="1751.45" y="588.76" font-size="20.91" font-family="'Liberation Sans', 'DejaVu Sans', sans-serif" font-weight="bold" fill="#231f20" textLength="64.18" lengthAdjust="spacingAndGlyphs">)~0.8%</text>
<text x="1681.22" y="779.6" font-size="19.2" fill="#231f20" textLength="12.86" lengthAdjust="spacingAndGlyphs">Δ</text>
<text x="1694.29" y="779.11" font-size="20.7" font-family="'Liberation Sans', 'DejaVu Sans', sans-serif" font-weight="bold" fill="#231f20" textLength="39.47" lengthAdjust="spacingAndGlyphs">G/(2</text>
<text x="1733.02" y="779.79" font-size="21.18" font-family="'DejaVu Sans', sans-serif" font-weight="bold" fill="#231f20" textLength="9.48" lengthAdjust="spacingAndGlyphs">⟨</text>
<text x="1740.01" y="779.39" font-size="20.92" font-family="'Liberation Sans', 'DejaVu Sans', sans-serif" font-weight="bold" fill="#231f20" textLength="15.33" lengthAdjust="spacingAndGlyphs">G</text>
<text x="1752.54" y="779.79" font-size="21.18" font-family="'DejaVu Sans', sans-serif" font-weight="bold" fill="#231f20" textLength="8.89" lengthAdjust="spacingAndGlyphs">⟩</text>
<text x="1761.25" y="779.11" font-size="20.7" font-family="'Liberation Sans', 'DejaVu Sans', sans-serif" font-weight="bold" fill="#231f20" textLength="47.91" lengthAdjust="spacingAndGlyphs">)~4%</text>
<text x="1526.72" y="971.7" font-size="18.62" fill="#231f20" textLength="12.97" lengthAdjust="spacingAndGlyphs">Δ</text>
<text x="1539.88" y="971.68" font-size="19.84" font-family="'Liberation Sans', 'DejaVu Sans', sans-serif" font-weight="bold" fill="#231f20" textLength="39.79" lengthAdjust="spacingAndGlyphs">G/(2</text>
<text x="1580.49" y="972.28" font-size="21.29" font-family="'DejaVu Sans', sans-serif" font-weight="bold" fill="#231f20" textLength="8.29" lengthAdjust="spacingAndGlyphs">⟨</text>
<text x="1586.53" y="971.7" font-size="20.07" font-family="'Liberation Sans', 'DejaVu Sans', sans-serif" font-weight="bold" fill="#231f20" textLength="14.98" lengthAdjust="spacingAndGlyphs">G</text>
<text x="1598.66" y="972.28" font-size="21.29" font-family="'DejaVu Sans', sans-serif" font-weight="bold" fill="#231f20" textLength="9.39" lengthAdjust="spacingAndGlyphs">⟩</text>
<text x="1607.55" y="971.68" font-size="19.84" font-family="'Liberation Sans', 'DejaVu Sans', sans-serif" font-weight="bold" fill="#231f20" textLength="56.86" lengthAdjust="spacingAndGlyphs">)~11%</text>
</svg>
</body></html>
